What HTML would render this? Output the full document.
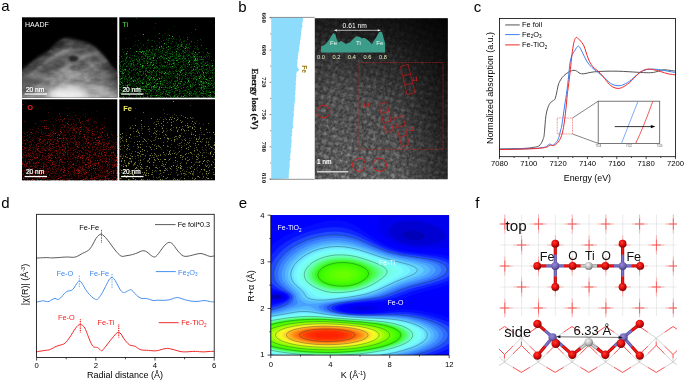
<!DOCTYPE html>
<html><head><meta charset="utf-8"><title>Figure</title>
<style>html,body{margin:0;padding:0;background:#fff}svg{display:block}text{white-space:pre}</style>
</head><body>
<svg width="685" height="381" viewBox="0 0 685 381">
<rect width="685" height="381" fill="#fff"/>
<g id="panel_a">
<defs>
<clipPath id="a1"><rect x="22.0" y="17.3" width="95.3" height="80.3"/></clipPath>
<clipPath id="a2"><rect x="119.3" y="17.3" width="95.7" height="80.3"/></clipPath>
<clipPath id="a3"><rect x="22.0" y="99.3" width="95.3" height="81"/></clipPath>
<clipPath id="a4"><rect x="119.3" y="99.3" width="95.7" height="81"/></clipPath>
<linearGradient id="ag" x1="0" y1="0" x2="0" y2="1">
<stop offset="0" stop-color="#555"/><stop offset="0.45" stop-color="#7d7d7d"/><stop offset="0.75" stop-color="#a8a8a8"/><stop offset="1" stop-color="#e0e0e0"/></linearGradient>
<filter id="ab2" filterUnits="userSpaceOnUse" x="0" y="0" width="240" height="200"><feGaussianBlur stdDeviation="2.2"/></filter>
<filter id="ab15" filterUnits="userSpaceOnUse" x="0" y="0" width="240" height="200"><feGaussianBlur stdDeviation="1.7"/></filter>
<filter id="ab1" filterUnits="userSpaceOnUse" x="0" y="0" width="240" height="200"><feGaussianBlur stdDeviation="1.2"/></filter>
<filter id="ab3" filterUnits="userSpaceOnUse" x="0" y="0" width="240" height="200"><feGaussianBlur stdDeviation="3.5"/></filter>
<filter id="anz" x="0" y="0" width="100%" height="100%"><feTurbulence type="fractalNoise" baseFrequency="0.09 0.16" numOctaves="3" seed="4"/><feColorMatrix type="matrix" values="0 0 0 0 1  0 0 0 0 1  0 0 0 0 1  1.6 0 0 0 -0.62"/></filter>
<filter id="anzd" x="0" y="0" width="100%" height="100%"><feTurbulence type="fractalNoise" baseFrequency="0.08 0.14" numOctaves="3" seed="11"/><feColorMatrix type="matrix" values="0 0 0 0 0  0 0 0 0 0  0 0 0 0 0  1.6 0 0 0 -0.62"/></filter>
<clipPath id="adome"><path d="M20 71.3L22.2 69.5L29 64L37.9 57.2L49 50.5L58 41.6L64.6 38.2L73.6 39.3L87 42.7L93.7 46L101.5 52.7L107 59.8L112.5 66.8L120 75.3L122.3 102.6L17.0 102.6Z"/></clipPath>
</defs>
<rect x="22.0" y="17.3" width="95.3" height="80.3" fill="#000"/>
<rect x="119.3" y="17.3" width="95.7" height="80.3" fill="#000"/>
<rect x="22.0" y="99.3" width="95.3" height="81" fill="#000"/>
<rect x="119.3" y="99.3" width="95.7" height="81" fill="#000"/>
<g clip-path="url(#a1)">
<path d="M20 71.3C20.37 71 20.7 70.72 22.2 69.5C23.7 68.28 26.38 66.05 29 64C31.62 61.95 34.57 59.45 37.9 57.2C41.23 54.95 45.65 53.1 49 50.5C52.35 47.9 55.4 43.65 58 41.6C60.6 39.55 62 38.58 64.6 38.2C67.2 37.82 69.87 38.55 73.6 39.3C77.33 40.05 83.65 41.58 87 42.7C90.35 43.82 91.28 44.33 93.7 46C96.12 47.67 99.28 50.4 101.5 52.7C103.72 55 105.17 57.45 107 59.8C108.83 62.15 110.33 64.22 112.5 66.8C114.67 69.38 118.75 73.88 120 75.3L131.3 137.6L8.0 137.6Z" fill="#3e3e3e" filter="url(#ab15)"/>
<path d="M20 82.3C20.37 82 20.7 81.72 22.2 80.5C23.7 79.28 26.38 77.05 29 75C31.62 72.95 34.57 70.45 37.9 68.2C41.23 65.95 45.65 64.1 49 61.5C52.35 58.9 55.4 54.65 58 52.6C60.6 50.55 62 49.58 64.6 49.2C67.2 48.82 69.87 49.55 73.6 50.3C77.33 51.05 83.65 52.58 87 53.7C90.35 54.82 91.28 55.33 93.7 57C96.12 58.67 99.28 61.4 101.5 63.7C103.72 66 105.17 68.45 107 70.8C108.83 73.15 110.33 75.22 112.5 77.8C114.67 80.38 118.75 84.88 120 86.3L131.3 137.6L8.0 137.6Z" fill="#707070" opacity="0.8" filter="url(#ab3)"/>
<path d="M20 100.3C20.37 100 20.7 99.72 22.2 98.5C23.7 97.28 26.38 95.05 29 93C31.62 90.95 34.57 88.45 37.9 86.2C41.23 83.95 45.65 82.1 49 79.5C52.35 76.9 55.4 72.65 58 70.6C60.6 68.55 62 67.58 64.6 67.2C67.2 66.82 69.87 67.55 73.6 68.3C77.33 69.05 83.65 70.58 87 71.7C90.35 72.82 91.28 73.33 93.7 75C96.12 76.67 99.28 79.4 101.5 81.7C103.72 84 105.17 86.45 107 88.8C108.83 91.15 110.33 93.22 112.5 95.8C114.67 98.38 118.75 102.88 120 104.3L131.3 137.6L8.0 137.6Z" fill="#a0a0a0" opacity="0.8" filter="url(#ab3)"/>
<g clip-path="url(#adome)" opacity="0.22"><rect x="22.0" y="17.3" width="95.3" height="80.3" filter="url(#anz)"/></g>
<g clip-path="url(#adome)" opacity="0.4"><rect x="22.0" y="17.3" width="95.3" height="80.3" filter="url(#anzd)"/></g>
<path d="M30 75.3Q52 57.3 72 47.3" stroke="#ddd" stroke-width="2.2" fill="none" opacity="0.2" filter="url(#ab1)"/>
<path d="M42 83.3Q67 65.3 92 53.3" stroke="#ddd" stroke-width="2.2" fill="none" opacity="0.2" filter="url(#ab1)"/>
<path d="M57 87.3Q80 71.3 102 61.3" stroke="#ddd" stroke-width="2.2" fill="none" opacity="0.2" filter="url(#ab1)"/>
<path d="M77 87.3Q94 75.3 112 69.3" stroke="#ddd" stroke-width="2.2" fill="none" opacity="0.2" filter="url(#ab1)"/>
<path d="M70 53.3Q84 57.3 96 69.3" stroke="#ddd" stroke-width="2.2" fill="none" opacity="0.2" filter="url(#ab1)"/>
<ellipse cx="73.6" cy="58.8" rx="4.6" ry="3" fill="#1c1c1c" opacity="0.85" filter="url(#ab1)"/>
<path d="M56.0 45.3L64.0 41.3" stroke="#222" stroke-width="3" opacity="0.6" filter="url(#ab1)"/>
<path d="M102.0 65.3L118.0 72.3" stroke="#333" stroke-width="4" opacity="0.5" filter="url(#ab1)"/>
<path d="M40.0 72.3L64.0 64.3" stroke="#333" stroke-width="4" opacity="0.45" filter="url(#ab1)"/>
<path d="M44.0 62.3Q64.0 46.3 88.0 50.3" stroke="#ccc" stroke-width="3" fill="none" opacity="0.25" filter="url(#ab1)"/>
<path d="M82.0 57.3Q94.0 48.3 106.0 62.3" stroke="#ccc" stroke-width="5" fill="none" opacity="0.25" filter="url(#ab1)"/>
<ellipse cx="67.0" cy="94.3" rx="19" ry="8" fill="#fff" opacity="0.85" filter="url(#ab3)"/><ellipse cx="82.0" cy="101.3" rx="22" ry="4" fill="#fff" opacity="0.4" filter="url(#ab3)"/><ellipse cx="100.0" cy="95.3" rx="20" ry="8" fill="#fff" opacity="0.3" filter="url(#ab3)"/>
<ellipse cx="36.0" cy="79.3" rx="14" ry="6" fill="#fff" opacity="0.2" filter="url(#ab3)"/>
<ellipse cx="44.0" cy="103.3" rx="22" ry="4" fill="#fff" opacity="0.25" filter="url(#ab3)"/><path d="M24.0 79.3L50.0 83.3" stroke="#222" stroke-width="5" opacity="0.35" filter="url(#ab15)"/>
</g>
<g clip-path="url(#a2)"><g transform="translate(119 17.5)" stroke-width="1" fill="none"><path d="M94 8h1M55 9h1M35 11h1M49 12h1M72 15h1M46 16h1M39 17h1M45 17h1M49 17h1M16 18h1M43 18h1M48 18h1M36 19h1M43 20h1M47 20h1M54 20h1M64 20h1M49 21h1M61 21h1M74 21h1M49 22h1M53 22h1M55 22h1M57 22h1M32 23h1M48 23h1M60 23h1M61 23h1M16 24h1M38 24h1M60 24h1M65 24h1M67 24h1M29 25h1M40 25h1M47 25h1M57 25h1M72 25h1M75 25h1M21 26h1M27 26h1M36 26h1M40 26h1M47 26h1M51 26h1M57 26h1M62 26h1M63 26h1M68 26h1M78 26h1M16 27h1M24 27h1M45 27h1M57 27h1M61 27h1M65 27h1M15 28h1M38 28h1M42 28h1M56 28h1M59 28h1M61 28h1M67 28h1M69 28h1M75 28h1M78 28h1M14 29h1M28 29h1M38 29h1M40 29h1M51 29h1M60 29h1M67 29h1M19 30h1M22 30h1M27 30h1M36 30h1M43 30h1M49 30h1M51 30h1M53 30h1M66 30h1M68 30h1M6 31h1M8 31h1M21 31h1M26 31h1M28 31h1M34 31h1M37 31h1M38 31h1M42 31h1M43 31h1M45 31h1M50 31h1M57 31h1M77 31h1M79 31h1M21 32h1M31 32h1M41 32h1M44 32h1M48 32h1M51 32h1M53 32h1M55 32h1M56 32h1M65 32h1M68 32h1M16 33h1M23 33h1M36 33h1M38 33h1M47 33h1M49 33h1M56 33h1M60 33h1M64 33h1M70 33h1M74 33h1M5 34h1M19 34h1M22 34h1M28 34h1M31 34h1M33 34h1M34 34h1M37 34h1M39 34h1M42 34h1M43 34h1M45 34h1M50 34h1M52 34h1M63 34h1M67 34h1M70 34h1M73 34h1M83 34h1M18 35h1M25 35h1M26 35h1M27 35h1M33 35h1M36 35h1M39 35h1M40 35h1M48 35h1M57 35h1M58 35h1M59 35h1M63 35h1M68 35h1M70 35h1M71 35h1M73 35h1M79 35h1M84 35h1M16 36h1M32 36h1M34 36h1M41 36h1M42 36h1M43 36h1M44 36h1M47 36h1M48 36h1M49 36h1M53 36h1M54 36h1M56 36h1M64 36h1M66 36h1M69 36h1M77 36h1M78 36h1M79 36h1M88 36h1M6 37h1M20 37h1M23 37h1M29 37h1M30 37h1M31 37h1M32 37h1M37 37h1M39 37h1M44 37h1M47 37h1M48 37h1M56 37h1M64 37h1M67 37h1M68 37h1M69 37h1M76 37h1M87 37h1M11 38h1M18 38h1M25 38h1M27 38h1M31 38h1M32 38h1M33 38h1M41 38h1M44 38h1M47 38h1M48 38h1M50 38h1M53 38h1M54 38h1M55 38h1M60 38h1M62 38h1M65 38h1M67 38h1M87 38h1M0 39h1M5 39h1M16 39h1M17 39h1M18 39h1M20 39h1M24 39h1M27 39h1M31 39h1M34 39h1M39 39h1M40 39h1M43 39h1M44 39h1M48 39h1M55 39h1M56 39h1M57 39h1M58 39h1M61 39h1M63 39h1M65 39h1M66 39h1M73 39h1M76 39h1M77 39h1M81 39h1M86 39h1M90 39h1M92 39h1M8 40h1M11 40h1M18 40h1M24 40h1M29 40h1M31 40h1M32 40h1M38 40h1M39 40h1M45 40h1M46 40h1M48 40h1M55 40h1M56 40h1M58 40h1M62 40h1M65 40h1M71 40h1M73 40h1M74 40h1M77 40h1M78 40h1M79 40h1M80 40h1M10 41h1M11 41h1M12 41h1M13 41h1M17 41h1M19 41h1M21 41h1M26 41h1M32 41h1M33 41h1M40 41h1M41 41h1M42 41h1M48 41h1M51 41h1M59 41h1M64 41h1M71 41h1M74 41h1M0 42h1M12 42h1M27 42h1M29 42h1M36 42h1M41 42h1M44 42h1M45 42h1M46 42h1M47 42h1M48 42h1M49 42h1M52 42h1M58 42h1M61 42h1M62 42h1M63 42h1M66 42h1M67 42h1M69 42h1M72 42h1M74 42h1M77 42h1M89 42h1M3 43h1M4 43h1M7 43h1M9 43h1M11 43h1M15 43h1M19 43h1M24 43h1M25 43h1M40 43h1M41 43h1M45 43h1M48 43h1M68 43h1M71 43h1M73 43h1M79 43h1M84 43h1M0 44h1M3 44h1M4 44h1M5 44h1M6 44h1M10 44h1M13 44h1M21 44h1M24 44h1M27 44h1M29 44h1M33 44h1M37 44h1M45 44h1M50 44h1M54 44h1M58 44h1M61 44h1M62 44h1M65 44h1M67 44h1M71 44h1M78 44h1M83 44h1M88 44h1M10 45h1M19 45h1M25 45h1M37 45h1M38 45h1M40 45h1M50 45h1M60 45h1M61 45h1M70 45h1M72 45h1M74 45h1M75 45h1M77 45h1M79 45h1M81 45h1M82 45h1M83 45h1M84 45h1M86 45h1M87 45h1M6 46h1M10 46h1M13 46h1M14 46h1M19 46h1M21 46h1M24 46h1M25 46h1M26 46h1M27 46h1M34 46h1M35 46h1M40 46h1M42 46h1M48 46h1M51 46h1M57 46h1M58 46h1M64 46h1M69 46h1M73 46h1M74 46h1M81 46h1M1 47h1M6 47h1M11 47h1M16 47h1M17 47h1M18 47h1M30 47h1M33 47h1M48 47h1M49 47h1M56 47h1M57 47h1M58 47h1M65 47h1M66 47h1M69 47h1M74 47h1M77 47h1M83 47h1M85 47h1M89 47h1M0 48h1M7 48h1M8 48h1M10 48h1M17 48h1M31 48h1M34 48h1M41 48h1M42 48h1M54 48h1M58 48h1M61 48h1M62 48h1M63 48h1M64 48h1M65 48h1M69 48h1M70 48h1M79 48h1M83 48h1M84 48h1M90 48h1M91 48h1M92 48h1M94 48h1M0 49h1M5 49h1M9 49h1M14 49h1M15 49h1M18 49h1M22 49h1M25 49h1M29 49h1M30 49h1M32 49h1M35 49h1M38 49h1M41 49h1M42 49h1M47 49h1M48 49h1M50 49h1M52 49h1M54 49h1M65 49h1M66 49h1M73 49h1M78 49h1M79 49h1M90 49h1M3 50h1M11 50h1M12 50h1M13 50h1M16 50h1M25 50h1M28 50h1M29 50h1M33 50h1M37 50h1M41 50h1M45 50h1M47 50h1M52 50h1M53 50h1M54 50h1M69 50h1M76 50h1M77 50h1M82 50h1M84 50h1M87 50h1M95 50h1M0 51h1M3 51h1M5 51h1M10 51h1M14 51h1M15 51h1M16 51h1M17 51h1M22 51h1M30 51h1M39 51h1M41 51h1M44 51h1M45 51h1M48 51h1M52 51h1M53 51h1M54 51h1M60 51h1M61 51h1M62 51h1M63 51h1M67 51h1M76 51h1M77 51h1M83 51h1M94 51h1M2 52h1M4 52h1M7 52h1M15 52h1M16 52h1M18 52h1M26 52h1M40 52h1M48 52h1M60 52h1M65 52h1M68 52h1M70 52h1M72 52h1M78 52h1M85 52h1M90 52h1M93 52h1M3 53h1M5 53h1M8 53h1M9 53h1M13 53h1M14 53h1M19 53h1M23 53h1M40 53h1M41 53h1M43 53h1M45 53h1M50 53h1M57 53h1M66 53h1M69 53h1M74 53h1M75 53h1M77 53h1M82 53h1M84 53h1M85 53h1M87 53h1M88 53h1M89 53h1M92 53h1M94 53h1M0 54h1M7 54h1M12 54h1M29 54h1M39 54h1M48 54h1M51 54h1M53 54h1M56 54h1M66 54h1M71 54h1M76 54h1M77 54h1M78 54h1M88 54h1M92 54h1M0 55h1M4 55h1M9 55h1M11 55h1M15 55h1M20 55h1M21 55h1M37 55h1M44 55h1M50 55h1M51 55h1M53 55h1M55 55h1M64 55h1M87 55h1M95 55h1M8 56h1M9 56h1M10 56h1M31 56h1M35 56h1M55 56h1M57 56h1M60 56h1M65 56h1M67 56h1M80 56h1M82 56h1M3 57h1M6 57h1M7 57h1M14 57h1M15 57h1M21 57h1M23 57h1M24 57h1M30 57h1M34 57h1M45 57h1M47 57h1M56 57h1M67 57h1M83 57h1M85 57h1M94 57h1M2 58h1M3 58h1M6 58h1M8 58h1M10 58h1M15 58h1M18 58h1M19 58h1M20 58h1M23 58h1M29 58h1M30 58h1M31 58h1M33 58h1M34 58h1M35 58h1M40 58h1M47 58h1M51 58h1M52 58h1M53 58h1M55 58h1M56 58h1M58 58h1M61 58h1M63 58h1M65 58h1M72 58h1M78 58h1M90 58h1M93 58h1M95 58h1M1 59h1M3 59h1M7 59h1M11 59h1M14 59h1M15 59h1M27 59h1M37 59h1M46 59h1M47 59h1M49 59h1M52 59h1M55 59h1M58 59h1M59 59h1M63 59h1M65 59h1M72 59h1M73 59h1M90 59h1M92 59h1M93 59h1M94 59h1M95 59h1M4 60h1M13 60h1M20 60h1M24 60h1M30 60h1M31 60h1M35 60h1M40 60h1M42 60h1M45 60h1M47 60h1M50 60h1M53 60h1M55 60h1M56 60h1M60 60h1M63 60h1M68 60h1M70 60h1M76 60h1M82 60h1M83 60h1M84 60h1M89 60h1M91 60h1M1 61h1M9 61h1M21 61h1M33 61h1M35 61h1M37 61h1M38 61h1M41 61h1M44 61h1M48 61h1M53 61h1M61 61h1M67 61h1M70 61h1M73 61h1M79 61h1M82 61h1M85 61h1M86 61h1M87 61h1M92 61h1M94 61h1M6 62h1M7 62h1M10 62h1M13 62h1M19 62h1M20 62h1M23 62h1M25 62h1M27 62h1M31 62h1M43 62h1M46 62h1M47 62h1M52 62h1M53 62h1M58 62h1M63 62h1M69 62h1M70 62h1M75 62h1M78 62h1M81 62h1M82 62h1M85 62h1M94 62h1M5 63h1M9 63h1M20 63h1M22 63h1M26 63h1M28 63h1M29 63h1M31 63h1M33 63h1M34 63h1M42 63h1M46 63h1M55 63h1M56 63h1M57 63h1M62 63h1M73 63h1M80 63h1M93 63h1M94 63h1M95 63h1M3 64h1M7 64h1M8 64h1M13 64h1M17 64h1M23 64h1M24 64h1M25 64h1M26 64h1M33 64h1M40 64h1M43 64h1M44 64h1M45 64h1M50 64h1M51 64h1M52 64h1M58 64h1M60 64h1M66 64h1M68 64h1M71 64h1M72 64h1M76 64h1M79 64h1M83 64h1M89 64h1M90 64h1M91 64h1M93 64h1M94 64h1M3 65h1M17 65h1M18 65h1M24 65h1M25 65h1M29 65h1M33 65h1M41 65h1M43 65h1M44 65h1M49 65h1M56 65h1M60 65h1M63 65h1M69 65h1M72 65h1M74 65h1M79 65h1M80 65h1M83 65h1M89 65h1M1 66h1M10 66h1M11 66h1M12 66h1M13 66h1M14 66h1M16 66h1M18 66h1M21 66h1M29 66h1M34 66h1M42 66h1M50 66h1M51 66h1M52 66h1M55 66h1M64 66h1M65 66h1M67 66h1M68 66h1M69 66h1M82 66h1M86 66h1M87 66h1M88 66h1M93 66h1M94 66h1M14 67h1M15 67h1M16 67h1M19 67h1M20 67h1M46 67h1M49 67h1M55 67h1M58 67h1M69 67h1M77 67h1M83 67h1M84 67h1M95 67h1M9 68h1M11 68h1M14 68h1M15 68h1M21 68h1M30 68h1M41 68h1M43 68h1M44 68h1M45 68h1M46 68h1M50 68h1M51 68h1M53 68h1M56 68h1M62 68h1M63 68h1M70 68h1M72 68h1M73 68h1M79 68h1M80 68h1M85 68h1M86 68h1M91 68h1M0 69h1M2 69h1M13 69h1M15 69h1M16 69h1M20 69h1M21 69h1M22 69h1M25 69h1M29 69h1M30 69h1M36 69h1M37 69h1M41 69h1M53 69h1M55 69h1M59 69h1M60 69h1M61 69h1M69 69h1M82 69h1M83 69h1M87 69h1M88 69h1M89 69h1M90 69h1M92 69h1M95 69h1M2 70h1M3 70h1M7 70h1M14 70h1M19 70h1M20 70h1M26 70h1M28 70h1M33 70h1M43 70h1M45 70h1M49 70h1M53 70h1M55 70h1M62 70h1M69 70h1M71 70h1M73 70h1M78 70h1M79 70h1M81 70h1M85 70h1M87 70h1M88 70h1M93 70h1M95 70h1M0 71h1M5 71h1M6 71h1M13 71h1M22 71h1M25 71h1M27 71h1M35 71h1M37 71h1M49 71h1M54 71h1M66 71h1M68 71h1M88 71h1M89 71h1M90 71h1M91 71h1M92 71h1M93 71h1M5 72h1M6 72h1M13 72h1M15 72h1M21 72h1M26 72h1M27 72h1M31 72h1M32 72h1M34 72h1M38 72h1M41 72h1M57 72h1M58 72h1M59 72h1M66 72h1M67 72h1M70 72h1M76 72h1M84 72h1M95 72h1M4 73h1M5 73h1M6 73h1M17 73h1M19 73h1M25 73h1M27 73h1M38 73h1M40 73h1M41 73h1M48 73h1M49 73h1M60 73h1M62 73h1M64 73h1M67 73h1M70 73h1M73 73h1M75 73h1M81 73h1M88 73h1M89 73h1M90 73h1M0 74h1M16 74h1M21 74h1M29 74h1M34 74h1M38 74h1M40 74h1M43 74h1M49 74h1M50 74h1M52 74h1M61 74h1M64 74h1M69 74h1M72 74h1M78 74h1M85 74h1M86 74h1M89 74h1M91 74h1M1 75h1M2 75h1M7 75h1M11 75h1M12 75h1M13 75h1M21 75h1M29 75h1M34 75h1M36 75h1M38 75h1M44 75h1M47 75h1M48 75h1M56 75h1M61 75h1M62 75h1M65 75h1M69 75h1M70 75h1M71 75h1M75 75h1M78 75h1M79 75h1M81 75h1M83 75h1M84 75h1M88 75h1M93 75h1M95 75h1M0 76h1M2 76h1M3 76h1M4 76h1M20 76h1M24 76h1M29 76h1M30 76h1M36 76h1M37 76h1M39 76h1M40 76h1M41 76h1M42 76h1M48 76h1M54 76h1M55 76h1M59 76h1M61 76h1M62 76h1M65 76h1M66 76h1M75 76h1M87 76h1M92 76h1M2 77h1M3 77h1M4 77h1M6 77h1M7 77h1M14 77h1M18 77h1M20 77h1M26 77h1M27 77h1M29 77h1M32 77h1M43 77h1M46 77h1M47 77h1M52 77h1M55 77h1M56 77h1M58 77h1M60 77h1M65 77h1M66 77h1M68 77h1M70 77h1M73 77h1M74 77h1M75 77h1M77 77h1M78 77h1M81 77h1M84 77h1M88 77h1M90 77h1M9 78h1M11 78h1M20 78h1M24 78h1M28 78h1M34 78h1M38 78h1M41 78h1M46 78h1M51 78h1M58 78h1M60 78h1M67 78h1M73 78h1M76 78h1M77 78h1M79 78h1M80 78h1M87 78h1M92 78h1M94 78h1M0 79h1M1 79h1M2 79h1M3 79h1M7 79h1M10 79h1M14 79h1M16 79h1M17 79h1M18 79h1M36 79h1M37 79h1M39 79h1M47 79h1M53 79h1M56 79h1M61 79h1M66 79h1M67 79h1M71 79h1M76 79h1M77 79h1M85 79h1M93 79h1M6 80h1M13 80h1M14 80h1M16 80h1M18 80h1M22 80h1M30 80h1M32 80h1M34 80h1M35 80h1M37 80h1M41 80h1M43 80h1M46 80h1M53 80h1M55 80h1M63 80h1M64 80h1M68 80h1M71 80h1M73 80h1M81 80h1" stroke="#002800"/><path d="M17 1h1M36 6h1M60 19h1M6 21h1M52 21h1M54 21h1M29 22h1M47 22h1M61 22h1M81 22h1M19 23h1M28 23h1M29 23h1M33 23h1M44 23h1M49 23h1M65 23h1M78 23h1M35 24h1M42 24h1M64 24h1M49 25h1M52 26h1M70 26h1M47 27h1M63 27h1M70 27h1M18 28h1M24 28h1M37 28h1M58 28h1M32 29h1M44 29h1M55 29h1M61 29h1M63 29h1M71 29h1M76 29h1M42 30h1M59 30h1M60 30h1M64 30h1M78 30h1M51 31h1M65 31h1M68 31h1M70 31h1M75 31h1M3 32h1M30 32h1M33 32h1M36 32h1M39 32h1M58 32h1M59 32h1M61 32h1M78 32h1M79 32h1M28 33h1M33 33h1M39 33h1M63 33h1M66 33h1M68 33h1M18 34h1M27 34h1M29 34h1M41 34h1M53 34h1M74 34h1M4 35h1M15 35h1M21 35h1M24 35h1M29 35h1M43 35h1M47 35h1M53 35h1M55 35h1M66 35h1M8 36h1M19 36h1M27 36h1M33 36h1M35 36h1M36 36h1M50 36h1M51 36h1M52 36h1M57 36h1M60 36h1M62 36h1M72 36h1M73 36h1M74 36h1M89 36h1M90 36h1M5 37h1M7 37h1M24 37h1M25 37h1M28 37h1M33 37h1M45 37h1M51 37h1M59 37h1M60 37h1M70 37h1M73 37h1M75 37h1M77 37h1M78 37h1M13 38h1M35 38h1M36 38h1M42 38h1M57 38h1M59 38h1M64 38h1M70 38h1M74 38h1M76 38h1M89 38h1M8 39h1M15 39h1M22 39h1M23 39h1M26 39h1M29 39h1M35 39h1M36 39h1M52 39h1M68 39h1M71 39h1M74 39h1M78 39h1M80 39h1M85 39h1M88 39h1M19 40h1M22 40h1M28 40h1M33 40h1M50 40h1M51 40h1M57 40h1M64 40h1M72 40h1M84 40h1M86 40h1M90 40h1M3 41h1M24 41h1M30 41h1M44 41h1M45 41h1M55 41h1M56 41h1M61 41h1M65 41h1M69 41h1M6 42h1M15 42h1M22 42h1M23 42h1M30 42h1M53 42h1M54 42h1M59 42h1M65 42h1M75 42h1M80 42h1M81 42h1M84 42h1M6 43h1M14 43h1M18 43h1M20 43h1M27 43h1M32 43h1M33 43h1M35 43h1M52 43h1M53 43h1M55 43h1M67 43h1M69 43h1M92 43h1M94 43h1M8 44h1M18 44h1M19 44h1M20 44h1M25 44h1M46 44h1M51 44h1M63 44h1M66 44h1M74 44h1M76 44h1M84 44h1M1 45h1M7 45h1M20 45h1M28 45h1M29 45h1M34 45h1M36 45h1M41 45h1M45 45h1M54 45h1M55 45h1M64 45h1M88 45h1M9 46h1M11 46h1M23 46h1M31 46h1M37 46h1M50 46h1M53 46h1M55 46h1M67 46h1M90 46h1M93 46h1M4 47h1M9 47h1M42 47h1M55 47h1M59 47h1M64 47h1M68 47h1M72 47h1M75 47h1M78 47h1M79 47h1M84 47h1M1 48h1M4 48h1M11 48h1M12 48h1M14 48h1M15 48h1M26 48h1M28 48h1M29 48h1M30 48h1M36 48h1M40 48h1M43 48h1M44 48h1M45 48h1M47 48h1M55 48h1M66 48h1M77 48h1M80 48h1M85 48h1M86 48h1M89 48h1M1 49h1M3 49h1M8 49h1M11 49h1M21 49h1M24 49h1M46 49h1M51 49h1M56 49h1M72 49h1M80 49h1M92 49h1M93 49h1M0 50h1M20 50h1M27 50h1M31 50h1M36 50h1M49 50h1M51 50h1M55 50h1M57 50h1M63 50h1M66 50h1M71 50h1M72 50h1M90 50h1M93 50h1M1 51h1M18 51h1M23 51h1M26 51h1M27 51h1M31 51h1M34 51h1M37 51h1M40 51h1M43 51h1M74 51h1M78 51h1M82 51h1M84 51h1M88 51h1M90 51h1M95 51h1M3 52h1M17 52h1M20 52h1M21 52h1M27 52h1M39 52h1M57 52h1M62 52h1M63 52h1M77 52h1M81 52h1M82 52h1M86 52h1M94 52h1M12 53h1M16 53h1M26 53h1M27 53h1M47 53h1M56 53h1M59 53h1M63 53h1M72 53h1M79 53h1M83 53h1M91 53h1M3 54h1M9 54h1M22 54h1M24 54h1M31 54h1M32 54h1M33 54h1M35 54h1M40 54h1M42 54h1M43 54h1M45 54h1M54 54h1M58 54h1M61 54h1M62 54h1M72 54h1M79 54h1M89 54h1M5 55h1M10 55h1M24 55h1M28 55h1M32 55h1M33 55h1M36 55h1M41 55h1M42 55h1M43 55h1M49 55h1M66 55h1M67 55h1M70 55h1M71 55h1M73 55h1M74 55h1M80 55h1M88 55h1M91 55h1M2 56h1M17 56h1M19 56h1M26 56h1M32 56h1M37 56h1M44 56h1M46 56h1M47 56h1M49 56h1M51 56h1M52 56h1M63 56h1M69 56h1M70 56h1M71 56h1M75 56h1M76 56h1M78 56h1M89 56h1M93 56h1M95 56h1M0 57h1M19 57h1M32 57h1M37 57h1M40 57h1M49 57h1M50 57h1M59 57h1M60 57h1M72 57h1M81 57h1M84 57h1M4 58h1M46 58h1M57 58h1M64 58h1M68 58h1M71 58h1M74 58h1M75 58h1M87 58h1M10 59h1M26 59h1M29 59h1M30 59h1M31 59h1M36 59h1M42 59h1M43 59h1M51 59h1M56 59h1M66 59h1M76 59h1M77 59h1M79 59h1M81 59h1M82 59h1M0 60h1M3 60h1M5 60h1M9 60h1M10 60h1M12 60h1M14 60h1M16 60h1M25 60h1M28 60h1M29 60h1M39 60h1M43 60h1M49 60h1M75 60h1M77 60h1M80 60h1M85 60h1M3 61h1M5 61h1M7 61h1M11 61h1M17 61h1M19 61h1M20 61h1M24 61h1M28 61h1M34 61h1M45 61h1M50 61h1M60 61h1M63 61h1M66 61h1M68 61h1M69 61h1M72 61h1M75 61h1M76 61h1M78 61h1M5 62h1M8 62h1M11 62h1M15 62h1M33 62h1M37 62h1M40 62h1M60 62h1M62 62h1M68 62h1M74 62h1M83 62h1M86 62h1M88 62h1M3 63h1M8 63h1M10 63h1M13 63h1M15 63h1M18 63h1M21 63h1M23 63h1M36 63h1M37 63h1M44 63h1M47 63h1M52 63h1M77 63h1M79 63h1M81 63h1M88 63h1M89 63h1M90 63h1M5 64h1M11 64h1M12 64h1M16 64h1M19 64h1M27 64h1M36 64h1M39 64h1M42 64h1M48 64h1M55 64h1M57 64h1M65 64h1M84 64h1M10 65h1M19 65h1M22 65h1M27 65h1M45 65h1M51 65h1M59 65h1M68 65h1M70 65h1M81 65h1M85 65h1M91 65h1M95 65h1M17 66h1M20 66h1M32 66h1M36 66h1M37 66h1M39 66h1M43 66h1M47 66h1M48 66h1M73 66h1M79 66h1M83 66h1M85 66h1M90 66h1M95 66h1M6 67h1M8 67h1M10 67h1M11 67h1M27 67h1M30 67h1M31 67h1M41 67h1M44 67h1M54 67h1M56 67h1M61 67h1M64 67h1M73 67h1M74 67h1M81 67h1M88 67h1M90 67h1M94 67h1M0 68h1M3 68h1M6 68h1M7 68h1M26 68h1M27 68h1M31 68h1M37 68h1M42 68h1M48 68h1M64 68h1M82 68h1M83 68h1M84 68h1M23 69h1M33 69h1M40 69h1M46 69h1M50 69h1M51 69h1M73 69h1M85 69h1M94 69h1M4 70h1M12 70h1M23 70h1M25 70h1M30 70h1M44 70h1M47 70h1M48 70h1M50 70h1M51 70h1M56 70h1M58 70h1M67 70h1M72 70h1M80 70h1M83 70h1M84 70h1M9 71h1M10 71h1M12 71h1M19 71h1M21 71h1M24 71h1M32 71h1M34 71h1M39 71h1M48 71h1M50 71h1M55 71h1M71 71h1M77 71h1M81 71h1M84 71h1M87 71h1M11 72h1M14 72h1M19 72h1M20 72h1M28 72h1M33 72h1M35 72h1M36 72h1M44 72h1M52 72h1M53 72h1M60 72h1M77 72h1M82 72h1M85 72h1M3 73h1M8 73h1M26 73h1M50 73h1M51 73h1M56 73h1M57 73h1M61 73h1M65 73h1M87 73h1M7 74h1M11 74h1M12 74h1M17 74h1M18 74h1M22 74h1M24 74h1M31 74h1M32 74h1M37 74h1M39 74h1M46 74h1M53 74h1M55 74h1M63 74h1M67 74h1M68 74h1M70 74h1M71 74h1M76 74h1M87 74h1M93 74h1M94 74h1M95 74h1M14 75h1M19 75h1M26 75h1M30 75h1M41 75h1M42 75h1M51 75h1M55 75h1M72 75h1M77 75h1M82 75h1M87 75h1M89 75h1M94 75h1M9 76h1M12 76h1M14 76h1M18 76h1M19 76h1M21 76h1M27 76h1M32 76h1M50 76h1M64 76h1M67 76h1M71 76h1M72 76h1M76 76h1M77 76h1M81 76h1M85 76h1M86 76h1M0 77h1M5 77h1M9 77h1M10 77h1M16 77h1M19 77h1M21 77h1M28 77h1M38 77h1M41 77h1M42 77h1M49 77h1M57 77h1M69 77h1M71 77h1M76 77h1M80 77h1M87 77h1M17 78h1M32 78h1M33 78h1M35 78h1M36 78h1M39 78h1M40 78h1M49 78h1M50 78h1M56 78h1M59 78h1M62 78h1M66 78h1M78 78h1M82 78h1M83 78h1M91 78h1M24 79h1M31 79h1M32 79h1M43 79h1M54 79h1M63 79h1M68 79h1M78 79h1M79 79h1M84 79h1M88 79h1M90 79h1M2 80h1M8 80h1M15 80h1M23 80h1M48 80h1M49 80h1M50 80h1M60 80h1M62 80h1M67 80h1M69 80h1M83 80h1M87 80h1M88 80h1M93 80h1M94 80h1M95 80h1" stroke="#0a440a"/><path d="M37 0h1M76 12h1M40 16h1M50 18h1M68 20h1M40 21h1M50 21h1M68 22h1M53 24h1M72 24h1M62 25h1M59 27h1M62 27h1M67 27h1M62 28h1M82 28h1M33 29h1M58 29h1M62 29h1M66 29h1M47 30h1M67 30h1M69 30h1M11 31h1M44 31h1M58 31h1M87 31h1M20 32h1M37 32h1M49 32h1M27 33h1M30 33h1M43 33h1M8 34h1M20 34h1M21 34h1M24 34h1M25 34h1M48 34h1M64 34h1M32 35h1M46 35h1M65 35h1M80 35h1M88 35h1M24 36h1M26 36h1M27 37h1M35 37h1M53 37h1M57 37h1M15 38h1M26 38h1M46 38h1M61 38h1M69 38h1M2 39h1M28 39h1M30 39h1M41 39h1M42 39h1M51 39h1M53 39h1M59 39h1M60 39h1M64 39h1M82 39h1M7 40h1M10 40h1M40 40h1M43 40h1M49 40h1M75 40h1M82 40h1M7 41h1M25 41h1M28 41h1M31 41h1M38 41h1M50 41h1M57 41h1M60 41h1M63 41h1M66 41h1M78 41h1M17 42h1M20 42h1M31 42h1M78 42h1M82 42h1M83 42h1M13 43h1M34 43h1M37 43h1M50 43h1M54 43h1M58 43h1M64 43h1M70 43h1M76 43h1M77 43h1M78 43h1M2 44h1M11 44h1M28 44h1M14 45h1M31 45h1M46 45h1M48 45h1M59 45h1M5 46h1M12 46h1M18 46h1M76 46h1M77 46h1M78 46h1M82 46h1M86 46h1M0 47h1M12 47h1M14 47h1M31 47h1M50 47h1M52 47h1M88 47h1M24 48h1M7 49h1M37 49h1M43 49h1M45 49h1M62 49h1M68 49h1M82 49h1M83 49h1M23 50h1M35 50h1M38 50h1M61 50h1M35 51h1M5 52h1M10 52h1M14 52h1M64 52h1M76 52h1M80 52h1M87 52h1M0 53h1M4 53h1M6 53h1M30 53h1M38 53h1M61 53h1M73 53h1M93 53h1M1 54h1M2 54h1M20 54h1M21 54h1M26 54h1M28 54h1M37 54h1M50 54h1M57 54h1M60 54h1M83 54h1M3 55h1M18 55h1M29 55h1M30 55h1M40 55h1M78 55h1M86 55h1M93 55h1M3 56h1M24 56h1M42 56h1M48 56h1M54 56h1M58 56h1M72 56h1M84 56h1M87 56h1M9 57h1M26 57h1M58 57h1M62 57h1M22 58h1M37 58h1M60 58h1M81 58h1M84 58h1M6 59h1M80 59h1M57 60h1M58 60h1M81 60h1M93 60h1M29 61h1M31 61h1M42 61h1M58 61h1M74 61h1M84 61h1M90 61h1M1 62h1M18 62h1M24 62h1M14 63h1M16 63h1M30 63h1M45 63h1M58 63h1M92 63h1M0 64h1M1 64h1M21 64h1M56 64h1M61 64h1M81 64h1M86 64h1M8 65h1M23 65h1M31 65h1M35 65h1M66 65h1M76 65h1M82 65h1M84 65h1M3 66h1M24 66h1M27 66h1M30 66h1M54 66h1M56 66h1M59 66h1M60 66h1M61 66h1M84 66h1M92 66h1M1 67h1M9 67h1M28 67h1M37 67h1M43 67h1M65 67h1M71 67h1M76 67h1M82 67h1M91 67h1M4 68h1M10 68h1M28 68h1M55 68h1M71 68h1M75 68h1M89 68h1M93 68h1M17 69h1M24 69h1M26 69h1M27 69h1M32 69h1M35 69h1M38 69h1M54 69h1M57 69h1M68 69h1M84 69h1M1 70h1M6 70h1M21 70h1M27 70h1M32 70h1M34 70h1M35 70h1M36 70h1M37 70h1M46 70h1M59 70h1M64 70h1M94 70h1M15 71h1M18 71h1M20 71h1M40 71h1M57 71h1M62 71h1M82 71h1M85 71h1M1 72h1M8 72h1M18 72h1M23 72h1M24 72h1M29 72h1M30 72h1M39 72h1M40 72h1M45 72h1M69 72h1M2 73h1M18 73h1M31 73h1M32 73h1M37 73h1M47 73h1M58 73h1M66 73h1M83 73h1M27 74h1M44 74h1M47 74h1M60 74h1M75 74h1M80 74h1M84 74h1M0 75h1M3 75h1M20 75h1M49 75h1M50 75h1M68 75h1M90 75h1M1 76h1M6 76h1M26 76h1M28 76h1M43 76h1M46 76h1M60 76h1M74 76h1M82 76h1M83 76h1M84 76h1M95 76h1M91 77h1M0 78h1M10 78h1M31 78h1M55 78h1M65 78h1M70 78h1M72 78h1M89 78h1M90 78h1M4 79h1M21 79h1M28 79h1M41 79h1M51 79h1M55 79h1M62 79h1M91 79h1M95 79h1M33 80h1M36 80h1M42 80h1M52 80h1M65 80h1M75 80h1M76 80h1" stroke="#146a14"/><path d="M24 17h1M53 19h1M45 26h1M42 29h1M49 29h1M40 30h1M66 31h1M17 34h1M23 34h1M57 34h1M22 35h1M76 35h1M7 36h1M75 39h1M34 40h1M34 41h1M47 41h1M76 41h1M76 42h1M49 43h1M57 43h1M75 43h1M70 44h1M32 45h1M69 45h1M28 46h1M54 46h1M21 47h1M34 47h1M70 47h1M23 48h1M33 48h1M87 48h1M93 48h1M23 49h1M53 49h1M75 49h1M78 50h1M6 52h1M74 52h1M34 53h1M62 53h1M46 55h1M61 55h1M84 55h1M4 56h1M45 56h1M66 57h1M27 58h1M85 59h1M32 60h1M34 60h1M2 61h1M12 61h1M40 61h1M80 61h1M91 61h1M30 62h1M35 62h1M38 62h1M77 62h1M87 62h1M69 63h1M14 64h1M41 64h1M62 64h1M69 64h1M82 64h1M2 65h1M87 65h1M0 66h1M23 66h1M38 66h1M41 66h1M89 66h1M29 67h1M80 67h1M8 68h1M35 68h1M58 68h1M8 69h1M34 69h1M71 69h1M86 69h1M5 70h1M18 70h1M40 70h1M42 70h1M52 70h1M82 70h1M56 71h1M22 72h1M25 72h1M13 73h1M91 75h1M70 76h1M22 77h1M48 77h1M37 78h1M58 79h1M64 79h1M12 80h1M57 80h1" stroke="#2aa82a"/></g></g>
<g clip-path="url(#a3)"><g transform="translate(22 99.5)" stroke-width="1" fill="none"><path d="M23 3h1M43 8h1M11 9h1M27 9h1M21 10h1M61 10h1M74 12h1M51 13h1M43 14h1M47 14h1M63 14h1M65 15h1M35 16h1M31 17h1M34 18h1M50 18h1M53 18h1M58 18h1M72 18h1M74 19h1M27 20h1M33 20h1M46 20h1M47 20h1M48 20h1M68 20h1M18 21h1M23 21h1M52 21h1M3 22h1M28 22h1M31 22h1M50 22h1M52 22h1M65 22h1M69 22h1M21 23h1M57 23h1M71 23h1M73 23h1M29 24h1M34 24h1M49 24h1M60 24h1M72 24h1M24 25h1M52 25h1M59 25h1M62 25h1M66 25h1M67 25h1M83 25h1M37 26h1M42 26h1M47 26h1M52 26h1M54 26h1M58 26h1M68 26h1M70 26h1M78 26h1M16 27h1M23 27h1M31 27h1M39 27h1M46 27h1M60 27h1M70 27h1M11 28h1M23 28h1M26 28h1M32 28h1M36 28h1M43 28h1M45 28h1M50 28h1M52 28h1M54 28h1M61 28h1M63 28h1M67 28h1M80 28h1M23 29h1M33 29h1M39 29h1M45 29h1M46 29h1M50 29h1M56 29h1M57 29h1M65 29h1M72 29h1M74 29h1M76 29h1M78 29h1M81 29h1M83 29h1M16 30h1M19 30h1M35 30h1M44 30h1M47 30h1M49 30h1M53 30h1M63 30h1M64 30h1M71 30h1M81 30h1M17 31h1M23 31h1M32 31h1M37 31h1M38 31h1M42 31h1M43 31h1M44 31h1M46 31h1M48 31h1M49 31h1M50 31h1M56 31h1M63 31h1M68 31h1M73 31h1M79 31h1M82 31h1M6 32h1M15 32h1M30 32h1M41 32h1M42 32h1M45 32h1M51 32h1M53 32h1M57 32h1M59 32h1M61 32h1M62 32h1M67 32h1M71 32h1M77 32h1M80 32h1M83 32h1M13 33h1M15 33h1M21 33h1M28 33h1M41 33h1M45 33h1M46 33h1M51 33h1M67 33h1M74 33h1M75 33h1M77 33h1M13 34h1M19 34h1M21 34h1M29 34h1M36 34h1M40 34h1M43 34h1M47 34h1M51 34h1M59 34h1M66 34h1M71 34h1M89 34h1M3 35h1M14 35h1M16 35h1M19 35h1M30 35h1M31 35h1M35 35h1M37 35h1M40 35h1M41 35h1M42 35h1M43 35h1M44 35h1M47 35h1M50 35h1M58 35h1M63 35h1M66 35h1M69 35h1M70 35h1M71 35h1M82 35h1M11 36h1M23 36h1M33 36h1M47 36h1M53 36h1M55 36h1M62 36h1M69 36h1M71 36h1M72 36h1M77 36h1M82 36h1M0 37h1M7 37h1M8 37h1M12 37h1M20 37h1M22 37h1M26 37h1M40 37h1M41 37h1M48 37h1M56 37h1M57 37h1M58 37h1M67 37h1M77 37h1M80 37h1M91 37h1M95 37h1M0 38h1M10 38h1M13 38h1M24 38h1M27 38h1M33 38h1M39 38h1M42 38h1M45 38h1M51 38h1M57 38h1M62 38h1M65 38h1M66 38h1M67 38h1M68 38h1M69 38h1M70 38h1M73 38h1M78 38h1M90 38h1M1 39h1M5 39h1M10 39h1M12 39h1M14 39h1M18 39h1M34 39h1M36 39h1M39 39h1M42 39h1M46 39h1M48 39h1M55 39h1M57 39h1M77 39h1M81 39h1M1 40h1M9 40h1M15 40h1M24 40h1M29 40h1M30 40h1M39 40h1M41 40h1M42 40h1M45 40h1M48 40h1M55 40h1M61 40h1M70 40h1M73 40h1M76 40h1M79 40h1M91 40h1M92 40h1M93 40h1M1 41h1M9 41h1M16 41h1M20 41h1M22 41h1M26 41h1M31 41h1M34 41h1M36 41h1M37 41h1M40 41h1M43 41h1M44 41h1M47 41h1M49 41h1M66 41h1M68 41h1M69 41h1M70 41h1M71 41h1M80 41h1M7 42h1M19 42h1M26 42h1M27 42h1M30 42h1M32 42h1M39 42h1M43 42h1M46 42h1M54 42h1M55 42h1M56 42h1M57 42h1M58 42h1M61 42h1M63 42h1M69 42h1M90 42h1M4 43h1M8 43h1M9 43h1M21 43h1M23 43h1M30 43h1M35 43h1M36 43h1M41 43h1M42 43h1M45 43h1M46 43h1M47 43h1M48 43h1M53 43h1M55 43h1M62 43h1M63 43h1M64 43h1M65 43h1M67 43h1M74 43h1M79 43h1M90 43h1M91 43h1M2 44h1M9 44h1M17 44h1M18 44h1M19 44h1M21 44h1M35 44h1M36 44h1M39 44h1M58 44h1M68 44h1M74 44h1M81 44h1M82 44h1M83 44h1M92 44h1M7 45h1M11 45h1M13 45h1M22 45h1M34 45h1M36 45h1M43 45h1M46 45h1M48 45h1M56 45h1M59 45h1M61 45h1M65 45h1M71 45h1M78 45h1M79 45h1M83 45h1M11 46h1M17 46h1M22 46h1M26 46h1M37 46h1M45 46h1M49 46h1M55 46h1M63 46h1M64 46h1M68 46h1M74 46h1M77 46h1M79 46h1M82 46h1M84 46h1M85 46h1M90 46h1M91 46h1M93 46h1M1 47h1M8 47h1M12 47h1M18 47h1M26 47h1M29 47h1M31 47h1M41 47h1M42 47h1M46 47h1M57 47h1M60 47h1M64 47h1M69 47h1M70 47h1M77 47h1M78 47h1M79 47h1M80 47h1M82 47h1M83 47h1M88 47h1M4 48h1M5 48h1M8 48h1M9 48h1M13 48h1M16 48h1M19 48h1M28 48h1M33 48h1M42 48h1M45 48h1M48 48h1M49 48h1M50 48h1M51 48h1M52 48h1M57 48h1M59 48h1M61 48h1M67 48h1M71 48h1M73 48h1M74 48h1M76 48h1M77 48h1M78 48h1M84 48h1M1 49h1M4 49h1M7 49h1M11 49h1M21 49h1M24 49h1M26 49h1M31 49h1M42 49h1M47 49h1M48 49h1M49 49h1M50 49h1M51 49h1M59 49h1M70 49h1M78 49h1M81 49h1M88 49h1M89 49h1M90 49h1M92 49h1M1 50h1M2 50h1M3 50h1M11 50h1M14 50h1M16 50h1M18 50h1M20 50h1M22 50h1M23 50h1M25 50h1M29 50h1M31 50h1M36 50h1M38 50h1M42 50h1M43 50h1M46 50h1M48 50h1M54 50h1M63 50h1M64 50h1M73 50h1M74 50h1M75 50h1M76 50h1M78 50h1M84 50h1M87 50h1M88 50h1M3 51h1M9 51h1M19 51h1M24 51h1M30 51h1M32 51h1M39 51h1M40 51h1M41 51h1M43 51h1M50 51h1M52 51h1M57 51h1M62 51h1M64 51h1M67 51h1M70 51h1M76 51h1M81 51h1M87 51h1M89 51h1M93 51h1M94 51h1M1 52h1M2 52h1M12 52h1M15 52h1M16 52h1M21 52h1M23 52h1M25 52h1M27 52h1M28 52h1M33 52h1M35 52h1M36 52h1M38 52h1M41 52h1M44 52h1M55 52h1M63 52h1M67 52h1M70 52h1M76 52h1M78 52h1M84 52h1M86 52h1M0 53h1M2 53h1M5 53h1M6 53h1M8 53h1M12 53h1M17 53h1M27 53h1M32 53h1M41 53h1M46 53h1M47 53h1M48 53h1M49 53h1M50 53h1M52 53h1M54 53h1M56 53h1M59 53h1M65 53h1M74 53h1M85 53h1M1 54h1M5 54h1M15 54h1M16 54h1M17 54h1M22 54h1M27 54h1M30 54h1M35 54h1M38 54h1M39 54h1M45 54h1M46 54h1M49 54h1M50 54h1M63 54h1M70 54h1M72 54h1M75 54h1M76 54h1M80 54h1M91 54h1M92 54h1M93 54h1M3 55h1M9 55h1M18 55h1M20 55h1M30 55h1M36 55h1M40 55h1M42 55h1M43 55h1M46 55h1M48 55h1M56 55h1M58 55h1M63 55h1M68 55h1M75 55h1M77 55h1M78 55h1M84 55h1M89 55h1M3 56h1M5 56h1M7 56h1M9 56h1M12 56h1M14 56h1M16 56h1M32 56h1M37 56h1M38 56h1M40 56h1M45 56h1M48 56h1M49 56h1M51 56h1M53 56h1M54 56h1M57 56h1M66 56h1M74 56h1M79 56h1M82 56h1M84 56h1M85 56h1M87 56h1M89 56h1M90 56h1M91 56h1M1 57h1M3 57h1M6 57h1M10 57h1M11 57h1M12 57h1M14 57h1M15 57h1M17 57h1M20 57h1M23 57h1M25 57h1M26 57h1M32 57h1M36 57h1M39 57h1M45 57h1M49 57h1M58 57h1M61 57h1M62 57h1M65 57h1M74 57h1M75 57h1M79 57h1M80 57h1M82 57h1M86 57h1M87 57h1M90 57h1M4 58h1M8 58h1M10 58h1M13 58h1M17 58h1M19 58h1M20 58h1M21 58h1M24 58h1M35 58h1M38 58h1M42 58h1M52 58h1M61 58h1M64 58h1M71 58h1M73 58h1M74 58h1M87 58h1M93 58h1M5 59h1M11 59h1M16 59h1M20 59h1M21 59h1M23 59h1M24 59h1M28 59h1M30 59h1M36 59h1M37 59h1M38 59h1M39 59h1M46 59h1M47 59h1M48 59h1M53 59h1M56 59h1M57 59h1M61 59h1M66 59h1M71 59h1M74 59h1M76 59h1M77 59h1M81 59h1M82 59h1M83 59h1M86 59h1M87 59h1M9 60h1M16 60h1M20 60h1M22 60h1M28 60h1M44 60h1M48 60h1M49 60h1M51 60h1M53 60h1M58 60h1M61 60h1M64 60h1M65 60h1M68 60h1M71 60h1M77 60h1M82 60h1M89 60h1M90 60h1M91 60h1M93 60h1M7 61h1M10 61h1M15 61h1M19 61h1M20 61h1M23 61h1M24 61h1M27 61h1M29 61h1M30 61h1M34 61h1M35 61h1M38 61h1M52 61h1M56 61h1M67 61h1M71 61h1M80 61h1M81 61h1M84 61h1M0 62h1M5 62h1M11 62h1M15 62h1M17 62h1M23 62h1M25 62h1M32 62h1M33 62h1M37 62h1M38 62h1M40 62h1M41 62h1M47 62h1M51 62h1M52 62h1M57 62h1M60 62h1M63 62h1M67 62h1M70 62h1M72 62h1M75 62h1M86 62h1M3 63h1M4 63h1M12 63h1M13 63h1M21 63h1M25 63h1M32 63h1M34 63h1M41 63h1M43 63h1M46 63h1M47 63h1M53 63h1M54 63h1M55 63h1M69 63h1M71 63h1M73 63h1M74 63h1M77 63h1M81 63h1M85 63h1M89 63h1M90 63h1M91 63h1M1 64h1M8 64h1M15 64h1M16 64h1M17 64h1M19 64h1M20 64h1M21 64h1M27 64h1M28 64h1M31 64h1M32 64h1M33 64h1M34 64h1M35 64h1M42 64h1M43 64h1M48 64h1M53 64h1M60 64h1M61 64h1M62 64h1M70 64h1M71 64h1M77 64h1M83 64h1M86 64h1M88 64h1M90 64h1M92 64h1M93 64h1M95 64h1M1 65h1M7 65h1M14 65h1M19 65h1M21 65h1M25 65h1M28 65h1M36 65h1M37 65h1M41 65h1M47 65h1M48 65h1M53 65h1M56 65h1M59 65h1M62 65h1M66 65h1M68 65h1M80 65h1M82 65h1M88 65h1M90 65h1M7 66h1M8 66h1M14 66h1M16 66h1M18 66h1M23 66h1M28 66h1M32 66h1M39 66h1M43 66h1M48 66h1M49 66h1M50 66h1M53 66h1M62 66h1M71 66h1M78 66h1M80 66h1M0 67h1M1 67h1M3 67h1M5 67h1M6 67h1M7 67h1M10 67h1M11 67h1M18 67h1M29 67h1M36 67h1M38 67h1M47 67h1M55 67h1M58 67h1M80 67h1M85 67h1M87 67h1M1 68h1M6 68h1M7 68h1M12 68h1M14 68h1M22 68h1M24 68h1M30 68h1M31 68h1M32 68h1M33 68h1M36 68h1M40 68h1M42 68h1M43 68h1M45 68h1M46 68h1M53 68h1M57 68h1M70 68h1M76 68h1M78 68h1M3 69h1M11 69h1M21 69h1M23 69h1M28 69h1M35 69h1M38 69h1M45 69h1M49 69h1M51 69h1M56 69h1M57 69h1M58 69h1M72 69h1M74 69h1M77 69h1M78 69h1M79 69h1M83 69h1M84 69h1M86 69h1M87 69h1M94 69h1M3 70h1M5 70h1M8 70h1M12 70h1M15 70h1M18 70h1M23 70h1M24 70h1M26 70h1M28 70h1M36 70h1M38 70h1M42 70h1M44 70h1M46 70h1M73 70h1M75 70h1M76 70h1M78 70h1M80 70h1M82 70h1M84 70h1M87 70h1M88 70h1M89 70h1M93 70h1M0 71h1M3 71h1M8 71h1M9 71h1M13 71h1M16 71h1M17 71h1M22 71h1M29 71h1M50 71h1M58 71h1M59 71h1M62 71h1M63 71h1M64 71h1M65 71h1M73 71h1M74 71h1M90 71h1M92 71h1M94 71h1M0 72h1M2 72h1M8 72h1M9 72h1M13 72h1M15 72h1M20 72h1M24 72h1M32 72h1M33 72h1M35 72h1M37 72h1M42 72h1M43 72h1M48 72h1M50 72h1M57 72h1M61 72h1M64 72h1M66 72h1M72 72h1M78 72h1M80 72h1M90 72h1M92 72h1M94 72h1M0 73h1M2 73h1M8 73h1M9 73h1M10 73h1M14 73h1M16 73h1M17 73h1M25 73h1M28 73h1M31 73h1M32 73h1M33 73h1M37 73h1M42 73h1M43 73h1M45 73h1M46 73h1M48 73h1M53 73h1M58 73h1M60 73h1M62 73h1M63 73h1M65 73h1M66 73h1M70 73h1M77 73h1M82 73h1M83 73h1M92 73h1M94 73h1M4 74h1M15 74h1M16 74h1M19 74h1M20 74h1M31 74h1M37 74h1M44 74h1M47 74h1M48 74h1M50 74h1M55 74h1M58 74h1M64 74h1M66 74h1M73 74h1M74 74h1M77 74h1M79 74h1M80 74h1M81 74h1M82 74h1M88 74h1M0 75h1M3 75h1M5 75h1M13 75h1M22 75h1M36 75h1M40 75h1M42 75h1M45 75h1M49 75h1M55 75h1M56 75h1M58 75h1M63 75h1M67 75h1M73 75h1M75 75h1M78 75h1M80 75h1M84 75h1M86 75h1M0 76h1M2 76h1M8 76h1M11 76h1M17 76h1M23 76h1M28 76h1M36 76h1M40 76h1M49 76h1M58 76h1M64 76h1M66 76h1M67 76h1M71 76h1M77 76h1M79 76h1M80 76h1M82 76h1M84 76h1M86 76h1M88 76h1M89 76h1M91 76h1M94 76h1M0 77h1M2 77h1M8 77h1M12 77h1M14 77h1M15 77h1M16 77h1M25 77h1M28 77h1M29 77h1M32 77h1M36 77h1M37 77h1M38 77h1M41 77h1M42 77h1M45 77h1M47 77h1M49 77h1M58 77h1M60 77h1M61 77h1M70 77h1M75 77h1M85 77h1M90 77h1M4 78h1M5 78h1M7 78h1M9 78h1M15 78h1M18 78h1M22 78h1M30 78h1M32 78h1M33 78h1M37 78h1M48 78h1M50 78h1M57 78h1M61 78h1M63 78h1M64 78h1M74 78h1M75 78h1M77 78h1M85 78h1M89 78h1M91 78h1M95 78h1M2 79h1M8 79h1M12 79h1M18 79h1M21 79h1M23 79h1M25 79h1M30 79h1M33 79h1M42 79h1M44 79h1M47 79h1M48 79h1M50 79h1M51 79h1M52 79h1M55 79h1M56 79h1M58 79h1M62 79h1M72 79h1M73 79h1M76 79h1M81 79h1M82 79h1M89 79h1M94 79h1M2 80h1M3 80h1M5 80h1M6 80h1M19 80h1M24 80h1M26 80h1M31 80h1M35 80h1M41 80h1M42 80h1M44 80h1M45 80h1M53 80h1M54 80h1M60 80h1M67 80h1M68 80h1M69 80h1M70 80h1M82 80h1M85 80h1M91 80h1M3 81h1M6 81h1M8 81h1M17 81h1M21 81h1M24 81h1M26 81h1M27 81h1M28 81h1M41 81h1M44 81h1M45 81h1M52 81h1M55 81h1M57 81h1M65 81h1M69 81h1M75 81h1M78 81h1M79 81h1M80 81h1M81 81h1M90 81h1M94 81h1" stroke="#2a0402"/><path d="M3 3h1M46 9h1M26 13h1M37 14h1M37 15h1M61 15h1M53 16h1M54 16h1M38 17h1M30 19h1M55 19h1M56 19h1M68 19h1M82 19h1M36 20h1M38 20h1M39 20h1M41 20h1M42 20h1M51 20h1M57 20h1M24 21h1M34 21h1M40 21h1M57 21h1M64 21h1M66 21h1M2 22h1M19 22h1M37 22h1M46 22h1M57 22h1M63 22h1M66 22h1M72 22h1M73 22h1M43 23h1M74 23h1M58 24h1M67 24h1M30 25h1M53 25h1M54 25h1M61 25h1M80 25h1M33 26h1M38 26h1M41 26h1M48 26h1M20 27h1M42 27h1M43 27h1M50 27h1M53 27h1M59 27h1M62 27h1M75 27h1M82 27h1M22 28h1M39 28h1M40 28h1M42 28h1M46 28h1M49 28h1M51 28h1M55 28h1M57 28h1M82 28h1M16 29h1M22 29h1M51 29h1M52 29h1M64 29h1M66 29h1M8 30h1M10 30h1M32 30h1M38 30h1M41 30h1M65 30h1M66 30h1M70 30h1M78 30h1M19 31h1M29 31h1M47 31h1M51 31h1M39 32h1M46 32h1M54 32h1M65 32h1M72 32h1M0 33h1M5 33h1M16 33h1M34 33h1M42 33h1M57 33h1M66 33h1M78 33h1M2 34h1M10 34h1M23 34h1M26 34h1M28 34h1M32 34h1M38 34h1M53 34h1M57 34h1M58 34h1M78 34h1M9 35h1M20 35h1M27 35h1M28 35h1M39 35h1M61 35h1M65 35h1M74 35h1M79 35h1M85 35h1M89 35h1M24 36h1M29 36h1M30 36h1M41 36h1M42 36h1M43 36h1M50 36h1M52 36h1M70 36h1M79 36h1M90 36h1M2 37h1M31 37h1M52 37h1M65 37h1M66 37h1M76 37h1M83 37h1M7 38h1M15 38h1M41 38h1M43 38h1M53 38h1M60 38h1M75 38h1M77 38h1M87 38h1M16 39h1M30 39h1M50 39h1M52 39h1M56 39h1M62 39h1M70 39h1M85 39h1M11 40h1M17 40h1M22 40h1M27 40h1M32 40h1M44 40h1M52 40h1M66 40h1M80 40h1M81 40h1M82 40h1M3 41h1M21 41h1M23 41h1M28 41h1M29 41h1M39 41h1M45 41h1M53 41h1M60 41h1M76 41h1M77 41h1M87 41h1M89 41h1M11 42h1M17 42h1M20 42h1M21 42h1M22 42h1M25 42h1M31 42h1M35 42h1M36 42h1M48 42h1M52 42h1M53 42h1M64 42h1M80 42h1M87 42h1M1 43h1M6 43h1M12 43h1M18 43h1M19 43h1M31 43h1M43 43h1M49 43h1M50 43h1M51 43h1M57 43h1M71 43h1M72 43h1M80 43h1M81 43h1M82 43h1M86 43h1M93 43h1M94 43h1M0 44h1M15 44h1M20 44h1M24 44h1M33 44h1M44 44h1M47 44h1M51 44h1M53 44h1M54 44h1M56 44h1M61 44h1M69 44h1M71 44h1M76 44h1M79 44h1M3 45h1M14 45h1M18 45h1M27 45h1M28 45h1M29 45h1M40 45h1M53 45h1M55 45h1M57 45h1M74 45h1M76 45h1M81 45h1M86 45h1M91 45h1M94 45h1M8 46h1M14 46h1M36 46h1M41 46h1M53 46h1M56 46h1M65 46h1M67 46h1M76 46h1M89 46h1M14 47h1M20 47h1M21 47h1M25 47h1M40 47h1M43 47h1M45 47h1M54 47h1M66 47h1M84 47h1M85 47h1M89 47h1M90 47h1M3 48h1M7 48h1M10 48h1M11 48h1M21 48h1M24 48h1M31 48h1M32 48h1M37 48h1M38 48h1M41 48h1M43 48h1M46 48h1M55 48h1M75 48h1M81 48h1M83 48h1M92 48h1M2 49h1M3 49h1M8 49h1M13 49h1M14 49h1M15 49h1M19 49h1M20 49h1M22 49h1M25 49h1M29 49h1M30 49h1M34 49h1M37 49h1M60 49h1M61 49h1M67 49h1M74 49h1M75 49h1M84 49h1M87 49h1M93 49h1M0 50h1M6 50h1M21 50h1M26 50h1M37 50h1M52 50h1M53 50h1M70 50h1M71 50h1M80 50h1M91 50h1M92 50h1M95 50h1M4 51h1M11 51h1M13 51h1M15 51h1M20 51h1M22 51h1M26 51h1M33 51h1M36 51h1M38 51h1M42 51h1M45 51h1M48 51h1M51 51h1M56 51h1M58 51h1M63 51h1M65 51h1M66 51h1M73 51h1M78 51h1M10 52h1M18 52h1M32 52h1M45 52h1M57 52h1M66 52h1M68 52h1M75 52h1M80 52h1M91 52h1M10 53h1M19 53h1M30 53h1M35 53h1M37 53h1M38 53h1M45 53h1M60 53h1M63 53h1M67 53h1M68 53h1M77 53h1M84 53h1M90 53h1M8 54h1M10 54h1M14 54h1M23 54h1M29 54h1M40 54h1M41 54h1M51 54h1M57 54h1M61 54h1M65 54h1M84 54h1M89 54h1M4 55h1M6 55h1M7 55h1M11 55h1M13 55h1M14 55h1M17 55h1M27 55h1M28 55h1M35 55h1M50 55h1M72 55h1M82 55h1M83 55h1M92 55h1M2 56h1M4 56h1M6 56h1M11 56h1M15 56h1M17 56h1M21 56h1M25 56h1M33 56h1M35 56h1M41 56h1M42 56h1M56 56h1M59 56h1M67 56h1M68 56h1M72 56h1M73 56h1M80 56h1M86 56h1M92 56h1M0 57h1M4 57h1M5 57h1M9 57h1M22 57h1M24 57h1M37 57h1M48 57h1M52 57h1M55 57h1M59 57h1M60 57h1M70 57h1M78 57h1M81 57h1M93 57h1M14 58h1M23 58h1M28 58h1M31 58h1M36 58h1M37 58h1M40 58h1M46 58h1M51 58h1M54 58h1M55 58h1M59 58h1M60 58h1M69 58h1M70 58h1M78 58h1M84 58h1M89 58h1M92 58h1M1 59h1M14 59h1M22 59h1M26 59h1M34 59h1M42 59h1M43 59h1M50 59h1M55 59h1M58 59h1M68 59h1M80 59h1M84 59h1M90 59h1M3 60h1M6 60h1M7 60h1M18 60h1M25 60h1M39 60h1M42 60h1M46 60h1M63 60h1M79 60h1M84 60h1M92 60h1M3 61h1M17 61h1M39 61h1M60 61h1M61 61h1M63 61h1M66 61h1M77 61h1M78 61h1M83 61h1M89 61h1M91 61h1M92 61h1M95 61h1M1 62h1M3 62h1M6 62h1M27 62h1M29 62h1M35 62h1M48 62h1M55 62h1M69 62h1M79 62h1M82 62h1M85 62h1M0 63h1M7 63h1M8 63h1M11 63h1M24 63h1M37 63h1M39 63h1M42 63h1M49 63h1M57 63h1M60 63h1M62 63h1M66 63h1M67 63h1M80 63h1M83 63h1M92 63h1M95 63h1M7 64h1M12 64h1M14 64h1M22 64h1M30 64h1M37 64h1M66 64h1M68 64h1M94 64h1M4 65h1M22 65h1M23 65h1M24 65h1M31 65h1M32 65h1M33 65h1M40 65h1M57 65h1M70 65h1M71 65h1M72 65h1M73 65h1M94 65h1M2 66h1M4 66h1M9 66h1M11 66h1M13 66h1M15 66h1M24 66h1M29 66h1M33 66h1M34 66h1M36 66h1M51 66h1M60 66h1M63 66h1M66 66h1M69 66h1M72 66h1M76 66h1M86 66h1M91 66h1M94 66h1M2 67h1M9 67h1M12 67h1M13 67h1M14 67h1M22 67h1M24 67h1M25 67h1M31 67h1M32 67h1M33 67h1M60 67h1M63 67h1M68 67h1M75 67h1M78 67h1M79 67h1M82 67h1M91 67h1M3 68h1M37 68h1M41 68h1M50 68h1M51 68h1M56 68h1M60 68h1M63 68h1M64 68h1M66 68h1M69 68h1M80 68h1M84 68h1M87 68h1M6 69h1M15 69h1M17 69h1M20 69h1M26 69h1M27 69h1M30 69h1M34 69h1M36 69h1M39 69h1M43 69h1M47 69h1M52 69h1M55 69h1M65 69h1M66 69h1M75 69h1M80 69h1M9 70h1M21 70h1M25 70h1M30 70h1M31 70h1M35 70h1M40 70h1M52 70h1M54 70h1M59 70h1M62 70h1M63 70h1M86 70h1M95 70h1M4 71h1M24 71h1M28 71h1M34 71h1M39 71h1M43 71h1M45 71h1M55 71h1M60 71h1M61 71h1M72 71h1M76 71h1M77 71h1M84 71h1M91 71h1M93 71h1M11 72h1M17 72h1M18 72h1M21 72h1M23 72h1M25 72h1M34 72h1M40 72h1M41 72h1M52 72h1M55 72h1M58 72h1M59 72h1M82 72h1M11 73h1M21 73h1M23 73h1M24 73h1M26 73h1M51 73h1M52 73h1M55 73h1M61 73h1M78 73h1M80 73h1M85 73h1M1 74h1M10 74h1M22 74h1M25 74h1M28 74h1M29 74h1M30 74h1M33 74h1M34 74h1M35 74h1M39 74h1M46 74h1M52 74h1M54 74h1M59 74h1M69 74h1M71 74h1M85 74h1M89 74h1M8 75h1M10 75h1M17 75h1M18 75h1M24 75h1M27 75h1M48 75h1M51 75h1M60 75h1M66 75h1M74 75h1M76 75h1M87 75h1M7 76h1M16 76h1M22 76h1M32 76h1M37 76h1M44 76h1M52 76h1M76 76h1M78 76h1M81 76h1M90 76h1M93 76h1M5 77h1M9 77h1M10 77h1M20 77h1M31 77h1M34 77h1M39 77h1M53 77h1M56 77h1M69 77h1M74 77h1M76 77h1M77 77h1M78 77h1M80 77h1M84 77h1M91 77h1M1 78h1M6 78h1M10 78h1M13 78h1M14 78h1M20 78h1M23 78h1M24 78h1M29 78h1M39 78h1M56 78h1M65 78h1M69 78h1M73 78h1M92 78h1M3 79h1M17 79h1M31 79h1M35 79h1M37 79h1M41 79h1M71 79h1M74 79h1M75 79h1M83 79h1M84 79h1M85 79h1M91 79h1M11 80h1M15 80h1M21 80h1M25 80h1M27 80h1M28 80h1M32 80h1M34 80h1M38 80h1M46 80h1M62 80h1M63 80h1M65 80h1M77 80h1M80 80h1M83 80h1M86 80h1M1 81h1M4 81h1M10 81h1M13 81h1M14 81h1M20 81h1M22 81h1M43 81h1M49 81h1M54 81h1M61 81h1M62 81h1M64 81h1M67 81h1M76 81h1M85 81h1M92 81h1" stroke="#4a0906"/><path d="M0 5h1M63 17h1M42 19h1M66 20h1M22 21h1M65 21h1M40 22h1M60 22h1M58 23h1M13 24h1M51 24h1M40 25h1M46 25h1M49 25h1M31 26h1M43 26h1M22 27h1M24 27h1M64 28h1M74 28h1M26 29h1M48 29h1M54 29h1M80 29h1M51 30h1M52 30h1M56 30h1M59 30h1M61 30h1M52 31h1M66 31h1M67 31h1M14 32h1M31 32h1M70 32h1M75 32h1M8 33h1M19 33h1M30 33h1M50 33h1M54 33h1M64 33h1M31 34h1M85 34h1M7 35h1M36 35h1M57 35h1M62 35h1M72 35h1M5 36h1M25 36h1M26 36h1M27 36h1M35 36h1M18 37h1M28 37h1M78 37h1M79 38h1M86 38h1M17 39h1M44 39h1M49 39h1M63 39h1M65 39h1M4 40h1M26 40h1M28 40h1M33 40h1M35 40h1M64 40h1M2 41h1M5 41h1M10 41h1M17 41h1M35 41h1M41 41h1M64 41h1M74 41h1M75 41h1M8 42h1M25 43h1M27 43h1M40 43h1M54 43h1M73 43h1M3 44h1M16 44h1M25 44h1M28 44h1M34 44h1M45 44h1M63 44h1M65 44h1M66 44h1M75 44h1M77 44h1M78 44h1M84 44h1M86 44h1M87 44h1M9 45h1M23 45h1M30 45h1M31 45h1M42 45h1M45 45h1M54 45h1M68 45h1M82 45h1M85 45h1M7 46h1M27 46h1M40 46h1M59 46h1M81 46h1M0 47h1M16 47h1M30 47h1M34 47h1M36 47h1M72 47h1M91 47h1M93 47h1M2 48h1M27 48h1M39 48h1M56 48h1M60 48h1M63 48h1M70 48h1M86 48h1M88 48h1M90 48h1M16 49h1M28 49h1M7 50h1M61 50h1M81 50h1M82 50h1M83 50h1M86 50h1M6 51h1M8 51h1M16 51h1M28 51h1M34 51h1M46 51h1M77 51h1M13 52h1M17 52h1M34 52h1M42 52h1M53 52h1M59 52h1M3 53h1M18 53h1M20 53h1M55 53h1M72 53h1M79 53h1M89 53h1M6 54h1M11 54h1M26 54h1M34 54h1M37 54h1M64 54h1M73 54h1M77 54h1M79 54h1M1 55h1M29 55h1M41 55h1M45 55h1M51 55h1M65 55h1M67 55h1M71 55h1M73 55h1M79 55h1M95 55h1M8 56h1M20 56h1M26 56h1M28 56h1M30 56h1M60 56h1M62 56h1M76 56h1M88 56h1M93 56h1M7 57h1M27 57h1M67 57h1M76 57h1M0 58h1M12 58h1M26 58h1M27 58h1M53 58h1M65 58h1M66 58h1M12 59h1M13 59h1M29 59h1M64 59h1M8 60h1M10 60h1M19 60h1M24 60h1M78 60h1M94 60h1M95 60h1M9 61h1M26 61h1M37 61h1M55 61h1M68 61h1M73 61h1M93 61h1M7 62h1M31 62h1M39 62h1M45 62h1M68 62h1M80 62h1M87 62h1M93 62h1M5 63h1M14 63h1M26 63h1M30 63h1M40 63h1M61 63h1M65 63h1M68 63h1M86 63h1M0 64h1M4 64h1M5 64h1M11 64h1M13 64h1M51 64h1M67 64h1M72 64h1M73 64h1M74 64h1M76 64h1M0 65h1M2 65h1M3 65h1M46 65h1M50 65h1M76 65h1M85 65h1M87 65h1M92 65h1M93 65h1M21 66h1M37 66h1M54 66h1M85 66h1M90 66h1M92 66h1M95 66h1M4 67h1M8 67h1M19 67h1M21 67h1M41 67h1M49 67h1M57 67h1M61 67h1M66 67h1M71 67h1M92 67h1M94 67h1M13 68h1M21 68h1M27 68h1M48 68h1M58 68h1M67 68h1M77 68h1M90 68h1M10 69h1M18 69h1M25 69h1M42 69h1M46 69h1M60 69h1M7 70h1M33 70h1M39 70h1M41 70h1M55 70h1M56 70h1M60 70h1M61 70h1M69 70h1M2 71h1M38 71h1M52 71h1M54 71h1M67 71h1M79 71h1M5 72h1M12 72h1M22 72h1M26 72h1M30 72h1M46 72h1M56 72h1M63 72h1M84 72h1M85 72h1M88 72h1M91 72h1M3 73h1M12 73h1M73 73h1M87 73h1M91 73h1M5 74h1M7 74h1M18 74h1M62 74h1M63 74h1M86 74h1M94 74h1M1 75h1M7 75h1M19 75h1M62 75h1M12 76h1M21 76h1M27 76h1M41 76h1M42 76h1M43 76h1M47 76h1M56 76h1M59 76h1M69 76h1M85 76h1M11 77h1M13 77h1M64 77h1M82 77h1M83 77h1M95 77h1M16 78h1M17 78h1M26 78h1M79 78h1M93 78h1M5 79h1M15 79h1M20 79h1M22 79h1M45 79h1M49 79h1M63 79h1M64 79h1M68 79h1M69 79h1M70 79h1M86 79h1M87 79h1M40 80h1M47 80h1M72 80h1M78 80h1M90 80h1M95 80h1M33 81h1M37 81h1M42 81h1M63 81h1M74 81h1" stroke="#6e100a"/><path d="M45 16h1M45 24h1M58 28h1M24 29h1M38 32h1M58 32h1M9 33h1M39 33h1M80 33h1M33 34h1M70 34h1M37 36h1M85 36h1M62 37h1M35 38h1M76 38h1M37 39h1M38 39h1M41 39h1M73 39h1M18 40h1M77 42h1M66 43h1M76 43h1M73 45h1M55 47h1M66 48h1M43 49h1M15 50h1M27 50h1M40 50h1M23 51h1M43 53h1M82 53h1M91 53h1M83 56h1M56 57h1M15 58h1M33 58h1M58 58h1M94 58h1M60 59h1M38 60h1M66 60h1M87 60h1M28 61h1M75 61h1M94 61h1M84 62h1M16 63h1M76 63h1M30 65h1M51 65h1M63 65h1M64 65h1M68 66h1M73 66h1M7 69h1M71 69h1M73 69h1M5 71h1M42 71h1M56 71h1M57 71h1M85 71h1M89 72h1M7 73h1M20 73h1M41 73h1M57 73h1M64 73h1M56 74h1M91 74h1M95 75h1M19 77h1M38 78h1M72 78h1M83 78h1M1 79h1M36 79h1M10 80h1M61 80h1M94 80h1M25 81h1M53 81h1M91 81h1" stroke="#a81a10"/></g></g>
<g clip-path="url(#a4)"><g transform="translate(119 99.5)" stroke-width="1" fill="none"><path d="M71 6h1M16 9h1M44 10h1M45 14h1M48 15h1M55 15h1M53 16h1M57 16h1M64 17h1M41 18h1M58 18h1M73 18h1M16 19h1M46 19h1M59 19h1M72 19h1M74 19h1M40 20h1M37 22h1M38 22h1M39 22h1M77 22h1M35 23h1M75 23h1M34 24h1M72 24h1M80 24h1M36 25h1M52 25h1M84 25h1M13 26h1M40 26h1M37 27h1M42 27h1M69 27h1M70 27h1M43 28h1M54 28h1M68 28h1M76 28h1M81 28h1M10 29h1M22 29h1M23 29h1M30 29h1M47 29h1M52 29h1M57 29h1M63 29h1M18 30h1M30 30h1M59 30h1M22 31h1M36 31h1M38 31h1M48 31h1M62 31h1M67 31h1M81 31h1M14 32h1M19 32h1M40 32h1M47 32h1M65 32h1M72 33h1M82 33h1M62 34h1M66 34h1M72 34h1M0 35h1M30 35h1M40 35h1M80 35h1M82 35h1M84 35h1M0 36h1M7 36h1M11 36h1M44 36h1M3 37h1M15 37h1M17 37h1M18 37h1M32 37h1M37 37h1M59 37h1M64 37h1M80 37h1M3 38h1M22 38h1M48 38h1M75 38h1M80 38h1M91 38h1M12 39h1M24 39h1M51 39h1M57 39h1M58 39h1M66 39h1M70 39h1M72 39h1M84 39h1M88 39h1M90 39h1M1 40h1M29 40h1M56 40h1M58 40h1M62 40h1M91 40h1M7 41h1M31 41h1M34 41h1M35 41h1M63 41h1M70 41h1M71 41h1M1 42h1M4 42h1M11 42h1M23 42h1M77 42h1M79 42h1M83 42h1M87 42h1M89 42h1M0 43h1M1 43h1M82 43h1M28 44h1M61 44h1M65 44h1M74 44h1M23 45h1M36 45h1M52 45h1M58 45h1M90 45h1M2 46h1M48 46h1M59 46h1M60 46h1M62 46h1M65 46h1M70 46h1M89 46h1M94 46h1M14 47h1M18 47h1M19 47h1M30 47h1M39 47h1M49 47h1M63 47h1M5 48h1M51 48h1M56 48h1M83 48h1M87 48h1M93 48h1M18 49h1M59 49h1M75 49h1M90 49h1M3 50h1M35 50h1M42 50h1M62 50h1M77 50h1M78 50h1M83 50h1M86 50h1M8 51h1M48 51h1M54 51h1M84 51h1M87 51h1M5 52h1M13 52h1M23 52h1M75 52h1M80 52h1M92 52h1M56 53h1M59 53h1M72 53h1M84 53h1M85 53h1M87 53h1M10 54h1M47 54h1M58 54h1M79 54h1M83 54h1M89 54h1M2 55h1M22 55h1M73 55h1M75 55h1M78 55h1M1 56h1M4 56h1M21 56h1M30 56h1M35 56h1M37 56h1M46 56h1M77 56h1M80 56h1M2 57h1M4 57h1M12 57h1M16 57h1M26 57h1M38 57h1M63 57h1M73 57h1M79 57h1M87 57h1M7 58h1M19 58h1M32 58h1M35 58h1M83 58h1M13 59h1M16 59h1M25 59h1M51 59h1M73 59h1M11 60h1M21 60h1M24 60h1M12 61h1M19 61h1M28 61h1M35 61h1M49 61h1M5 62h1M10 62h1M11 62h1M29 62h1M77 62h1M81 62h1M87 62h1M90 62h1M93 62h1M0 63h1M5 63h1M12 63h1M35 63h1M54 63h1M56 63h1M62 63h1M67 63h1M76 63h1M77 63h1M78 63h1M79 63h1M6 64h1M20 64h1M4 65h1M9 65h1M14 65h1M16 65h1M20 65h1M34 65h1M58 65h1M86 65h1M89 65h1M95 65h1M9 66h1M34 66h1M37 66h1M58 66h1M74 66h1M78 66h1M90 66h1M92 66h1M19 67h1M90 67h1M40 68h1M50 68h1M68 68h1M70 68h1M71 68h1M73 68h1M78 68h1M17 69h1M18 69h1M22 69h1M26 69h1M27 69h1M48 69h1M77 69h1M1 70h1M15 70h1M52 70h1M58 70h1M64 70h1M68 70h1M84 70h1M93 70h1M5 71h1M12 71h1M13 71h1M16 71h1M57 71h1M58 71h1M78 71h1M0 72h1M9 72h1M11 72h1M35 72h1M37 72h1M41 72h1M65 72h1M81 72h1M88 72h1M3 73h1M19 73h1M27 73h1M45 73h1M52 73h1M57 73h1M69 73h1M74 73h1M80 73h1M90 73h1M4 74h1M12 74h1M25 74h1M66 74h1M74 74h1M83 74h1M10 75h1M40 75h1M51 75h1M58 75h1M59 75h1M62 75h1M66 75h1M67 75h1M74 75h1M83 75h1M87 75h1M6 76h1M42 76h1M65 76h1M74 76h1M88 76h1M6 77h1M11 77h1M15 77h1M21 77h1M34 77h1M40 77h1M69 77h1M13 78h1M21 78h1M34 78h1M37 78h1M39 78h1M40 78h1M62 78h1M73 78h1M84 78h1M2 79h1M13 79h1M38 79h1M46 79h1M61 79h1M83 79h1M10 80h1M23 80h1M24 80h1M34 80h1M56 80h1M60 80h1M86 80h1M8 81h1M30 81h1M34 81h1M37 81h1M61 81h1M64 81h1" stroke="#373716"/><path d="M24 13h1M62 16h1M53 18h1M71 18h1M68 19h1M38 20h1M44 20h1M47 20h1M57 21h1M61 21h1M54 22h1M63 22h1M48 23h1M39 24h1M68 24h1M89 24h1M22 25h1M74 25h1M66 26h1M22 27h1M25 27h1M29 27h1M63 27h1M71 27h1M75 27h1M11 28h1M60 28h1M11 29h1M14 29h1M29 30h1M64 30h1M75 30h1M18 31h1M44 31h1M52 31h1M58 31h1M69 31h1M30 32h1M44 32h1M35 33h1M88 33h1M90 33h1M20 34h1M23 34h1M34 34h1M36 34h1M37 35h1M74 35h1M85 35h1M95 35h1M20 36h1M47 36h1M61 36h1M56 37h1M57 37h1M61 37h1M1 38h1M36 38h1M45 38h1M55 38h1M77 39h1M80 39h1M87 39h1M36 40h1M49 40h1M65 40h1M79 40h1M83 40h1M3 41h1M26 41h1M52 41h1M55 41h1M18 42h1M24 42h1M27 42h1M32 42h1M48 42h1M55 42h1M15 43h1M44 43h1M62 43h1M68 43h1M70 43h1M87 43h1M89 43h1M95 43h1M60 44h1M69 44h1M9 45h1M33 45h1M67 45h1M79 45h1M89 45h1M0 46h1M8 46h1M35 46h1M39 46h1M76 46h1M1 47h1M9 47h1M27 47h1M37 47h1M40 47h1M48 47h1M91 47h1M41 48h1M69 48h1M77 48h1M94 49h1M1 50h1M7 50h1M10 50h1M32 50h1M69 50h1M95 50h1M51 51h1M78 51h1M16 52h1M28 52h1M60 52h1M18 53h1M19 53h1M50 53h1M81 53h1M95 53h1M12 54h1M32 54h1M50 54h1M53 54h1M67 54h1M69 54h1M72 54h1M7 55h1M24 55h1M36 55h1M41 55h1M45 55h1M57 55h1M79 55h1M91 55h1M11 56h1M18 56h1M19 56h1M26 56h1M33 56h1M39 56h1M41 56h1M62 56h1M1 57h1M21 57h1M37 57h1M64 57h1M8 58h1M34 58h1M61 58h1M63 58h1M68 58h1M78 58h1M85 58h1M38 59h1M66 59h1M79 59h1M30 60h1M41 60h1M63 60h1M66 60h1M70 60h1M77 60h1M78 60h1M95 60h1M2 61h1M29 61h1M36 61h1M68 61h1M69 61h1M88 61h1M89 61h1M28 62h1M40 62h1M43 62h1M58 62h1M80 62h1M9 63h1M21 63h1M47 63h1M72 63h1M80 63h1M88 63h1M94 63h1M43 64h1M61 64h1M67 64h1M83 64h1M15 65h1M44 65h1M75 65h1M2 66h1M6 66h1M14 66h1M18 66h1M42 66h1M43 66h1M86 66h1M88 66h1M27 67h1M44 67h1M45 67h1M22 68h1M30 68h1M36 68h1M89 68h1M21 69h1M23 69h1M30 69h1M38 69h1M57 69h1M62 69h1M71 69h1M19 70h1M47 70h1M33 71h1M36 71h1M40 71h1M46 71h1M48 71h1M63 71h1M85 71h1M61 72h1M67 72h1M74 72h1M2 73h1M15 73h1M20 73h1M23 73h1M33 73h1M44 73h1M70 73h1M94 73h1M27 74h1M41 74h1M62 74h1M64 74h1M65 74h1M73 74h1M24 75h1M26 75h1M32 75h1M33 75h1M49 75h1M73 75h1M94 75h1M95 75h1M8 76h1M14 76h1M27 76h1M29 76h1M58 76h1M78 77h1M84 77h1M48 78h1M80 78h1M87 78h1M47 79h1M55 79h1M73 79h1M88 79h1M92 79h1M16 80h1M28 80h1M30 80h1M43 80h1M54 80h1M75 80h1M5 81h1M19 81h1M26 81h1M27 81h1M38 81h1M63 81h1M72 81h1M77 81h1" stroke="#5f5f28"/><path d="M54 2h1M51 18h1M66 18h1M32 19h1M55 19h1M50 20h1M52 20h1M58 20h1M22 21h1M44 22h1M73 22h1M52 23h1M62 23h1M42 24h1M76 24h1M37 25h1M16 26h1M44 26h1M52 26h1M68 26h1M57 28h1M69 28h1M73 28h1M35 29h1M43 29h1M73 29h1M81 29h1M51 30h1M62 30h1M87 30h1M65 31h1M17 32h1M37 32h1M58 32h1M76 32h1M19 33h1M43 33h1M94 33h1M3 34h1M1 35h1M11 35h1M46 35h1M72 35h1M60 36h1M76 36h1M10 38h1M60 38h1M2 39h1M39 39h1M41 39h1M48 39h1M49 39h1M7 40h1M25 40h1M55 40h1M77 40h1M66 41h1M7 42h1M20 42h1M78 42h1M81 42h1M76 44h1M18 45h1M21 45h1M95 45h1M5 46h1M44 46h1M86 46h1M95 46h1M71 47h1M19 48h1M21 48h1M31 48h1M62 48h1M92 48h1M0 49h1M8 49h1M37 49h1M67 49h1M23 50h1M25 51h1M75 51h1M21 52h1M50 52h1M44 53h1M71 53h1M91 53h1M20 54h1M35 54h1M55 54h1M91 54h1M23 55h1M49 55h1M51 55h1M66 55h1M94 55h1M31 56h1M61 56h1M83 56h1M6 57h1M13 57h1M77 57h1M93 57h1M56 58h1M3 59h1M10 59h1M11 59h1M30 59h1M35 60h1M39 60h1M45 60h1M46 60h1M50 60h1M5 61h1M21 61h1M56 61h1M85 61h1M2 62h1M12 62h1M84 62h1M16 63h1M30 63h1M34 63h1M9 64h1M10 64h1M15 64h1M0 65h1M22 65h1M46 65h1M92 65h1M7 66h1M54 66h1M61 66h1M80 66h1M4 67h1M7 67h1M21 67h1M28 67h1M52 67h1M57 67h1M62 67h1M72 67h1M87 67h1M17 68h1M37 68h1M59 68h1M61 68h1M95 68h1M16 69h1M46 69h1M51 69h1M61 69h1M5 70h1M75 70h1M82 70h1M85 70h1M2 71h1M27 71h1M41 71h1M45 71h1M90 71h1M5 72h1M72 72h1M87 72h1M25 73h1M0 74h1M11 74h1M29 74h1M71 74h1M87 74h1M89 74h1M13 75h1M14 75h1M5 76h1M26 76h1M23 77h1M44 77h1M79 77h1M7 78h1M0 79h1M1 79h1M14 79h1M65 79h1M76 79h1M89 79h1M9 80h1M22 80h1M41 80h1M58 80h1M71 81h1" stroke="#8c8c3e"/></g></g>
<g font-family='"Liberation Sans", Arial, sans-serif' font-size="7" fill="#fff">
<text x="25" y="26.9">HAADF</text>
<text x="122.6" y="26.7" fill="#2fb02f" font-weight="bold" font-size="6.6">Ti</text>
<text x="27.2" y="110" fill="#f02020" font-weight="bold" font-size="7.4">O</text>
<text x="123.2" y="110.8" fill="#f0f060" font-weight="bold" font-size="7.4">Fe</text>
<text x="25.9" y="92" font-size="6.6" stroke="#fff" stroke-width="0.2">20 nm</text>
<rect x="24.6" y="93.4" width="22.4" height="1.25" fill="#fff"/>
<text x="122.4" y="92" font-size="6.6" stroke="#fff" stroke-width="0.2">20 nm</text>
<rect x="121.1" y="93.4" width="22.4" height="1.25" fill="#fff"/>
<text x="25.9" y="173.6" font-size="6.6" stroke="#fff" stroke-width="0.2">20 nm</text>
<rect x="24.6" y="175.9" width="22.4" height="1.25" fill="#fff"/>
<text x="122.4" y="173.6" font-size="6.6" stroke="#fff" stroke-width="0.2">20 nm</text>
<rect x="121.1" y="175.9" width="22.4" height="1.25" fill="#fff"/>
</g>
</g>
<g id="panel_b">
<rect x="271.2" y="17.4" width="43.4" height="161.9" fill="#fff"/>
<path d="M271.2 17.4L303.9 17.4L302.61 18.4L303.21 19.4L302.82 20.4L302.71 21.4L302.63 22.4L302.04 23.4L302.34 24.4L302.04 25.4L302.95 26.4L302.03 27.4L301.75 28.4L301.62 29.4L301.39 30.4L301.15 31.4L301.17 32.4L301.25 33.4L300.93 34.4L301.09 35.4L300.66 36.4L300.57 37.4L300.81 38.4L300.42 39.4L300.02 40.4L299.97 41.4L300.02 42.4L300.24 43.4L299.56 44.4L299.44 45.4L299.62 46.4L299.02 47.4L299.04 48.4L299.2 49.4L298.99 50.4L298.74 51.4L298.76 52.4L297.75 53.4L298.58 54.4L297.96 55.4L297.65 56.4L298.01 57.4L297.98 58.4L297.57 59.4L297.29 60.4L297.47 61.4L297.35 62.4L297.61 63.4L297.35 64.4L297.12 65.4L297.37 66.4L297.45 67.4L298.2 68.4L299.23 69.4L298.67 70.4L297.37 71.4L296.58 72.4L296.62 73.4L295.86 74.4L296.59 75.4L296.48 76.4L295.89 77.4L296.25 78.4L295.93 79.4L296.3 80.4L295.54 81.4L295.76 82.4L296.1 83.4L296.15 84.4L295.26 85.4L295.62 86.4L295.76 87.4L295.46 88.4L295.95 89.4L295.2 90.4L295.52 91.4L295.11 92.4L295.66 93.4L295.24 94.4L295.09 95.4L294.69 96.4L295.48 97.4L295.19 98.4L295.13 99.4L295.15 100.4L294.87 101.4L294.54 102.4L294.41 103.4L294.33 104.4L294.78 105.4L293.99 106.4L294.12 107.4L294.11 108.4L294.16 109.4L294.16 110.4L293.62 111.4L293.41 112.4L293.76 113.4L293.98 114.4L293.78 115.4L293.56 116.4L293.34 117.4L293.41 118.4L293.19 119.4L293.37 120.4L292.88 121.4L293.03 122.4L292.88 123.4L292.96 124.4L292.8 125.4L293.29 126.4L292.95 127.4L292.86 128.4L291.89 129.4L292.23 130.4L292.08 131.4L292.28 132.4L291.49 133.4L292.27 134.4L292.16 135.4L291.48 136.4L291.48 137.4L291.44 138.4L291.56 139.4L291.63 140.4L291.91 141.4L291.27 142.4L291.44 143.4L291.21 144.4L291.54 145.4L291.21 146.4L291.3 147.4L290.61 148.4L290.76 149.4L290.53 150.4L291.04 151.4L290.75 152.4L290.43 153.4L290.32 154.4L290.48 155.4L290.11 156.4L289.98 157.4L290.26 158.4L290.68 159.4L289.93 160.4L289.78 161.4L289.55 162.4L289.44 163.4L289.83 164.4L289.84 165.4L289.55 166.4L289.56 167.4L289.43 168.4L289.37 169.4L288.88 170.4L289.07 171.4L289.14 172.4L288.84 173.4L288.84 174.4L288.68 175.4L288.73 176.4L288.95 177.4L288.56 178.4L271.2 179.3Z" fill="#8edcfb"/>
<path d="M269.7 17.4H314.6M269.7 179.3H314.6" fill="none" stroke="#666" stroke-width="0.7"/><path d="M314.8 17.4V179.3" stroke="#bbb" stroke-width="0.9"/>
<path d="M271.2 17.8h-1.6M271.2 50.05h-1.6M271.2 82.3h-1.6M271.2 114.55h-1.6M271.2 146.8h-1.6M271.2 179.05h-1.6M271.2 33.92h-1M271.2 66.17h-1M271.2 98.42h-1M271.2 130.68h-1M271.2 162.93h-1" stroke="#333" stroke-width="0.6"/>
<g font-family='"Liberation Serif", "Times New Roman", serif' font-weight="bold" font-size="7" fill="#111" text-anchor="middle">
<text transform="translate(262.2 17.8) rotate(90)">660</text>
<text transform="translate(262.2 50.05) rotate(90)">690</text>
<text transform="translate(262.2 82.3) rotate(90)">720</text>
<text transform="translate(262.2 114.55) rotate(90)">750</text>
<text transform="translate(262.2 146.8) rotate(90)">780</text>
<text transform="translate(262.2 178.05) rotate(90)">810</text>
<text transform="translate(251.6 99) rotate(90)" font-size="8.7" stroke="#111" stroke-width="0.25">Energy loss (eV)</text>
</g>
<text transform="translate(301.6 69) rotate(90)" font-family='"Liberation Sans", Arial, sans-serif' font-weight="bold" font-size="6.6" fill="#9a7a18" text-anchor="middle">Fe</text>
<defs>
<clipPath id="b1"><rect x="315.0" y="18.2" width="132.8" height="161.2"/></clipPath>
<filter id="bnw" x="0" y="0" width="100%" height="100%" color-interpolation-filters="sRGB">
<feTurbulence type="fractalNoise" baseFrequency="0.42" numOctaves="2" seed="8" result="t"/>
<feColorMatrix in="t" type="matrix" values="0 0 0 0 1  0 0 0 0 1  0 0 0 0 1  2.6 0 0 0 -1.3"/>
</filter>
<filter id="bnk" x="0" y="0" width="100%" height="100%" color-interpolation-filters="sRGB">
<feTurbulence type="fractalNoise" baseFrequency="0.42" numOctaves="2" seed="8" result="t"/>
<feColorMatrix in="t" type="matrix" values="0 0 0 0 0  0 0 0 0 0  0 0 0 0 0  -2.6 0 0 0 1.3"/>
</filter>
<filter id="bnm" x="0" y="0" width="100%" height="100%" color-interpolation-filters="sRGB">
<feTurbulence type="fractalNoise" baseFrequency="0.22" numOctaves="2" seed="5" result="t"/>
<feColorMatrix in="t" type="matrix" values="0 0 0 0 1  0 0 0 0 1  0 0 0 0 1  2.4 0 0 0 -1.1"/>
</filter>
<linearGradient id="bg1" gradientUnits="userSpaceOnUse" x1="340.0" y1="154.4" x2="447.8" y2="28.2">
<stop offset="0" stop-color="#000" stop-opacity="0"/><stop offset="0.35" stop-color="#000" stop-opacity="0.14"/><stop offset="0.55" stop-color="#000" stop-opacity="0.36"/><stop offset="0.75" stop-color="#000" stop-opacity="0.55"/><stop offset="1" stop-color="#000" stop-opacity="0.78"/></linearGradient>
<linearGradient id="bg2" x1="0" y1="0" x2="0" y2="1">
<stop offset="0" stop-color="#000" stop-opacity="0.55"/><stop offset="0.2" stop-color="#000" stop-opacity="0.32"/><stop offset="0.45" stop-color="#000" stop-opacity="0.1"/><stop offset="1" stop-color="#000" stop-opacity="0"/></linearGradient>
<linearGradient id="bg3" x1="0" y1="0" x2="1" y2="0">
<stop offset="0" stop-color="#000" stop-opacity="0.12"/><stop offset="0.15" stop-color="#000" stop-opacity="0"/><stop offset="0.6" stop-color="#000" stop-opacity="0"/><stop offset="0.85" stop-color="#000" stop-opacity="0.3"/><stop offset="1" stop-color="#000" stop-opacity="0.5"/></linearGradient>
<filter id="bb" x="-50%" y="-50%" width="200%" height="200%"><feGaussianBlur stdDeviation="1.0"/></filter>
</defs>
<g clip-path="url(#b1)">
<rect x="315.0" y="18.2" width="132.8" height="161.2" fill="#525252"/>
<rect x="315.0" y="18.2" width="132.8" height="161.2" filter="url(#bnm)" opacity="0.14"/>
<g fill="#fff" opacity="0.4" filter="url(#bb)"><circle cx="315.77" cy="17.15" r="1.85"/><circle cx="312.73" cy="25.19" r="1.4"/><circle cx="322.21" cy="20.1" r="1.35"/><circle cx="319.41" cy="27.16" r="1.49"/><circle cx="317.78" cy="34.37" r="1.26"/><circle cx="315.36" cy="40.15" r="1.64"/><circle cx="314.33" cy="47.96" r="1.71"/><circle cx="330.03" cy="15.49" r="1.69"/><circle cx="327.58" cy="22.25" r="1.71"/><circle cx="326.32" cy="29.11" r="1.33"/><circle cx="324.31" cy="34.88" r="1.58"/><circle cx="323.41" cy="42.18" r="1.88"/><circle cx="321.61" cy="50.57" r="1.64"/><circle cx="318.36" cy="56.77" r="1.29"/><circle cx="317.21" cy="63.93" r="1.81"/><circle cx="315.45" cy="71.33" r="1.8"/><circle cx="314.09" cy="76.63" r="1.7"/><circle cx="335.97" cy="16.37" r="1.87"/><circle cx="335.36" cy="23.23" r="1.86"/><circle cx="332.13" cy="30.54" r="1.44"/><circle cx="331.68" cy="36.64" r="1.36"/><circle cx="328.98" cy="44.05" r="1.42"/><circle cx="326.98" cy="51.38" r="1.68"/><circle cx="325.44" cy="58.61" r="1.31"/><circle cx="322.72" cy="65.23" r="1.12"/><circle cx="322.38" cy="72.57" r="1.18"/><circle cx="319.58" cy="78.82" r="1.34"/><circle cx="317.01" cy="86.87" r="1.74"/><circle cx="315.57" cy="93.52" r="1.79"/><circle cx="314.05" cy="100.77" r="1.19"/><circle cx="342.51" cy="18.52" r="1.59"/><circle cx="341.75" cy="25.81" r="1.47"/><circle cx="339.02" cy="31.62" r="1.41"/><circle cx="338.43" cy="39.7" r="1.5"/><circle cx="334.92" cy="46.71" r="1.67"/><circle cx="332.47" cy="52.19" r="1.33"/><circle cx="331.28" cy="61.55" r="1.1"/><circle cx="329.28" cy="67.06" r="1.36"/><circle cx="327.44" cy="74.94" r="1.73"/><circle cx="327.23" cy="81.77" r="1.42"/><circle cx="324.67" cy="88.45" r="1.67"/><circle cx="322.36" cy="96.78" r="1.83"/><circle cx="320.81" cy="101.95" r="1.21"/><circle cx="318.63" cy="109.53" r="1.57"/><circle cx="316.33" cy="115.82" r="1.58"/><circle cx="314.61" cy="122.94" r="1.38"/><circle cx="313.45" cy="128.57" r="1.22"/><circle cx="350.27" cy="20.8" r="1.67"/><circle cx="348.88" cy="28.27" r="1.88"/><circle cx="347.03" cy="33.89" r="1.12"/><circle cx="343.67" cy="40.58" r="1.64"/><circle cx="343.01" cy="49.24" r="1.86"/><circle cx="340.98" cy="54.33" r="1.33"/><circle cx="337.82" cy="61.08" r="1.81"/><circle cx="336.67" cy="68.93" r="1.46"/><circle cx="334.02" cy="76.12" r="1.55"/><circle cx="332.98" cy="82.37" r="1.63"/><circle cx="331.27" cy="91.08" r="1.87"/><circle cx="329.14" cy="96.73" r="1.77"/><circle cx="327.1" cy="105.19" r="1.67"/><circle cx="323.43" cy="110.68" r="1.85"/><circle cx="322.58" cy="118.34" r="1.2"/><circle cx="321.04" cy="125.18" r="1.18"/><circle cx="318.83" cy="131.58" r="1.26"/><circle cx="316.47" cy="139.06" r="1.47"/><circle cx="315.67" cy="146.77" r="1.25"/><circle cx="314.11" cy="153.84" r="1.37"/><circle cx="312.41" cy="161.2" r="1.11"/><circle cx="357.6" cy="23.06" r="1.42"/><circle cx="354.59" cy="29.44" r="1.14"/><circle cx="353.95" cy="35.29" r="1.3"/><circle cx="350.5" cy="41.08" r="1.88"/><circle cx="348.95" cy="51.15" r="1.54"/><circle cx="347.25" cy="57.06" r="1.71"/><circle cx="346.56" cy="65.6" r="1.27"/><circle cx="342.93" cy="71.63" r="1.39"/><circle cx="341.7" cy="78.41" r="1.63"/><circle cx="338.78" cy="85.18" r="1.58"/><circle cx="336.81" cy="92.07" r="1.13"/><circle cx="334.65" cy="98.91" r="1.89"/><circle cx="333.28" cy="105.02" r="1.76"/><circle cx="331.46" cy="112.81" r="1.31"/><circle cx="328.22" cy="121.12" r="1.42"/><circle cx="327.23" cy="126.56" r="1.73"/><circle cx="325.4" cy="133.71" r="1.55"/><circle cx="324.58" cy="140.48" r="1.86"/><circle cx="322.54" cy="147.9" r="1.6"/><circle cx="320.41" cy="154.18" r="1.82"/><circle cx="318.59" cy="161.97" r="1.87"/><circle cx="318.24" cy="169.16" r="1.13"/><circle cx="314.53" cy="176.92" r="1.41"/><circle cx="312.24" cy="182.14" r="1.53"/><circle cx="365.89" cy="18" r="1.3"/><circle cx="362.05" cy="23.8" r="1.85"/><circle cx="361.26" cy="29.66" r="1.42"/><circle cx="358.11" cy="36.93" r="1.18"/><circle cx="357.87" cy="43.77" r="1.19"/><circle cx="355.81" cy="51.37" r="1.24"/><circle cx="353.14" cy="58.65" r="1.84"/><circle cx="350.97" cy="64.45" r="1.24"/><circle cx="349.3" cy="72.65" r="1.51"/><circle cx="347.84" cy="80.15" r="1.38"/><circle cx="346.97" cy="88.19" r="1.26"/><circle cx="344.22" cy="94.66" r="1.59"/><circle cx="342.32" cy="100.67" r="1.83"/><circle cx="339.47" cy="108.25" r="1.46"/><circle cx="337.65" cy="114.74" r="1.32"/><circle cx="336.19" cy="121.26" r="1.46"/><circle cx="333.21" cy="128.75" r="1.82"/><circle cx="334.17" cy="136.44" r="1.74"/><circle cx="330.78" cy="143.99" r="1.28"/><circle cx="329.02" cy="149.7" r="1.48"/><circle cx="326.76" cy="156.67" r="1.83"/><circle cx="326.3" cy="162.47" r="1.61"/><circle cx="323.47" cy="171.09" r="1.68"/><circle cx="320.31" cy="177.26" r="1.51"/><circle cx="372.45" cy="18.24" r="1.47"/><circle cx="370.44" cy="25.73" r="1.12"/><circle cx="367.6" cy="33.23" r="1.23"/><circle cx="366.19" cy="40.98" r="1.72"/><circle cx="363.41" cy="45.72" r="1.71"/><circle cx="361.2" cy="52.44" r="1.19"/><circle cx="359.39" cy="61.17" r="1.88"/><circle cx="359.36" cy="67.03" r="1.31"/><circle cx="356.83" cy="74.71" r="1.55"/><circle cx="353.76" cy="79.96" r="1.42"/><circle cx="351.37" cy="88.14" r="1.66"/><circle cx="350.51" cy="95.13" r="1.59"/><circle cx="348.54" cy="102.42" r="1.16"/><circle cx="347.05" cy="108.79" r="1.71"/><circle cx="344.63" cy="117.24" r="1.16"/><circle cx="343.05" cy="123.47" r="1.34"/><circle cx="342.11" cy="131.29" r="1.51"/><circle cx="339.47" cy="138.66" r="1.48"/><circle cx="337.74" cy="143.93" r="1.56"/><circle cx="335.12" cy="151.49" r="1.26"/><circle cx="333.58" cy="159.13" r="1.44"/><circle cx="330.79" cy="165.27" r="1.29"/><circle cx="328.99" cy="171.52" r="1.84"/><circle cx="327.88" cy="179.95" r="1.89"/><circle cx="378.14" cy="20.84" r="1.31"/><circle cx="376.26" cy="27.75" r="1.27"/><circle cx="372.93" cy="34.4" r="1.89"/><circle cx="372.57" cy="41.86" r="1.82"/><circle cx="371.45" cy="48.38" r="1.41"/><circle cx="369.3" cy="55.83" r="1.3"/><circle cx="366.91" cy="61.89" r="1.15"/><circle cx="364.99" cy="69.99" r="1.12"/><circle cx="363.61" cy="77.79" r="1.3"/><circle cx="361.14" cy="84.17" r="1.73"/><circle cx="359.78" cy="91.02" r="1.67"/><circle cx="357.91" cy="97.57" r="1.31"/><circle cx="355.61" cy="104.78" r="1.79"/><circle cx="353.8" cy="111.96" r="1.54"/><circle cx="350.98" cy="118.25" r="1.83"/><circle cx="349.76" cy="124.73" r="1.36"/><circle cx="347.79" cy="131.74" r="1.35"/><circle cx="345.04" cy="139.43" r="1.36"/><circle cx="344.11" cy="146.83" r="1.14"/><circle cx="342.06" cy="153.34" r="1.17"/><circle cx="341.05" cy="160.55" r="1.63"/><circle cx="337.87" cy="167.2" r="1.42"/><circle cx="336.11" cy="175.31" r="1.79"/><circle cx="333.03" cy="181.25" r="1.46"/><circle cx="386.84" cy="17.22" r="1.13"/><circle cx="384.46" cy="22.83" r="1.16"/><circle cx="383.21" cy="29.79" r="1.85"/><circle cx="380.83" cy="35.6" r="1.22"/><circle cx="378.69" cy="44.48" r="1.49"/><circle cx="377.11" cy="49.27" r="1.39"/><circle cx="376.28" cy="57.6" r="1.44"/><circle cx="373.59" cy="63.94" r="1.59"/><circle cx="371.72" cy="70.26" r="1.53"/><circle cx="367.86" cy="78.73" r="1.56"/><circle cx="369.01" cy="86.74" r="1.67"/><circle cx="366.19" cy="92.97" r="1.4"/><circle cx="363.61" cy="99.83" r="1.74"/><circle cx="363.02" cy="106.25" r="1.61"/><circle cx="359.81" cy="113" r="1.75"/><circle cx="358.03" cy="120.62" r="1.14"/><circle cx="357.29" cy="128.03" r="1.55"/><circle cx="353.65" cy="134.66" r="1.27"/><circle cx="351.64" cy="140.47" r="1.64"/><circle cx="349.92" cy="148.05" r="1.67"/><circle cx="349.02" cy="154.4" r="1.81"/><circle cx="346.49" cy="161.56" r="1.6"/><circle cx="344.96" cy="169.62" r="1.63"/><circle cx="343.53" cy="176.67" r="1.71"/><circle cx="394.57" cy="17.66" r="1.26"/><circle cx="391.09" cy="25.07" r="1.34"/><circle cx="390.5" cy="30.75" r="1.21"/><circle cx="388.6" cy="38.47" r="1.61"/><circle cx="385.26" cy="44.97" r="1.85"/><circle cx="384.34" cy="51.65" r="1.62"/><circle cx="382.23" cy="58.26" r="1.64"/><circle cx="380.02" cy="65.93" r="1.28"/><circle cx="377" cy="72.28" r="1.68"/><circle cx="375.44" cy="80.26" r="1.86"/><circle cx="374.57" cy="86.81" r="1.79"/><circle cx="373.38" cy="93.8" r="1.12"/><circle cx="370.03" cy="101" r="1.86"/><circle cx="368.76" cy="108.67" r="1.71"/><circle cx="368.09" cy="113.67" r="1.63"/><circle cx="365.48" cy="121.82" r="1.64"/><circle cx="361.65" cy="129.83" r="1.17"/><circle cx="361.35" cy="136.13" r="1.16"/><circle cx="360.11" cy="142.5" r="1.24"/><circle cx="356.97" cy="148.79" r="1.53"/><circle cx="355.01" cy="157.1" r="1.75"/><circle cx="353.39" cy="163.55" r="1.11"/><circle cx="350.71" cy="171.7" r="1.33"/><circle cx="347.79" cy="178.43" r="1.72"/><circle cx="398.91" cy="18.2" r="1.57"/><circle cx="397" cy="25.38" r="1.74"/><circle cx="397.14" cy="32.07" r="1.26"/><circle cx="393.93" cy="40.95" r="1.32"/><circle cx="392.09" cy="47.3" r="1.24"/><circle cx="389.85" cy="55.29" r="1.44"/><circle cx="389.3" cy="60.45" r="1.17"/><circle cx="385.8" cy="67.72" r="1.68"/><circle cx="385.92" cy="74.85" r="1.59"/><circle cx="383.05" cy="80.93" r="1.32"/><circle cx="381.1" cy="87.24" r="1.36"/><circle cx="379.79" cy="97.38" r="1.67"/><circle cx="377.12" cy="102.8" r="1.58"/><circle cx="374.59" cy="109.1" r="1.65"/><circle cx="373.59" cy="117.73" r="1.63"/><circle cx="370.41" cy="124.09" r="1.42"/><circle cx="369.95" cy="131.66" r="1.66"/><circle cx="368.14" cy="137.08" r="1.13"/><circle cx="366.17" cy="144.7" r="1.42"/><circle cx="362.81" cy="151.33" r="1.71"/><circle cx="361.04" cy="158.19" r="1.57"/><circle cx="360.16" cy="165.2" r="1.27"/><circle cx="359.04" cy="170.81" r="1.61"/><circle cx="356.58" cy="179.34" r="1.64"/><circle cx="406.89" cy="19.6" r="1.3"/><circle cx="406" cy="26.72" r="1.21"/><circle cx="402.05" cy="33.88" r="1.78"/><circle cx="401.13" cy="41.65" r="1.15"/><circle cx="399.34" cy="48.83" r="1.88"/><circle cx="395.76" cy="56.07" r="1.32"/><circle cx="394.87" cy="62.49" r="1.66"/><circle cx="393.92" cy="68.97" r="1.78"/><circle cx="391.2" cy="76.09" r="1.11"/><circle cx="390.36" cy="83.4" r="1.4"/><circle cx="388.99" cy="89.52" r="1.22"/><circle cx="386.32" cy="98.57" r="1.78"/><circle cx="383.14" cy="104.93" r="1.42"/><circle cx="381.39" cy="111" r="1.38"/><circle cx="380.04" cy="119.04" r="1.26"/><circle cx="378.44" cy="125.12" r="1.67"/><circle cx="374.16" cy="133.28" r="1.66"/><circle cx="373.89" cy="139.24" r="1.86"/><circle cx="372.57" cy="146.47" r="1.42"/><circle cx="370.44" cy="152.52" r="1.64"/><circle cx="368.71" cy="159.33" r="1.71"/><circle cx="367.16" cy="166.62" r="1.64"/><circle cx="364.66" cy="174.91" r="1.86"/><circle cx="362.72" cy="181.84" r="1.3"/><circle cx="412.63" cy="22.04" r="1.41"/><circle cx="410.91" cy="28.48" r="1.73"/><circle cx="409.44" cy="35.28" r="1.57"/><circle cx="408.47" cy="41.98" r="1.14"/><circle cx="406.08" cy="51.22" r="1.39"/><circle cx="402.15" cy="56.48" r="1.64"/><circle cx="401.96" cy="63.5" r="1.31"/><circle cx="399.99" cy="71.78" r="1.78"/><circle cx="397.92" cy="78.33" r="1.14"/><circle cx="396.81" cy="85.08" r="1.35"/><circle cx="393.57" cy="93.51" r="1.49"/><circle cx="391.52" cy="99.55" r="1.31"/><circle cx="389.52" cy="106.87" r="1.34"/><circle cx="387.7" cy="113.39" r="1.67"/><circle cx="386.31" cy="119.82" r="1.58"/><circle cx="383.84" cy="127.58" r="1.78"/><circle cx="383.2" cy="133.04" r="1.46"/><circle cx="380.66" cy="141.2" r="1.58"/><circle cx="379.24" cy="148.46" r="1.21"/><circle cx="377.69" cy="156.26" r="1.28"/><circle cx="376.63" cy="161.98" r="1.77"/><circle cx="372.02" cy="169.02" r="1.56"/><circle cx="372.06" cy="177.02" r="1.4"/><circle cx="421.48" cy="16.17" r="1.74"/><circle cx="420.2" cy="24.44" r="1.34"/><circle cx="418.94" cy="30.95" r="1.34"/><circle cx="416.31" cy="37.51" r="1.48"/><circle cx="412.72" cy="44.86" r="1.38"/><circle cx="410.78" cy="51.63" r="1.39"/><circle cx="408.87" cy="59.47" r="1.41"/><circle cx="408.8" cy="65.09" r="1.12"/><circle cx="405.35" cy="74.08" r="1.37"/><circle cx="404.7" cy="79.56" r="1.11"/><circle cx="401.44" cy="87.33" r="1.77"/><circle cx="400.62" cy="95.28" r="1.82"/><circle cx="399.29" cy="101.49" r="1.78"/><circle cx="396.36" cy="107.94" r="1.41"/><circle cx="395.37" cy="115.32" r="1.76"/><circle cx="393.25" cy="121.77" r="1.53"/><circle cx="391.45" cy="127.51" r="1.27"/><circle cx="388.84" cy="135.89" r="1.15"/><circle cx="387.17" cy="142.11" r="1.42"/><circle cx="386.44" cy="150.9" r="1.27"/><circle cx="383.16" cy="157" r="1.48"/><circle cx="382.72" cy="164.19" r="1.66"/><circle cx="378.39" cy="172.18" r="1.78"/><circle cx="378.18" cy="178.81" r="1.69"/><circle cx="429.66" cy="19.38" r="1.63"/><circle cx="427.79" cy="26.18" r="1.58"/><circle cx="424.03" cy="32.13" r="1.66"/><circle cx="421.47" cy="40.22" r="1.15"/><circle cx="420.28" cy="47.01" r="1.81"/><circle cx="418.2" cy="53.1" r="1.75"/><circle cx="416.04" cy="60.34" r="1.51"/><circle cx="414.78" cy="68.34" r="1.82"/><circle cx="414.39" cy="74.46" r="1.15"/><circle cx="411.84" cy="81.48" r="1.11"/><circle cx="409.9" cy="88.92" r="1.72"/><circle cx="408" cy="96.23" r="1.25"/><circle cx="404.52" cy="102.71" r="1.27"/><circle cx="402.85" cy="109.19" r="1.82"/><circle cx="402.14" cy="116.51" r="1.76"/><circle cx="398.89" cy="122.98" r="1.53"/><circle cx="398.2" cy="131.33" r="1.13"/><circle cx="395.69" cy="136" r="1.56"/><circle cx="394.95" cy="145.65" r="1.59"/><circle cx="392.89" cy="153.94" r="1.24"/><circle cx="391.32" cy="159.58" r="1.44"/><circle cx="388.2" cy="165.75" r="1.27"/><circle cx="386.82" cy="172.77" r="1.4"/><circle cx="383.94" cy="179.13" r="1.47"/><circle cx="436.14" cy="21.24" r="1.5"/><circle cx="432.58" cy="28.42" r="1.46"/><circle cx="430.69" cy="35.23" r="1.81"/><circle cx="427.92" cy="41.07" r="1.46"/><circle cx="428.25" cy="49.29" r="1.41"/><circle cx="424.78" cy="56.19" r="1.15"/><circle cx="422.22" cy="63.27" r="1.87"/><circle cx="421.99" cy="70.19" r="1.27"/><circle cx="420.38" cy="77.31" r="1.28"/><circle cx="416.96" cy="84.56" r="1.2"/><circle cx="415.66" cy="91.15" r="1.19"/><circle cx="412.44" cy="98.45" r="1.89"/><circle cx="412.6" cy="104.63" r="1.81"/><circle cx="408.12" cy="111.08" r="1.46"/><circle cx="408.83" cy="117.25" r="1.45"/><circle cx="406.69" cy="126.48" r="1.36"/><circle cx="404.41" cy="132.02" r="1.63"/><circle cx="403.15" cy="139.12" r="1.78"/><circle cx="400.22" cy="147.56" r="1.58"/><circle cx="396.98" cy="154.13" r="1.75"/><circle cx="396.39" cy="160.65" r="1.31"/><circle cx="394.07" cy="167.72" r="1.59"/><circle cx="393.35" cy="175.91" r="1.85"/><circle cx="391.98" cy="181.89" r="1.77"/><circle cx="442.33" cy="15.57" r="1.38"/><circle cx="439.57" cy="23.65" r="1.32"/><circle cx="439.11" cy="29.18" r="1.64"/><circle cx="438.55" cy="36.1" r="1.81"/><circle cx="435.2" cy="43.79" r="1.15"/><circle cx="432.42" cy="50.61" r="1.52"/><circle cx="432.37" cy="57.06" r="1.89"/><circle cx="430.02" cy="65.67" r="1.52"/><circle cx="429.14" cy="71.5" r="1.9"/><circle cx="426.15" cy="78.65" r="1.86"/><circle cx="422.97" cy="84.78" r="1.58"/><circle cx="421.26" cy="92.19" r="1.73"/><circle cx="421.51" cy="99.18" r="1.1"/><circle cx="417.73" cy="106.27" r="1.73"/><circle cx="416.89" cy="113.53" r="1.57"/><circle cx="414.85" cy="120.68" r="1.51"/><circle cx="412.15" cy="128.05" r="1.4"/><circle cx="411.7" cy="136.1" r="1.18"/><circle cx="410.74" cy="140.81" r="1.42"/><circle cx="406.56" cy="148.03" r="1.49"/><circle cx="404.39" cy="156.19" r="1.34"/><circle cx="404.24" cy="163.39" r="1.54"/><circle cx="400.89" cy="169.49" r="1.85"/><circle cx="400.48" cy="176.31" r="1.24"/><circle cx="450.62" cy="17.37" r="1.77"/><circle cx="447.94" cy="23.73" r="1.11"/><circle cx="446.22" cy="31.51" r="1.33"/><circle cx="442.97" cy="38.63" r="1.13"/><circle cx="442.12" cy="45.74" r="1.81"/><circle cx="439.94" cy="52.97" r="1.7"/><circle cx="439.2" cy="60.32" r="1.63"/><circle cx="435.84" cy="66.49" r="1.75"/><circle cx="434.96" cy="72.6" r="1.28"/><circle cx="432.16" cy="79.76" r="1.46"/><circle cx="430.98" cy="88.07" r="1.6"/><circle cx="430.24" cy="94.45" r="1.49"/><circle cx="426.85" cy="101.76" r="1.15"/><circle cx="425.8" cy="109.36" r="1.17"/><circle cx="423.67" cy="116.67" r="1.73"/><circle cx="421.33" cy="122.29" r="1.62"/><circle cx="419.65" cy="130.44" r="1.72"/><circle cx="417.63" cy="135.88" r="1.29"/><circle cx="417.45" cy="143.11" r="1.42"/><circle cx="413.5" cy="150.57" r="1.22"/><circle cx="412.02" cy="158.48" r="1.27"/><circle cx="410.42" cy="164.39" r="1.53"/><circle cx="407.65" cy="171.72" r="1.49"/><circle cx="404.94" cy="177.49" r="1.78"/><circle cx="449.26" cy="39.63" r="1.24"/><circle cx="449.29" cy="48.42" r="1.57"/><circle cx="447.9" cy="54.44" r="1.57"/><circle cx="444.29" cy="61.65" r="1.17"/><circle cx="442.33" cy="68.39" r="1.58"/><circle cx="442.67" cy="76.22" r="1.43"/><circle cx="439.36" cy="81.86" r="1.46"/><circle cx="436.93" cy="88.49" r="1.69"/><circle cx="435.77" cy="96.53" r="1.16"/><circle cx="433.2" cy="103.1" r="1.35"/><circle cx="430.89" cy="110.2" r="1.71"/><circle cx="430.19" cy="118.11" r="1.45"/><circle cx="428.23" cy="125.26" r="1.75"/><circle cx="426.34" cy="131.4" r="1.16"/><circle cx="424.33" cy="137.69" r="1.18"/><circle cx="422.14" cy="144.02" r="1.76"/><circle cx="420.07" cy="152.46" r="1.42"/><circle cx="418.8" cy="160.33" r="1.24"/><circle cx="415.81" cy="164.97" r="1.36"/><circle cx="414.09" cy="171.82" r="1.18"/><circle cx="411.6" cy="179.78" r="1.69"/><circle cx="447.4" cy="76.62" r="1.23"/><circle cx="446.87" cy="84.13" r="1.73"/><circle cx="445.49" cy="91.78" r="1.31"/><circle cx="442.18" cy="96.99" r="1.31"/><circle cx="441.56" cy="104.24" r="1.6"/><circle cx="438.54" cy="110.38" r="1.15"/><circle cx="435.49" cy="118.54" r="1.21"/><circle cx="435.48" cy="126.31" r="1.79"/><circle cx="431.54" cy="133.16" r="1.18"/><circle cx="430.61" cy="139.43" r="1.38"/><circle cx="429.75" cy="145.24" r="1.62"/><circle cx="427.44" cy="153.46" r="1.47"/><circle cx="424.25" cy="160.74" r="1.83"/><circle cx="424.12" cy="168.99" r="1.31"/><circle cx="420.7" cy="175.68" r="1.5"/><circle cx="450.6" cy="94" r="1.48"/><circle cx="448.02" cy="100.45" r="1.68"/><circle cx="446.01" cy="106.17" r="1.66"/><circle cx="445.4" cy="113.36" r="1.59"/><circle cx="443.66" cy="121" r="1.11"/><circle cx="441.6" cy="128.41" r="1.1"/><circle cx="439.5" cy="135.37" r="1.21"/><circle cx="438.12" cy="141.72" r="1.78"/><circle cx="435.65" cy="149.97" r="1.67"/><circle cx="432.49" cy="156.03" r="1.23"/><circle cx="431.48" cy="162.57" r="1.42"/><circle cx="429.44" cy="169.61" r="1.61"/><circle cx="427.06" cy="175.94" r="1.27"/><circle cx="449.62" cy="123.36" r="1.5"/><circle cx="448.22" cy="129.97" r="1.29"/><circle cx="445.91" cy="137.22" r="1.51"/><circle cx="443.25" cy="142.98" r="1.45"/><circle cx="442.64" cy="150.05" r="1.1"/><circle cx="440.83" cy="158.47" r="1.65"/><circle cx="439.34" cy="163.81" r="1.25"/><circle cx="436.62" cy="172.38" r="1.73"/><circle cx="433.96" cy="178.47" r="1.25"/><circle cx="450.28" cy="144.98" r="1.3"/><circle cx="448.1" cy="152.9" r="1.54"/><circle cx="446.22" cy="160.51" r="1.78"/><circle cx="445.57" cy="166.59" r="1.29"/><circle cx="442.66" cy="173.06" r="1.67"/><circle cx="441.68" cy="180.14" r="1.64"/><circle cx="449.5" cy="175.64" r="1.73"/><circle cx="448.03" cy="182.2" r="1.85"/></g>
<rect x="315.0" y="18.2" width="132.8" height="161.2" filter="url(#bnw)" opacity="0.2"/>
<rect x="315.0" y="18.2" width="132.8" height="161.2" filter="url(#bnk)" opacity="0.32"/>
<rect x="315.0" y="18.2" width="132.8" height="161.2" fill="url(#bg1)"/>
<rect x="315.0" y="18.2" width="132.8" height="161.2" fill="url(#bg2)"/>
<rect x="315.0" y="18.2" width="132.8" height="161.2" fill="url(#bg3)"/>
</g>
<path d="M321.1 52.5L321.1 46L323.8 45.4L326.7 43.1L330.2 37.9L332.3 34.5L333.7 32.9L335.4 34.4L336.6 39L338.4 42.5L340 41.6L341.3 41.1L343.6 42.5L345.9 43.9L348 43L350 42.5L353 39L355.2 37.2L357 36.1L358.6 36.9L360 36.7L361.7 38.4L363.2 37.9L364.6 38.1L367 39.6L369.9 41.9L371.9 44.3L373.4 41.4L376.3 37.3L378.7 32.6L380.4 31.4L382.2 32.6L383.9 39L385.1 43.1L385.1 52.5Z" fill="#3c9c8a"/>
<path d="M334.3 30.3H380.4" stroke="#f2f2f2" stroke-width="0.7"/><path d="M334.3 30.3l2.6 -1.1v2.2zM380.4 30.3l-2.6 -1.1v2.2z" fill="#f2f2f2"/>
<g font-family='"Liberation Sans", Arial, sans-serif' fill="#fff">
<text x="354.7" y="27.6" font-size="6.7" text-anchor="middle">0.61 nm</text>
<g font-size="6.2" fill="#eaf4f0" text-anchor="middle"><text x="333.6" y="44.7">Fe</text><text x="358.4" y="44.7">Ti</text><text x="379.9" y="44.7">Fe</text></g>
<g font-size="5.6" fill="#e6efc0" text-anchor="middle">
<text x="321" y="58.6">0.0</text>
<text x="336.5" y="58.6">0.2</text>
<text x="352" y="58.6">0.4</text>
<text x="367.5" y="58.6">0.6</text>
<text x="383" y="58.6">0.8</text>
</g></g>
<rect x="359" y="62.5" width="84" height="86.8" fill="none" stroke="#cc2222" stroke-width="0.55" stroke-dasharray="1 0.4"/>
<circle cx="323.5" cy="111.5" r="6.3" fill="none" stroke="#e01010" stroke-width="0.8"/>
<circle cx="359" cy="164.8" r="6.6" fill="none" stroke="#e01010" stroke-width="0.8"/>
<circle cx="379.8" cy="164.8" r="6.6" fill="none" stroke="#e01010" stroke-width="0.8"/>
<path d="M400.5 66.7L408 64.4L415.2 92.7L407 94.6ZM402.67 76L410.4 73.83M404.83 85.3L412.8 83.27M379 104L386.8 102L393.2 130.5L385.6 132.4ZM381.2 113.47L388.93 111.5M383.4 122.93L391.07 121M394.6 118L403 115.8L409.3 144.6L401.7 146.6ZM396.97 127.53L405.1 125.4M399.33 137.07L407.2 135" fill="none" stroke="#e01818" stroke-width="0.6"/>
<g font-family='"Liberation Sans", Arial, sans-serif' font-weight="bold" font-size="4.6" fill="#f01818"><text x="412.5" y="81">L1</text><text x="364" y="106.8">L2</text><text x="408.8" y="130.6">L3</text></g>
<text x="317" y="164.3" font-family='"Liberation Sans", Arial, sans-serif' font-weight="bold" font-size="6.3" fill="#fff">1 nm</text>
<rect x="317" y="171" width="31.3" height="1.5" fill="#d0d0d0"/>
</g>
<g id="panel_c">
<defs><clipPath id="c1"><rect x="499.45" y="18.4" width="176" height="138.3"/></clipPath></defs>
<g clip-path="url(#c1)" fill="none" stroke-width="1" stroke-linejoin="round">
<path d="M499.1 149C501.75 148.95 510.35 148.83 515 148.7C519.65 148.57 523.58 148.48 527 148.2C530.42 147.92 533.5 147.4 535.5 147C537.5 146.6 538.05 146.4 539 145.8C539.95 145.2 540.57 144.37 541.2 143.4C541.83 142.43 542.33 141.2 542.8 140C543.27 138.8 543.67 138.2 544 136.2C544.33 134.2 544.55 130.83 544.8 128C545.05 125.17 545.2 121.87 545.5 119.2C545.8 116.53 546.12 114.15 546.6 112C547.08 109.85 547.83 107.75 548.4 106.3C548.97 104.85 549.53 104.02 550 103.3C550.47 102.58 550.67 102.45 551.2 102C551.73 101.55 552.58 101.07 553.2 100.6C553.82 100.13 554.37 100.3 554.9 99.2C555.43 98.1 555.83 96.37 556.4 94C556.97 91.63 557.62 87.33 558.3 85C558.98 82.67 559.55 81.58 560.5 80C561.45 78.42 562.67 76.8 564 75.5C565.33 74.2 567.25 72.98 568.5 72.2C569.75 71.42 570.58 71.12 571.5 70.8C572.42 70.48 573.17 70.27 574 70.3C574.83 70.33 575.67 70.58 576.5 71C577.33 71.42 578.17 72.33 579 72.8C579.83 73.27 580.5 73.67 581.5 73.8C582.5 73.93 583.42 73.85 585 73.6C586.58 73.35 588.8 72.65 591 72.3C593.2 71.95 595.37 71.68 598.2 71.5C601.03 71.32 604.7 71.25 608 71.2C611.3 71.15 614.33 71.1 618 71.2C621.67 71.3 625.72 71.57 630 71.8C634.28 72.03 640.03 72.47 643.7 72.6C647.37 72.73 649.78 72.77 652 72.6C654.22 72.43 655.53 71.98 657 71.6C658.47 71.22 659.47 70.6 660.8 70.3C662.13 70 663.47 69.78 665 69.8C666.53 69.82 668.23 70.17 670 70.4C671.77 70.63 674.67 71.07 675.6 71.2" stroke="#555"/>
<path d="M499.1 149.3C502.58 149.23 514.02 149.05 520 148.9C525.98 148.75 531.5 148.58 535 148.4C538.5 148.22 539.25 148.03 541 147.8C542.75 147.57 544.37 147.43 545.5 147C546.63 146.57 547.08 145.7 547.8 145.2C548.52 144.7 549.23 144.07 549.8 144C550.37 143.93 550.73 144.6 551.2 144.8C551.67 145 552 145.37 552.6 145.2C553.2 145.03 554.08 144.42 554.8 143.8C555.52 143.18 556.23 142.55 556.9 141.5C557.57 140.45 558.22 139.25 558.8 137.5C559.38 135.75 559.92 132.92 560.4 131C560.88 129.08 561.23 128.5 561.7 126C562.17 123.5 562.72 119.33 563.2 116C563.68 112.67 564.17 108.93 564.6 106C565.03 103.07 565.4 101.07 565.8 98.4C566.2 95.73 566.6 93.07 567 90C567.4 86.93 567.83 83.33 568.2 80C568.57 76.67 568.85 73.17 569.2 70C569.55 66.83 569.78 63.58 570.3 61C570.82 58.42 571.55 56.27 572.3 54.5C573.05 52.73 574.05 51.58 574.8 50.4C575.55 49.22 576.23 48.1 576.8 47.4C577.37 46.7 577.73 46.23 578.2 46.2C578.67 46.17 578.97 46.32 579.6 47.2C580.23 48.08 580.8 49.17 582 51.5C583.2 53.83 585.13 58.53 586.8 61.2C588.47 63.87 590.1 65.6 592 67.5C593.9 69.4 596.37 71.12 598.2 72.6C600.03 74.08 601.1 74.73 603 76.4C604.9 78.07 607.77 81.17 609.6 82.6C611.43 84.03 612.6 84.48 614 85C615.4 85.52 616.58 85.7 618 85.7C619.42 85.7 620.58 85.75 622.5 85C624.42 84.25 626.92 83.03 629.5 81.2C632.08 79.37 635.67 75.77 638 74C640.33 72.23 641.6 71.4 643.5 70.6C645.4 69.8 647.32 69.42 649.4 69.2C651.48 68.98 654.1 69.2 656 69.3C657.9 69.4 658.8 69.48 660.8 69.8C662.8 70.12 665.53 70.73 668 71.2C670.47 71.67 674.33 72.37 675.6 72.6" stroke="#3d80f0"/>
<path d="M499.1 149.6C502.58 149.53 514.02 149.37 520 149.2C525.98 149.03 531.17 148.83 535 148.6C538.83 148.37 541 148.07 543 147.8C545 147.53 545.87 147.4 547 147C548.13 146.6 549.05 145.7 549.8 145.4C550.55 145.1 550.93 145.17 551.5 145.2C552.07 145.23 552.53 145.7 553.2 145.6C553.87 145.5 554.65 145.2 555.5 144.6C556.35 144 557.45 143.07 558.3 142C559.15 140.93 559.88 139.87 560.6 138.2C561.32 136.53 562 134.53 562.6 132C563.2 129.47 563.73 126.08 564.2 123C564.67 119.92 565.02 116.83 565.4 113.5C565.78 110.17 566.17 106.33 566.5 103C566.83 99.67 567.05 96.5 567.4 93.5C567.75 90.5 568.17 88.42 568.6 85C569.03 81.58 569.5 77.5 570 73C570.5 68.5 571.07 62.5 571.6 58C572.13 53.5 572.67 49.08 573.2 46C573.73 42.92 574.28 40.93 574.8 39.5C575.32 38.07 575.8 37.58 576.3 37.4C576.8 37.22 577.25 38 577.8 38.4C578.35 38.8 578.93 39.1 579.6 39.8C580.27 40.5 581.07 41.57 581.8 42.6C582.53 43.63 583.3 44.43 584 46C584.7 47.57 585.27 49.83 586 52C586.73 54.17 587.57 56.97 588.4 59C589.23 61.03 589.98 62.63 591 64.2C592.02 65.77 593.3 67.23 594.5 68.4C595.7 69.57 596.78 69.85 598.2 71.2C599.62 72.55 601.1 74.27 603 76.5C604.9 78.73 607.77 82.77 609.6 84.6C611.43 86.43 612.6 86.87 614 87.5C615.4 88.13 616.58 88.43 618 88.4C619.42 88.37 620.58 88.27 622.5 87.3C624.42 86.33 626.92 84.82 629.5 82.6C632.08 80.38 635.83 75.97 638 74C640.17 72.03 641.07 71.58 642.5 70.8C643.93 70.02 645.02 69.53 646.6 69.3C648.18 69.07 649.63 69.02 652 69.4C654.37 69.78 658.13 70.87 660.8 71.6C663.47 72.33 665.53 73.25 668 73.8C670.47 74.35 674.33 74.72 675.6 74.9" stroke="#f02a2a"/>
</g>
<rect x="499.45" y="18.4" width="176" height="138.3" fill="none" stroke="#000" stroke-width="0.8"/>
<path d="M499.45 156.7v2.4M514.12 156.7v1.3M528.78 156.7v2.4M543.45 156.7v1.3M558.12 156.7v2.4M572.79 156.7v1.3M587.45 156.7v2.4M602.12 156.7v1.3M616.78 156.7v2.4M631.45 156.7v1.3M646.12 156.7v2.4M660.78 156.7v1.3M675.45 156.7v2.4" stroke="#000" stroke-width="0.7"/>
<g font-family='"Liberation Sans", Arial, sans-serif' fill="#000">
<g font-size="7.7" text-anchor="middle">
<text x="499.45" y="166.4">7080</text>
<text x="528.78" y="166.4">7100</text>
<text x="558.12" y="166.4">7120</text>
<text x="587.45" y="166.4">7140</text>
<text x="616.78" y="166.4">7160</text>
<text x="646.12" y="166.4">7180</text>
<text x="675.45" y="166.4">7200</text>
</g>
<text x="587.4" y="180.6" font-size="8.9" text-anchor="middle">Energy (eV)</text>
<text transform="translate(493.1 88) rotate(-90)" font-size="8.9" text-anchor="middle">Normalized absorption (a.u.)</text>
<g font-size="7.4">
<text x="522" y="26.8">Fe foil</text>
<text x="522" y="36.8">Fe<tspan font-size="4.6" dy="1.6">2</tspan><tspan dy="-1.6">O</tspan><tspan font-size="4.6" dy="1.6">3</tspan></text>
<text x="522" y="47">Fe-TiO<tspan font-size="4.6" dy="1.6">2</tspan></text>
</g></g>
<path d="M505.2 24.95h14.5" stroke="#555" stroke-width="1"/><path d="M505.2 34.6h14.5" stroke="#3d80f0" stroke-width="1"/><path d="M505.2 44.9h14.5" stroke="#f02a2a" stroke-width="1"/>
<rect x="557.2" y="118" width="15.3" height="16" fill="none" stroke="#e03030" stroke-width="0.6" stroke-dasharray="0.9 0.7"/>
<path d="M572.5 118L598.2 101.2M572.5 134L598.2 143.4" stroke="#666" stroke-width="0.8"/>
<rect x="598.2" y="101.2" width="61.5" height="42.2" fill="#fff" stroke="#555" stroke-width="0.8"/>
<path d="M621.5 143.4Q629 124 638 101.2" fill="none" stroke="#5a98f5" stroke-width="0.8"/>
<path d="M635.7 143.4Q644 126 652.8 101.2" fill="none" stroke="#f03030" stroke-width="0.8"/>
<path d="M614.7 126.6H652" stroke="#000" stroke-width="0.8"/><path d="M655.4 126.6l-4.6 -1.7v3.4z" fill="#000"/>
<g font-family='"Liberation Sans", Arial, sans-serif' font-size="2.6" fill="#555" text-anchor="middle"><text x="598.4" y="146.6">7118</text><text x="629" y="146.6">7122</text><text x="659.6" y="146.6">7126</text></g>
</g>
<g id="panel_d">
<g fill="none" stroke-width="1" stroke-linejoin="round">
<path d="M36 258.1C37.72 258.02 43.63 257.63 46.3 257.6C48.97 257.57 50.05 257.9 52 257.9C53.95 257.9 56.17 257.72 58 257.6C59.83 257.48 61.3 257.3 63 257.2C64.7 257.1 66.7 256.98 68.2 257C69.7 257.02 70.78 257.3 72 257.3C73.22 257.3 74.33 257.32 75.5 257C76.67 256.68 77.78 256.03 79 255.4C80.22 254.77 81.55 253.85 82.8 253.2C84.05 252.55 85.3 252.23 86.5 251.5C87.7 250.77 88.92 250.05 90 248.8C91.08 247.55 92.02 245.7 93 244C93.98 242.3 94.93 240.07 95.9 238.6C96.87 237.13 97.92 235.93 98.8 235.2C99.68 234.47 100.33 234.07 101.2 234.2C102.07 234.33 102.93 235.03 104 236C105.07 236.97 106.27 238.33 107.6 240C108.93 241.67 110.53 244.05 112 246C113.47 247.95 115.15 250.22 116.4 251.7C117.65 253.18 118.53 254.12 119.5 254.9C120.47 255.68 121.12 256.25 122.2 256.4C123.28 256.55 124.3 256.1 126 255.8C127.7 255.5 130.4 255.13 132.4 254.6C134.4 254.07 136.48 253.2 138 252.6C139.52 252 140.5 251.3 141.5 251C142.5 250.7 143.08 250.63 144 250.8C144.92 250.97 145.83 251.23 147 252C148.17 252.77 149.78 254.57 151 255.4C152.22 256.23 153.3 257 154.3 257C155.3 257 156.05 256.32 157 255.4C157.95 254.48 159 252.85 160 251.5C161 250.15 161.92 248.62 163 247.3C164.08 245.98 165.37 244.42 166.5 243.6C167.63 242.78 168.72 242.27 169.8 242.4C170.88 242.53 171.93 243.33 173 244.4C174.07 245.47 175.03 247.3 176.2 248.8C177.37 250.3 178.78 252.2 180 253.4C181.22 254.6 182.33 255.52 183.5 256C184.67 256.48 185.53 256.43 187 256.3C188.47 256.17 190.63 255.58 192.3 255.2C193.97 254.82 195.55 254.28 197 254C198.45 253.72 199.67 253.4 201 253.5C202.33 253.6 203.53 254.12 205 254.6C206.47 255.08 208.27 256.17 209.8 256.4C211.33 256.63 213.47 256.07 214.2 256" stroke="#4a4a4a" stroke-width="0.9"/>
<path d="M36 302.2C36.67 302.05 38.77 301.53 40 301.3C41.23 301.07 42.32 300.77 43.4 300.8C44.48 300.83 45.53 301.4 46.5 301.5C47.47 301.6 48.28 301.72 49.2 301.4C50.12 301.08 51.03 300.1 52 299.6C52.97 299.1 54.2 298.47 55 298.4C55.8 298.33 56.3 299 56.8 299.2C57.3 299.4 57.38 299.8 58 299.6C58.62 299.4 59.28 299.17 60.5 298C61.72 296.83 64.05 293.77 65.3 292.6C66.55 291.43 67.03 291.35 68 291C68.97 290.65 70.1 291 71.1 290.5C72.1 290 73.02 289.22 74 288C74.98 286.78 76.12 284.38 77 283.2C77.88 282.02 78.5 280.93 79.3 280.9C80.1 280.87 80.73 281.53 81.8 283C82.87 284.47 84.42 287.77 85.7 289.7C86.98 291.63 88.28 293.25 89.5 294.6C90.72 295.95 92.02 297.02 93 297.8C93.98 298.58 94.67 299.05 95.4 299.3C96.13 299.55 96.63 299.78 97.4 299.3C98.17 298.82 99.03 297.77 100 296.4C100.97 295.03 101.93 293.43 103.2 291.1C104.47 288.77 106.47 284.5 107.6 282.4C108.73 280.3 109.27 279.33 110 278.5C110.73 277.67 111.28 277.28 112 277.4C112.72 277.52 113.33 277.88 114.3 279.2C115.27 280.52 116.77 283.47 117.8 285.3C118.83 287.13 119.53 288.98 120.5 290.2C121.47 291.42 122.6 292.37 123.6 292.6C124.6 292.83 125.37 292.08 126.5 291.6C127.63 291.12 129.32 289.75 130.4 289.7C131.48 289.65 131.93 290.33 133 291.3C134.07 292.27 135.43 294.32 136.8 295.5C138.17 296.68 139.83 297.92 141.2 298.4C142.57 298.88 143.78 298.3 145 298.4C146.22 298.5 147.17 298.65 148.5 299C149.83 299.35 151.55 300.3 153 300.5C154.45 300.7 155.53 300.23 157.2 300.2C158.87 300.17 161.05 300.35 163 300.3C164.95 300.25 167.15 300.22 168.9 299.9C170.65 299.58 172.03 298.8 173.5 298.4C174.97 298 176.28 297.43 177.7 297.5C179.12 297.57 180.55 298.35 182 298.8C183.45 299.25 184.73 299.8 186.4 300.2C188.07 300.6 190.05 301 192 301.2C193.95 301.4 196.27 301.5 198.1 301.4C199.93 301.3 201.53 300.7 203 300.6C204.47 300.5 205.65 300.62 206.9 300.8C208.15 300.98 209.28 301.52 210.5 301.7C211.72 301.88 213.58 301.87 214.2 301.9" stroke="#4a90f0"/>
<path d="M36 351.9C36.67 351.78 38.77 351.4 40 351.2C41.23 351 42.32 350.87 43.4 350.7C44.48 350.53 45.53 350.33 46.5 350.2C47.47 350.07 48.28 350.17 49.2 349.9C50.12 349.63 51.03 349.1 52 348.6C52.97 348.1 53.83 347.43 55 346.9C56.17 346.37 57.53 345.88 59 345.4C60.47 344.92 62.38 344.82 63.8 344C65.22 343.18 66.28 341.95 67.5 340.5C68.72 339.05 69.98 337.02 71.1 335.3C72.22 333.58 73.23 331.67 74.2 330.2C75.17 328.73 76.13 327.38 76.9 326.5C77.67 325.62 78.22 325.23 78.8 324.9C79.38 324.57 79.78 324.42 80.4 324.5C81.02 324.58 81.77 324.82 82.5 325.4C83.23 325.98 83.97 326.48 84.8 328C85.63 329.52 86.62 332.32 87.5 334.5C88.38 336.68 89.35 339.37 90.1 341.1C90.85 342.83 91.42 343.93 92 344.9C92.58 345.87 93.02 346.52 93.6 346.9C94.18 347.28 94.87 347.1 95.5 347.2C96.13 347.3 96.72 347.17 97.4 347.5C98.08 347.83 98.87 348.67 99.6 349.2C100.33 349.73 100.98 350.9 101.8 350.7C102.62 350.5 103.53 349.12 104.5 348C105.47 346.88 106.6 345.3 107.6 344C108.6 342.7 109.53 341.42 110.5 340.2C111.47 338.98 112.43 337.83 113.4 336.7C114.37 335.57 115.42 334.13 116.3 333.4C117.18 332.67 117.92 332.2 118.7 332.3C119.48 332.4 120.18 333.02 121 334C121.82 334.98 122.68 336.87 123.6 338.2C124.52 339.53 125.52 340.88 126.5 342C127.48 343.12 128.5 344.28 129.5 344.9C130.5 345.52 131.53 345.45 132.5 345.7C133.47 345.95 134.35 345.93 135.3 346.4C136.25 346.87 137.22 347.92 138.2 348.5C139.18 349.08 140.07 349.62 141.2 349.9C142.33 350.18 143.78 350.12 145 350.2C146.22 350.28 147.17 350.3 148.5 350.4C149.83 350.5 151.55 350.75 153 350.8C154.45 350.85 155.62 350.97 157.2 350.7C158.78 350.43 160.8 349.58 162.5 349.2C164.2 348.82 165.98 348.43 167.4 348.4C168.82 348.37 169.78 348.75 171 349C172.22 349.25 173.37 349.53 174.7 349.9C176.03 350.27 177.53 350.87 179 351.2C180.47 351.53 181.83 351.82 183.5 351.9C185.17 351.98 187.05 351.8 189 351.7C190.95 351.6 193.45 351.3 195.2 351.3C196.95 351.3 198.05 351.6 199.5 351.7C200.95 351.8 202.32 351.93 203.9 351.9C205.48 351.87 207.28 351.6 209 351.5C210.72 351.4 213.33 351.33 214.2 351.3" stroke="#f02a2a"/>
</g>
<rect x="36.6" y="214.3" width="177.6" height="143.2" fill="none" stroke="#000" stroke-width="0.8"/>
<path d="M36.6 357.5v3.1M66.2 357.5v1.8M95.8 357.5v3.1M125.4 357.5v1.8M155 357.5v3.1M184.6 357.5v1.8M214.2 357.5v3.1" stroke="#000" stroke-width="0.7"/>
<path d="M101.5 229.8V243" stroke="#333" stroke-width="0.7" stroke-dasharray="1.6 0.9"/>
<path d="M79.3 275.5V288M112 274V288" stroke="#4a90f0" stroke-width="0.7" stroke-dasharray="1.6 0.9"/>
<path d="M80.4 319.2V332.5M118.7 324.5V337.5" stroke="#f02a2a" stroke-width="1.3" stroke-dasharray="1 0.8"/>
<path d="M155 224.6H175.6" stroke="#4a4a4a" stroke-width="0.9"/><path d="M155.8 271.6H175.8" stroke="#4a90f0" stroke-width="1"/><path d="M158.7 322.7H178.6" stroke="#f02a2a" stroke-width="1"/>
<g font-family='"Liberation Sans", Arial, sans-serif' font-size="7.4" fill="#000">
<text x="79.3" y="229.5">Fe-Fe</text><text x="177.7" y="227.3" font-size="7.2">Fe foil*0.3</text>
<g fill="#3b86f0"><text x="56.5" y="276.2">Fe-O</text><text x="89.5" y="276.2">Fe-Fe</text><text x="178" y="274.6">Fe<tspan font-size="4.6" dy="1.6">2</tspan><tspan dy="-1.6">O</tspan><tspan font-size="4.6" dy="1.6">3</tspan></text></g>
<g fill="#f02020"><text x="58" y="319.8">Fe-O</text><text x="97.4" y="324.7">Fe-Ti</text><text x="181.2" y="325.3">Fe-TiO<tspan font-size="4.6" dy="1.6">2</tspan></text></g>
<g font-size="7.7" text-anchor="middle">
<text x="36.6" y="367.9">0</text>
<text x="95.8" y="367.9">2</text>
<text x="155" y="367.9">4</text>
<text x="214.2" y="367.9">6</text>
</g>
<text x="125.1" y="377.8" font-size="9" text-anchor="middle">Radial distance (Å)</text>
<text transform="translate(28.4 284.5) rotate(-90)" font-size="9" text-anchor="middle">|χ(R)| (Å<tspan font-size="5.5" dy="-3">-3</tspan><tspan dy="3">)</tspan></text>
</g>
</g>
<g id="panel_e">
<defs><clipPath id="e1"><rect x="270.8" y="215.2" width="178.4" height="139.9"/></clipPath></defs>
<g clip-path="url(#e1)"><g transform="scale(0.1)">
<rect x="2708.0" y="2152.0" width="1784" height="1399" fill="#0000ad"/>
<path d="M2708 2152l1784 0 0 1399 -1784 0zM2753 2964l15 2 4-2z" fill="#0000b9" fill-rule="evenodd"/>
<path d="M2708 2152l1784 0 0 1399 -1784 0zM2723 2957l-13 7 9 15 19 5 15 2 30-2 15-3 3-2 8-15 -26-11 -15-3 -15 0 -15 2zM4117 2302l-30 3 -30 8 -15 8 -12 12 -3 15 7 15 17 15 34 15 17 4 30 4 30 1 30-3 30-6 23-15 7-15 -5-15 -16-15 -28-16 -26-7 -30-6z" fill="#0000d3" fill-rule="evenodd"/>
<path d="M2708 2152l1784 0 0 1399 -1784 0 0-562 30 6 30 1 15-2 15-3 26-12 5-15 -21-15 -25-6 -15-1 -30 0 -30 5zM3563 3083l-5 2 20 6 29 3 30-2 36-7 -21-8 -30-3 -29 2zM4057 2210l-30 5 -30 6 -30 10 -22 11 -22 15 -14 15 -8 15 -4 15 -1 15 4 16 6 15 11 15 14 15 19 15 25 15 34 15 50 15 73 11 75 4 75-5 67-10 48-15 28-15 16-15 9-15 3-15 -3-15 -6-15 -11-16 -14-15 -19-15 -23-15 -35-17 -60-22 -75-17 -75-8 -45 0z" fill="#0000ed" fill-rule="evenodd"/>
<path d="M2708 2152l1105 0 -17 45 -7 30 -1 30 2 15 9 30 17 31 25 30 35 30 48 30 43 18 60 19 45 9 75 10 60 4 90 1 90-2 105-7 0 1076 -1784 0 0-549 45 3 45-5 18-6 25-15 4-15 -16-15 -31-11 -45-5 -45 3zM3593 3054l-45 5 -51 11 -20 15 19 15 37 7 60 6 29 1 45-3 79-11 35-15 -1-15 -23-8 -30-6 -60-4z" fill="#0000fc" fill-rule="evenodd"/>
<path d="M3085 2167l41-15 442 0 25 15 29 26 92 109 29 31 33 30 38 30 22 15 54 30 35 15 42 15 58 15 91 15 91 8 195 10 90 8 0 376 -131 34 -100 30 -37 15 -29 15 -21 15 -9 15 12 16 40 15 275 67 0 429 -1784 0 0-536 30 1 30-2 45-9 25-11 19-15 3-15 -17-17 -15-8 -30-9 -45-7 -45 0 0-580 60-36 75-38 75-33zM3622 3039l-59 5 -60 8 -30 7 -32 11 -13 15 15 15 53 15 37 4 45 4 59 1 60-3 62-6 75-15 45-15 22-15 -11-15 -28-7 -45-6 -90-5z" fill="#0000ff" fill-rule="evenodd"/>
<path d="M3251 2212l42-7 30-3 60 0 45 7 30 7 30 10 45 20 60 34 164 113 50 30 59 30 36 15 50 17 60 15 75 13 75 9 210 19 60 9 60 11 0 285 -75 23 -198 50 -50 15 -142 53 -60 17 -45 8 -45 5 -225 10 -74 5 -67 8 -83 16 -33 14 -9 15 15 15 42 15 90 13 74 4 75-1 60-3 113-13 82-13 75-7 45-1 60 3 90 11 90 17 105 26 90 29 0 352 -53 19 -1731 0 0-519 45-4 30-5 30-8 15-6 15-6 15-9 14-15 2-15 -11-15 -20-12 -15-7 -60-16 -60-7 0-446 44-38 46-34 60-36 60-29 75-31 90-33 90-28z" fill="#050dff" fill-rule="evenodd"/>
<path d="M3305 2272l48-1 60 5 60 12 60 20 74 33 148 82 59 30 73 30 50 16 60 15 75 14 225 27 75 11 60 12 60 19 0 207 -15 6 -45 17 -60 19 -224 58 -47 15 -134 50 -60 17 -45 9 -45 7 -254 22 -115 16 -65 15 -28 15 -6 15 14 15 38 15 76 15 86 7 74 2 75-1 270-19 60 0 60 4 90 12 75 15 75 20 60 19 45 16 45 20 0 259 -75 33 -101 34 -1608 0 0-496 90-22 45-17 33-22 11-15 1-15 -9-15 -21-15 -15-8 -30-12 -76-25 -29-13 0-317 25-31 28-30 50-45 62-43 75-41 75-31 45-16 60-18 45-11 60-12z" fill="#1026ff" fill-rule="evenodd"/>
<path d="M3302 2317l51-1 60 5 45 7 45 10 45 14 45 18 206 98 48 20 60 20 75 19 60 12 225 31 90 16 45 11 30 10 27 11 33 20 0 121 -40 25 -50 21 -90 29 -156 40 -52 15 -47 16 -135 51 -60 18 -45 10 -60 10 -254 28 -108 18 -57 16 -22 14 -3 15 15 15 35 15 65 15 75 9 76 6 88 1 75-1 180-9 105 1 60 4 75 11 75 16 60 16 64 21 56 23 43 22 32 22 0 162 -39 27 -66 34 -75 28 -92 28 -1512 0 0-474 90-25 45-19 15-9 15-9 22-21 8-15 0-15 -8-15 -22-18 -80-42 -46-30 -17-15 -12-15 -10-15 0-152 6-14 15-30 20-30 23-30 27-30 29-27 30-26 31-22 44-28 45-23 45-20 45-17 45-14 45-12 60-12 45-6z" fill="#204aff" fill-rule="evenodd"/>
<path d="M3210 2363l68-10 75-3 75 5 60 11 60 17 45 15 195 85 44 17 60 20 60 16 60 13 225 34 75 15 71 20 34 15 24 15 16 15 10 16 4 15 -2 15 -6 15 -12 15 -19 16 -30 18 -45 20 -75 24 -150 40 -57 17 -63 22 -120 48 -63 20 -42 10 -60 11 -269 35 -113 20 -48 15 -21 15 0 15 17 15 34 15 60 15 108 15 83 5 74 2 255-4 90 1 60 5 60 8 45 9 60 14 75 22 60 24 39 19 25 15 20 15 16 15 12 15 8 15 5 15 0 15 -3 15 -6 16 -10 15 -16 17 -34 28 -26 16 -45 22 -45 19 -45 16 -114 32 -1430 0 0-454 95-27 39-15 29-15 17-12 15-15 12-19 6-15 -1-15 -7-15 -10-11 -15-12 -56-37 -38-30 -15-15 -23-30 -13-30 -3-15 -2-30 3-30 14-46 15-30 20-30 36-45 47-45 60-44 60-35 75-33 60-19z" fill="#2e6aff" fill-rule="evenodd"/>
<path d="M3205 2393l73-11 75-4 75 5 75 13 60 17 44 15 173 70 97 34 60 16 60 13 210 35 75 16 30 8 36 13 29 15 20 15 11 16 5 15 -1 15 -7 15 -14 15 -20 15 -27 15 -47 19 -60 19 -183 52 -72 26 -120 50 -75 24 -45 11 -60 11 -269 37 -90 15 -29 7 -45 15 -15 15 3 15 19 15 35 15 57 15 94 15 91 8 89 4 270 0 105 5 60 6 45 7 45 9 60 15 65 21 55 24 40 21 21 15 17 15 12 15 9 15 4 15 1 15 -3 15 -7 16 -10 15 -24 24 -29 21 -31 18 -45 21 -90 33 -60 17 -67 16 -1357 0 0-436 59-15 46-15 78-30 25-15 14-16 9-30 1-15 -1-15 -7-15 -14-17 -68-58 -31-30 -12-15 -18-30 -9-30 -2-30 4-30 9-30 6-16 27-45 36-45 48-45 55-40 60-34 60-26 60-20z" fill="#3b85ff" fill-rule="evenodd"/>
<path d="M3272 2408l51-4 60-1 60 6 60 10 45 11 45 14 194 74 105 33 105 25 155 27 85 19 40 11 20 8 16 7 24 15 14 16 6 15 -1 15 -9 15 -15 15 -23 15 -31 15 -56 20 -135 39 -60 20 -69 26 -111 48 -60 22 -60 16 -75 15 -299 43 -119 22 -42 15 -9 15 11 15 23 15 36 15 57 15 103 17 90 9 90 5 269 4 90 4 105 11 60 12 45 11 60 18 60 25 37 19 22 15 17 15 14 15 8 15 5 15 0 15 -3 15 -7 16 -10 15 -23 22 -32 23 -28 15 -45 21 -45 17 -60 19 -60 16 -75 17 -1289 0 0-421 66-15 39-11 99-34 38-15 23-15 4-16 -10-30 -7-30 -6-15 -9-15 -14-15 -76-75 -22-30 -8-15 -9-30 -2-30 5-30 4-15 12-31 29-45 39-45 45-38 60-41 60-31 60-23 75-21z" fill="#48a0ff" fill-rule="evenodd"/>
<path d="M3229 2438l79-11 75-2 75 7 75 15 89 27 150 54 105 34 90 22 180 36 75 20 23 8 29 15 17 16 8 15 -1 15 -9 15 -18 15 -26 15 -23 10 -56 20 -154 49 -60 24 -142 62 -41 15 -50 15 -65 15 -88 15 -378 53 -75 7 -30-1 -15-3 -15-6 -30-17 -21-18 -10-15 -19-45 -11-15 -60-60 -26-30 -17-30 -9-30 -2-30 4-30 11-30 7-16 31-45 32-34 48-41 57-36 60-29 60-22zM2997 3070l56-10 30 1 30 12 56 27 43 15 59 15 85 15 57 7 75 8 90 6 269 6 75 4 90 9 75 13 60 16 45 14 45 18 38 19 37 26 18 19 10 15 4 15 1 15 -4 15 -7 16 -10 15 -15 15 -27 20 -45 25 -60 26 -75 25 -75 19 -94 20 -1225 0 0-408 65-13 62-15 113-34z" fill="#54b7ff" fill-rule="evenodd"/>
<path d="M3270 2453l68-7 75 1 75 9 75 17 59 18 150 53 90 28 90 24 168 37 51 15 35 15 22 16 9 15 0 15 -10 15 -5 3 -15 12 -29 15 -37 15 -159 56 -210 93 -47 16 -43 12 -75 17 -89 14 -255 33 -60 5 -45 1 -45-3 -30-6 -30-11 -24-17 -10-15 -14-30 -10-15 -13-15 -62-60 -22-30 -14-30 -5-30 1-30 9-30 6-15 17-31 36-43 45-39 45-31 45-25 60-25 60-19zM2967 3100l56-7 45 1 45 8 114 28 87 15 121 15 158 11 299 11 75 7 75 12 60 14 45 13 45 17 43 20 32 21 11 9 15 15 9 15 5 15 1 15 -4 15 -7 16 -11 15 -16 15 -33 23 -45 24 -60 24 -75 24 -90 22 -96 18 -1163 0 0-397 127-24z" fill="#60ceff" fill-rule="evenodd"/>
<path d="M3311 2468l72-3 60 3 60 9 75 18 74 23 195 64 246 66 41 15 25 16 12 15 1 15 -11 15 -20 15 -30 15 -159 64 -184 86 -41 16 -60 18 -46 11 -80 15 -103 15 -130 16 -60 5 -60 2 -45-3 -30-6 -37-14 -17-15 -28-45 -14-15 -66-60 -23-30 -14-30 -6-30 2-30 9-30 7-15 18-31 26-30 38-34 30-22 30-19 60-30 60-21 60-15zM3010 3115l43-1 45 4 172 27 173 20 135 10 284 12 75 7 75 11 60 14 55 16 39 15 41 21 36 24 15 15 9 15 6 15 0 15 -3 15 -8 16 -12 15 -16 15 -20 15 -25 15 -42 19 -68 26 -82 23 -90 20 -98 17 -1072 0 -29-4 0-383 240-43z" fill="#6ae2ff" fill-rule="evenodd"/>
<path d="M3242 2498l36-7 45-5 75-3 75 6 45 8 45 10 89 26 195 65 171 50 40 15 29 16 14 15 2 15 -9 15 -20 15 -27 15 -110 51 -170 84 -55 22 -60 19 -59 14 -60 12 -60 9 -120 15 -75 6 -45 2 -45-2 -45-6 -35-16 -15-15 -24-30 -16-15 -55-45 -30-30 -11-15 -15-30 -6-30 2-30 4-15 13-30 20-31 28-30 35-30 45-29 45-23 60-23zM3017 3130l51 0 60 3 215 27 160 15 359 19 60 6 60 9 51 11 54 15 42 15 48 23 33 22 15 15 10 15 5 15 1 15 -4 15 -8 16 -12 15 -16 15 -21 15 -27 15 -51 23 -75 25 -75 20 -90 19 -116 18 -946 0 -92-14 0-364 225-36z" fill="#73f3ff" fill-rule="evenodd"/>
<path d="M3260 2513l33-6 45-5 75-1 75 7 75 15 104 30 284 95 37 15 28 16 16 15 3 15 -7 15 -16 15 -49 30 -198 105 -53 23 -60 21 -59 15 -60 12 -75 11 -75 9 -75 6 -45 2 -45-2 -41-7 -19-7 -15-9 -53-44 -61-45 -32-30 -12-15 -15-30 -7-30 3-30 10-30 18-31 29-33 45-37 45-27 45-22 45-16zM2968 3145l70-5 75 2 345 33 374 23 60 6 60 9 60 12 45 13 45 16 45 21 31 20 16 15 10 15 6 15 1 15 -4 15 -8 16 -13 15 -17 15 -22 15 -27 15 -48 20 -75 26 -90 22 -90 18 -120 17 -17 2 -815 0 -142-20 -15-3 0-346 180-28z" fill="#78fdfa" fill-rule="evenodd"/>
<path d="M3275 2528l33-5 45-5 75 0 75 8 75 16 59 17 75 24 102 35 79 30 34 15 25 16 16 15 6 15 -5 15 -12 15 -18 15 -45 30 -76 45 -56 30 -50 23 -60 23 -49 14 -55 12 -60 10 -60 8 -75 6 -60 2 -45-3 -30-5 -15-5 -30-13 -90-56 -42-31 -18-18 -20-27 -11-30 -2-30 7-30 15-30 26-33 15-15 30-24 45-27 45-22 45-16zM2913 3160l50-6 60-4 60-1 60 3 330 29 329 21 105 11 60 11 60 16 45 15 45 21 31 19 16 15 11 15 6 15 1 15 -4 15 -9 16 -13 15 -17 15 -37 22 -49 23 -71 24 -90 23 -90 18 -105 15 -88 10 -672 0 -154-19 -75-13 0-328 120-20z" fill="#76fef0" fill-rule="evenodd"/>
<path d="M3287 2543l36-6 45-3 75 0 45 5 45 7 89 23 63 19 84 30 74 30 30 15 24 16 16 15 6 15 -2 15 -9 15 -14 15 -18 15 -42 30 -49 30 -55 30 -32 15 -38 15 -38 13 -44 12 -60 12 -60 8 -45 4 -60 3 -45-1 -45-4 -30-7 -45-17 -30-15 -60-34 -30-22 -27-27 -11-15 -7-15 -5-15 -2-30 8-30 16-30 26-31 36-30 41-25 45-21 45-16zM3003 3160l95-3 105 5 285 24 284 19 75 7 55 8 65 13 45 13 54 19 30 15 23 15 17 15 12 15 5 15 1 15 -4 15 -9 16 -13 15 -18 15 -38 22 -51 23 -69 22 -90 23 -105 19 -90 13 -142 13 -504 0 -118-11 -135-18 -60-11 0-312 90-16 90-12z" fill="#73ffdf" fill-rule="evenodd"/>
<path d="M3296 2558l42-6 45-3 75 2 75 10 89 22 104 35 71 30 29 15 23 16 15 15 8 15 0 15 -7 15 -11 15 -15 15 -19 15 -42 30 -51 30 -29 15 -46 19 -45 15 -44 12 -45 9 -45 7 -60 5 -45 1 -45-2 -30-3 -45-10 -45-15 -45-20 -45-25 -30-23 -15-16 -11-14 -8-15 -5-15 -2-15 0-15 8-30 18-30 15-18 31-28 44-27 37-18 53-18zM2915 3175l63-6 60-4 60-1 75 2 554 40 135 15 60 11 60 15 54 18 31 15 25 15 17 15 12 15 6 15 1 15 -4 15 -9 16 -14 15 -14 10 -30 20 -60 27 -60 20 -75 19 -90 18 -90 14 -119 13 -135 8 -287 1 -163-10 -150-17 -120-21 0-296 120-21z" fill="#6cffc6" fill-rule="evenodd"/>
<path d="M3304 2573l34-5 45-4 75 1 45 6 45 8 89 24 46 15 59 25 41 20 22 16 15 15 9 15 1 15 -4 15 -9 15 -30 30 -40 30 -24 15 -27 15 -44 20 -30 12 -44 13 -45 11 -45 7 -45 4 -45 2 -45-1 -45-4 -45-9 -30-9 -44-16 -31-15 -30-18 -32-27 -13-18 -7-12 -5-15 -3-15 0-15 4-15 11-26 13-19 31-31 21-15 25-15 45-20 45-15zM2990 3175l63-4 60 0 135 5 464 34 90 9 60 9 45 8 55 14 44 15 34 15 25 15 18 15 12 15 6 15 1 15 -4 15 -9 16 -15 15 -17 13 -30 18 -60 26 -60 19 -75 19 -90 17 -90 13 -104 10 -105 7 -105 4 -105 0 -105-3 -105-6 -105-10 -105-14 -105-20 0-280 75-14 75-11 60-8z" fill="#63ffa4" fill-rule="evenodd"/>
<path d="M3311 2588l72-9 75 1 75 10 45 10 44 13 57 20 34 15 28 15 23 16 16 15 9 15 3 15 -2 15 -8 15 -12 15 -33 30 -25 17 -45 26 -30 14 -44 16 -30 9 -75 14 -45 4 -45 1 -75-5 -45-8 -30-8 -45-16 -30-15 -30-19 -18-15 -13-15 -9-15 -6-15 -3-15 1-15 3-15 6-15 10-15 12-15 15-16 19-15 28-17 45-21 45-14zM2901 3190l62-7 75-5 75-1 75 1 105 6 359 26 150 15 63 10 66 15 47 15 34 15 27 15 19 15 12 15 7 15 0 15 -4 15 -9 16 -15 15 -37 24 -45 22 -60 21 -75 20 -75 15 -90 14 -89 10 -105 9 -105 4 -105 2 -105-2 -105-6 -90-7 -105-13 -75-12 -75-16 0-264 105-20z" fill="#56ff79" fill-rule="evenodd"/>
<path d="M3318 2603l65-8 45-1 30 1 66 8 69 17 41 13 37 15 30 15 23 16 17 15 11 15 4 15 -1 15 -7 15 -10 15 -32 30 -21 15 -25 15 -38 18 -31 12 -43 13 -30 6 -45 7 -30 2 -45 1 -75-7 -36-7 -39-11 -30-11 -30-15 -30-21 -17-17 -11-15 -6-15 -3-15 1-15 4-15 7-15 10-15 13-15 18-16 22-15 28-15 24-10 30-10zM2960 3190l63-5 75-3 135 3 404 28 90 9 75 9 97 19 50 15 37 15 27 15 20 15 13 15 7 15 0 15 -4 15 -10 16 -15 15 -21 15 -21 11 -40 19 -65 21 -75 19 -75 15 -90 13 -104 11 -90 6 -90 4 -105 1 -105-3 -90-5 -105-9 -90-12 -75-12 -75-17 0-248 120-24z" fill="#49fd4b" fill-rule="evenodd"/>
<path d="M3326 2618l42-6 30-2 60 0 60 7 67 16 52 20 23 10 25 16 18 15 12 15 6 15 0 15 -6 15 -9 15 -14 15 -25 20 -45 27 -30 13 -44 14 -30 7 -45 7 -60 3 -45-2 -30-4 -60-12 -38-13 -31-15 -22-15 -14-13 -14-17 -7-15 -3-15 1-15 8-23 15-22 16-15 20-16 26-15 28-11 30-10zM3038 3190l120-3 150 6 344 26 90 10 60 8 45 9 45 11 30 9 45 18 21 11 21 15 13 15 7 15 1 15 -5 15 -10 16 -15 15 -33 20 -53 25 -52 17 -75 19 -90 17 -90 13 -89 9 -105 6 -90 3 -105 0 -105-4 -90-6 -90-9 -90-13 -75-14 -60-14 0-233 75-16 75-13 90-11z" fill="#3af819" fill-rule="evenodd"/>
<path d="M3336 2633l62-8 60 0 60 8 60 15 44 18 23 13 20 15 13 15 7 15 1 15 -4 15 -9 15 -13 15 -18 15 -23 15 -41 19 -30 11 -30 7 -60 10 -60 0 -60-6 -30-6 -30-9 -29-11 -16-9 -30-21 -13-15 -8-15 -3-15 1-15 4-15 9-15 13-15 18-15 25-16 29-13 30-10zM2929 3205l79-8 75-4 75-1 75 2 120 6 210 16 104 9 84 10 96 18 46 12 41 15 30 15 21 15 14 15 7 15 1 15 -5 15 -10 16 -16 15 -39 23 -45 20 -51 17 -69 17 -75 15 -75 11 -74 8 -90 7 -105 5 -90 1 -90-2 -105-5 -90-8 -75-9 -105-18 -90-21 0-217 105-23z" fill="#37f700" fill-rule="evenodd"/>
<path d="M3351 2648l47-6 60 0 52 6 56 15 41 19 18 12 15 15 9 15 2 15 -3 15 -8 15 -14 15 -19 15 -27 15 -17 8 -30 10 -30 8 -45 6 -60 1 -45-5 -56-13 -36-15 -23-15 -15-15 -9-15 -3-15 1-15 5-15 10-15 16-15 20-14 35-17zM2983 3205l130-7 75-1 75 3 135 7 166 13 103 10 75 9 62 11 43 10 45 14 30 13 18 8 22 15 14 15 8 15 1 15 -5 15 -11 16 -17 15 -23 15 -52 23 -60 20 -60 15 -75 14 -75 12 -89 9 -90 6 -90 4 -90 0 -90-2 -90-5 -90-8 -90-12 -91-16 -89-23 0-200 60-15 60-12 75-12z" fill="#41fb00" fill-rule="evenodd"/>
<path d="M3375 2663l38-4 45 1 45 6 45 13 31 15 20 15 11 15 4 15 -3 15 -8 15 -10 11 -27 19 -33 15 -45 12 -45 6 -45-1 -45-6 -41-11 -32-15 -18-15 -11-15 -3-10 -2-5 2-16 6-14 9-11 24-19 36-17zM3055 3205l133-3 150 6 255 19 79 8 70 10 45 8 50 12 46 15 33 15 23 15 15 15 8 15 1 15 -6 15 -11 16 -17 15 -37 21 -45 19 -60 18 -60 14 -75 14 -74 10 -90 9 -90 5 -90 3 -90 0 -90-3 -90-7 -90-9 -75-11 -90-19 -75-21 0-182 75-20 90-18 90-12z" fill="#4bff00" fill-rule="evenodd"/>
<path d="M3348 2694l35-9 45-6 30 1 45 8 16 6 29 14 15 13 8 18 -1 15 -9 15 -18 15 -30 15 -25 7 -30 6 -30 2 -45-4 -30-6 -16-5 -28-15 -15-15 -6-15 2-15 9-15 17-15zM2946 3220l77-8 75-4 75-1 75 1 105 5 120 8 120 10 89 11 57 8 63 14 45 13 30 12 15 6 24 15 16 15 8 15 1 15 -6 15 -11 16 -18 15 -25 15 -33 15 -42 15 -64 17 -61 13 -74 12 -74 8 -90 8 -90 4 -75 1 -90-1 -75-4 -90-7 -75-8 -75-12 -60-12 -60-15 -45-15 0-165 45-14 60-14 60-12z" fill="#59ff00" fill-rule="evenodd"/>
<path d="M3411 2709l17-2 30 1 30 9 14 7 13 15 -1 15 -12 15 -29 13 -15 4 -30 2 -15-1 -22-3 -23-9 -11-6 -11-15 3-15 19-17 15-6zM2995 3220l73-6 60-2 75-1 75 2 105 5 120 9 90 9 89 11 99 18 51 15 36 15 26 15 16 15 8 15 1 15 -5 15 -12 16 -19 15 -26 15 -34 15 -44 15 -58 15 -69 13 -74 12 -75 8 -90 6 -75 3 -90 1 -90-3 -75-4 -75-7 -75-9 -60-10 -60-13 -46-12 -59-22 0-144 45-16 75-19 75-13z" fill="#67ff00" fill-rule="evenodd"/>
<path d="M3056 3220l132-4 135 3 195 14 153 17 56 10 45 10 35 10 38 15 26 15 17 15 9 15 1 15 -6 15 -12 16 -19 15 -27 15 -36 15 -47 15 -61 15 -68 12 -59 9 -75 8 -75 5 -75 3 -90 1 -90-3 -75-4 -75-7 -75-10 -77-14 -61-15 -47-15 -40-18 0-123 23-10 45-15 82-19 90-15z" fill="#76ff00" fill-rule="evenodd"/>
<path d="M2958 3235l65-7 75-6 75-2 75 1 105 4 105 7 90 8 88 10 61 10 45 10 39 10 40 15 28 15 17 15 9 15 1 15 -5 15 -13 16 -20 15 -28 15 -23 9 -45 15 -60 15 -60 12 -58 9 -136 13 -150 5 -150-5 -75-5 -71-8 -93-15 -66-15 -55-17 -32-13 -28-15 0-99 12-7 35-15 48-15 70-16z" fill="#86ff00" fill-rule="evenodd"/>
<path d="M3002 3235l126-9 135-1 180 10 164 16 105 19 43 10 42 15 29 15 19 15 9 15 1 15 -6 15 -13 16 -21 15 -43 20 -30 11 -60 16 -60 13 -74 11 -135 13 -150 4 -150-6 -75-6 -60-8 -75-12 -75-18 -60-20 -37-18 -23-17 0-66 9-8 26-15 37-15 48-14 75-17z" fill="#96ff00" fill-rule="evenodd"/>
<path d="M3056 3235l132-6 135 3 165 11 134 16 40 6 50 11 61 19 31 15 19 15 10 15 1 15 -6 15 -14 16 -21 15 -36 16 -37 14 -56 15 -71 14 -60 8 -135 12 -75 3 -75 0 -75-2 -75-4 -75-8 -60-8 -75-14 -45-11 -45-15 -30-13 -15-7 -21-15 -14-16 -7-15 1-15 10-15 17-15 28-15 46-17 46-13 74-15 60-8z" fill="#acff08" fill-rule="evenodd"/>
<path d="M3134 3235l114-1 120 4 151 12 111 15 82 18 37 12 32 15 20 15 11 15 1 15 -7 15 -14 16 -22 15 -43 18 -34 12 -60 15 -70 12 -60 8 -135 11 -75 1 -75 0 -135-8 -75-8 -60-10 -45-9 -50-12 -44-15 -33-15 -22-15 -16-19 -5-12 1-15 9-15 19-15 28-15 41-15 57-15 60-11 60-9z" fill="#c2ff10" fill-rule="evenodd"/>
<path d="M3011 3250l117-10 135-2 150 7 75 6 75 9 44 7 60 12 58 16 33 15 21 15 11 15 2 15 -7 15 -15 16 -24 15 -34 15 -46 15 -44 10 -104 18 -120 11 -135 3 -120-4 -120-11 -60-9 -45-9 -38-9 -46-15 -34-15 -24-15 -15-16 -7-15 1-15 10-15 19-15 30-15 43-15 46-11 45-9z" fill="#d6fe18" fill-rule="evenodd"/>
<path d="M3059 3250l114-7 120 0 135 8 134 14 83 15 54 15 28 12 30 18 11 15 2 15 -7 15 -15 16 -25 15 -36 15 -50 14 -30 7 -44 9 -60 9 -120 10 -135 3 -120-5 -120-13 -99-19 -50-15 -36-15 -25-15 -15-16 -8-15 1-15 11-15 20-15 32-15 34-11 78-19z" fill="#e9fb20" fill-rule="evenodd"/>
<path d="M3124 3250l109-3 120 3 120 9 105 14 38 7 51 14 44 16 24 15 12 15 1 15 -7 15 -16 16 -26 15 -39 15 -67 18 -60 11 -45 6 -120 10 -120 2 -120-5 -120-14 -90-19 -33-9 -38-15 -26-15 -16-16 -8-15 1-15 11-15 21-15 34-15 49-15 95-18z" fill="#fcf828" fill-rule="evenodd"/>
<path d="M3025 3265l103-10 120-3 120 4 135 12 60 8 44 9 40 10 35 13 30 17 12 15 2 15 -7 15 -18 16 -27 15 -22 8 -30 10 -48 12 -86 14 -105 10 -105 3 -105-3 -109-9 -92-15 -54-14 -30-10 -16-6 -28-15 -17-16 -8-15 1-15 12-15 26-16 32-14 43-12z" fill="#fde528" fill-rule="evenodd"/>
<path d="M3071 3265l102-7 120-1 120 6 105 12 33 5 56 12 55 18 27 15 13 15 2 15 -8 15 -14 12 -34 19 -44 15 -41 10 -90 15 -105 9 -105 2 -105-3 -105-11 -46-7 -44-10 -21-5 -44-15 -30-15 -18-16 -8-15 1-15 12-15 18-11 44-19 61-15z" fill="#fed228" fill-rule="evenodd"/>
<path d="M3131 3265l87-4 105 2 90 5 102 12 75 15 47 15 28 15 14 15 2 15 -9 15 -19 16 -32 15 -47 15 -26 6 -48 9 -42 5 -105 9 -105 2 -105-5 -97-11 -83-18 -39-12 -31-15 -20-16 -8-15 1-15 13-15 24-14 42-16 78-17z" fill="#ffbe25" fill-rule="evenodd"/>
<path d="M3048 3280l95-10 105-4 105 3 120 11 86 15 51 15 30 15 15 15 2 15 -9 15 -21 16 -34 15 -52 15 -87 15 -86 7 -90 3 -90-2 -96-8 -87-15 -53-15 -34-16 -20-15 -10-15 2-15 13-15 27-15 45-15z" fill="#ffaa1f" fill-rule="evenodd"/>
<path d="M3094 3280l94-7 90-1 90 3 90 9 68 11 56 15 32 15 16 15 2 15 -9 15 -22 16 -37 15 -60 15 -61 9 -90 8 -90 2 -90-3 -75-7 -56-9 -64-17 -33-13 -12-8 -10-8 -10-15 1-15 15-15 29-15 49-15z" fill="#ff9619" fill-rule="evenodd"/>
<path d="M3158 3280l90-3 90 2 75 6 76 10 63 15 35 15 17 15 3 15 -11 15 -24 16 -24 9 -17 6 -43 10 -60 9 -90 8 -90 1 -90-5 -74-8 -69-15 -42-15 -25-17 -10-14 2-15 15-15 33-15 20-6 60-13z" fill="#ff8013" fill-rule="evenodd"/>
<path d="M3085 3295l73-8 90-4 90 2 90 8 45 7 46 10 39 15 19 15 3 15 -11 15 -27 16 -47 15 -82 14 -60 5 -75 3 -75-2 -66-5 -84-15 -45-14 -31-17 -12-15 2-15 17-15 36-15z" fill="#ff6a0d" fill-rule="evenodd"/>
<path d="M3139 3295l64-5 75-1 75 3 60 6 70 12 44 15 21 15 3 15 -12 15 -30 16 -55 15 -56 8 -75 6 -60 1 -60-2 -75-8 -36-5 -55-15 -30-16 -13-15 2-15 19-15 41-15z" fill="#ff5608" fill-rule="evenodd"/>
<path d="M3098 3310l60-9 75-5 60 0 75 5 72 9 53 15 24 15 3 15 -14 15 -35 16 -73 15 -60 6 -60 2 -60-2 -60-5 -45-8 -38-8 -35-16 -15-15 2-15 22-15z" fill="#ff4504" fill-rule="evenodd"/>
<path d="M3153 3310l50-4 60-3 60 2 61 5 69 15 28 15 4 15 -17 15 -25 10 -18 6 -57 9 -45 4 -60 2 -45-2 -45-5 -52-8 -23-8 -21-8 -17-15 2-15 26-15z" fill="#ff3400" fill-rule="evenodd"/>
<path d="M3138 3325l50-8 45-4 45-1 60 3 45 6 30 8 27 11 4 15 -21 15 -63 16 -82 5 -75-4 -30-4 -50-13 -23-15 4-15z" fill="#ff2b00" fill-rule="evenodd"/>
<path d="M3220 3325l73-1 45 4 48 12 6 15 -34 15 -50 7 -60 0 -60-6 -35-16 4-15 31-8z" fill="#ff2200" fill-rule="evenodd"/>
<path d="M2708 3098l49-13 47-15 39-15 29-15 16-11 15-15 13-20 5-15 -1-15 -7-15 -10-11 -15-13 -55-36 -38-30 -15-15 -13-15 -10-15 -8-15 -5-15 -3-15 -2-15 1-30 2-15 9-30 5-16 16-30 26-39 30-36 15-16 30-27 45-35 45-29 45-23 60-26 60-20 45-11 30-6 45-8 45-4 45-2 45 1 45 4 30 5 60 13 60 20 59 23 150 66 75 28 57 17 62 15 61 12 225 34 45 9 45 12 24 8 21 9 13 6 24 15 16 15 10 16 4 15 -1 15 -6 13 -12 17 -18 15 -15 9 -40 21 -38 15 -47 15 -160 42 -59 18 -61 22 -120 47 -45 16 -30 8 -45 10 -60 10 -239 31 -90 14 -39 8 -48 15 -21 15 0 15 17 15 34 15 60 15 102 14 75 6 89 2 75 0 165-4 75 0 75 5 75 10 75 15 75 20 63 22 35 15 29 15 25 15 21 15 16 15 12 15 8 15 4 15 1 15 -3 15 -7 16 -9 15 -15 16 -15 14 -20 15 -25 15 -45 23 -45 18 -45 16 -45 14 -71 19M3317 2468l36-2 30-1 60 4 60 9 75 17 74 23 120 41 75 24 60 17 131 33 53 15 41 15 25 16 13 15 0 15 -10 15 -21 15 -29 15 -158 64 -135 64 -50 22 -55 20 -45 14 -48 11 -80 15 -103 15 -128 16 -60 5 -60 1 -45-3 -30-5 -15-5 -20-9 -18-15 -18-30 -10-15 -14-15 -51-45 -15-15 -13-15 -10-15 -8-15 -6-15 -4-15 -2-15 0-15 2-15 3-15 6-15 13-27 12-19 26-30 15-15 22-18 30-23 30-18 30-16 30-14 30-12 30-10 60-14 30-6 39-4M2708 3164l255-44 30-4 30-1 45 0 60 7 141 23 118 15 56 5 135 10 254 10 105 9 60 9 45 9 45 11 39 12 39 15 32 15 25 15 15 11 20 19 10 15 5 15 0 15 -3 15 -8 16 -12 15 -16 15 -11 8 -34 22 -41 19 -60 23 -60 18 -75 19 -75 15 -70 11M2738 3551l-30-5M3299 2558l39-6 45-3 45 0 30 2 30 3 45 7 45 10 44 13 60 19 43 15 71 30 29 15 23 16 15 15 8 15 0 15 -7 15 -11 15 -15 15 -18 15 -43 30 -50 30 -30 15 -45 19 -45 15 -44 12 -45 9 -45 6 -60 5 -45 1 -45-1 -30-4 -45-9 -45-15 -45-20 -30-16 -15-10 -29-22 -16-17 -10-13 -8-15 -5-15 -2-15 0-15 3-15 5-15 8-15 9-14 15-18 14-14 18-15 22-15 21-12 45-21 45-15 51-12M2708 3207l60-11 75-12 60-8 75-7 60-4 45-1 105 3 295 23 244 17 105 10 75 12 60 14 26 7 34 12 40 18 24 15 18 15 11 15 6 15 1 15 -4 15 -9 16 -12 12 -21 18 -24 15 -45 21 -45 16 -60 18 -75 18 -75 13 -90 13 -89 10 -90 7 -87 4M3145 3551l-122-6 -120-12 -105-14 -90-17M3339 2633l29-4 30-3 30-1 30 1 30 3 30 4 30 7 30 9 44 18 22 12 20 15 13 15 7 15 2 15 -5 15 -8 15 -14 15 -18 15 -23 15 -40 19 -30 10 -30 8 -30 6 -30 3 -30 2 -30-1 -30-2 -30-4 -30-6 -30-9 -28-11 -17-9 -11-6 -19-15 -12-15 -8-15 -3-15 0-15 5-15 9-15 13-15 18-15 25-16 28-12 30-10 31-8M2708 3245l42-10 48-10 90-15 105-11 105-6 90 0 90 3 135 9 194 15 90 9 75 9 63 12 57 15 45 17 26 13 22 15 14 15 7 15 1 15 -5 15 -11 16 -16 15 -8 5 -14 10 -30 15 -37 15 -24 8 -30 9 -45 11 -75 16 -90 14 -104 11 -120 7 -105 3 -105-2 -120-5 -105-10 -90-12 -90-16 -75-19M2708 3291l23-11 37-12 68-18 82-15 75-9 75-7 90-3 90 0 105 5 135 9 105 10 77 10 81 15 36 10 30 9 27 11 27 15 16 15 9 15 1 15 -5 15 -13 16 -19 15 -27 15 -16 6 -20 9 -47 15 -68 16 -89 16 -90 10 -105 8 -105 3 -105-2 -105-5 -90-9 -90-13 -75-16 -32-8 -43-14 -45-19M3012 3250l56-6 60-4 60-2 75 0 75 3 75 4 75 7 75 8 44 7 60 12 57 16 34 15 21 15 11 15 1 15 -7 15 -15 16 -23 15 -34 15 -47 15 -43 10 -44 9 -60 9 -60 6 -60 5 -60 2 -75 1 -60-1 -60-3 -60-4 -60-7 -60-9 -45-9 -37-9 -47-15 -34-15 -24-15 -15-16 -6-15 1-15 9-15 20-15 30-15 43-15 45-11 45-9 64-10M3133 3265l85-3 105 1 90 5 101 12 75 15 47 15 28 15 14 15 2 15 -8 15 -20 15 -31 16 -43 13 -30 7 -49 10 -41 5 -45 5 -60 4 -105 2 -45-2 -60-3 -45-5 -51-6 -54-11 -30-7 -38-12 -32-15 -20-17 -8-14 1-15 13-15 24-14 43-16 47-11 30-6 60-8 50-5M3141 3295l62-4 75-2 75 3 60 6 69 12 45 15 21 15 2 15 -12 15 -30 16 -56 15 -54 8 -75 6 -60 1 -60-2 -75-8 -35-5 -55-15 -30-16 -13-15 1-15 20-15 41-15 41-8 43-7" fill="none" stroke="#1a3a3a" stroke-width="4.5" opacity="0.8"/>
</g></g>
<path d="M270.8 215.2V355.1H449.2" fill="none" stroke="#000" stroke-width="0.8"/>
<path d="M270.8 355.1v3M300.53 355.1v1.5M330.27 355.1v3M360 355.1v1.5M389.73 355.1v3M419.47 355.1v1.5M449.2 355.1v3M270.8 215.2h-3.2M270.8 238.52h-1.5M270.8 261.83h-3.2M270.8 285.15h-1.5M270.8 308.47h-3.2M270.8 331.78h-1.5M270.8 355.1h-3.2" stroke="#000" stroke-width="0.7"/>
<g font-family='"Liberation Sans", Arial, sans-serif' font-size="7.7" fill="#000">
<text x="270.8" y="366.6" text-anchor="middle">0</text>
<text x="330.27" y="366.6" text-anchor="middle">4</text>
<text x="389.73" y="366.6" text-anchor="middle">8</text>
<text x="449.2" y="366.6" text-anchor="middle">12</text>
<text x="264.5" y="217.5" text-anchor="end">4</text>
<text x="264.5" y="264.13" text-anchor="end">3</text>
<text x="264.5" y="310.77" text-anchor="end">2</text>
<text x="264.5" y="357.4" text-anchor="end">1</text>
<text x="353.4" y="378.1" font-size="9" text-anchor="middle">K (Å<tspan font-size="5.5" dy="-3">-1</tspan><tspan dy="3">)</tspan></text>
<text transform="translate(253.8 286) rotate(-90)" font-size="9" text-anchor="middle">R+α (Å)</text>
<g fill="#fff" font-size="7"><text x="277.5" y="230.3">Fe-TiO<tspan font-size="4.5" dy="1.6">2</tspan></text><text x="379" y="264.8" opacity="0.85">Fe-Ti</text><text x="387.5" y="305.4">Fe-O</text></g>
</g>
</g>
<g id="panel_f">
<defs>
<radialGradient id="fO" cx="0.4" cy="0.35" r="0.7"><stop offset="0" stop-color="#ff3a2a"/><stop offset="0.5" stop-color="#e00c0c"/><stop offset="1" stop-color="#700000"/></radialGradient>
<radialGradient id="fFe" cx="0.4" cy="0.35" r="0.7"><stop offset="0" stop-color="#9488d8"/><stop offset="0.55" stop-color="#7264b4"/><stop offset="1" stop-color="#3e3478"/></radialGradient>
<radialGradient id="fTi" cx="0.4" cy="0.35" r="0.7"><stop offset="0" stop-color="#f4f4f4"/><stop offset="0.55" stop-color="#bcbcbc"/><stop offset="1" stop-color="#6a6a6a"/></radialGradient>
<clipPath id="f1"><rect x="499" y="213.5" width="178" height="167.5"/></clipPath>
</defs>
<g clip-path="url(#f1)">
<path d="M504.8 214.5V316M521.65 214.5V316M538.5 214.5V316M555.35 214.5V316M572.2 214.5V316M589.05 214.5V316M605.9 214.5V316M622.75 214.5V316M639.6 214.5V316M656.45 214.5V316M673.3 214.5V316M500.5 224H676.5M500.5 245H676.5M500.5 266H676.5M500.5 287H676.5M500.5 308H676.5" stroke="#dcdcdc" stroke-width="0.6" fill="none"/>
<path d="M496.8 224h16M504.8 214.5v19M530.5 224h16M538.5 214.5v19M564.2 224h16M572.2 214.5v19M597.9 224h16M605.9 214.5v19M631.6 224h16M639.6 214.5v19M665.3 224h16M673.3 214.5v19M513.65 245h16M521.65 235.5v19M547.35 245h16M555.35 235.5v19M581.05 245h16M589.05 235.5v19M614.75 245h16M622.75 235.5v19M648.45 245h16M656.45 235.5v19M496.8 266h16M504.8 256.5v19M530.5 266h16M538.5 256.5v19M564.2 266h16M572.2 256.5v19M597.9 266h16M605.9 256.5v19M631.6 266h16M639.6 256.5v19M665.3 266h16M673.3 256.5v19M513.65 287h16M521.65 277.5v19M547.35 287h16M555.35 277.5v19M581.05 287h16M589.05 277.5v19M614.75 287h16M622.75 277.5v19M648.45 287h16M656.45 277.5v19M496.8 308h16M504.8 298.5v19M530.5 308h16M538.5 298.5v19M564.2 308h16M572.2 298.5v19M597.9 308h16M605.9 298.5v19M631.6 308h16M639.6 298.5v19M665.3 308h16M673.3 298.5v19" stroke="#f99c9c" stroke-width="0.7" fill="none"/>
<path d="M500.3 224h9M504.8 218.5v11M534 224h9M538.5 218.5v11M567.7 224h9M572.2 218.5v11M601.4 224h9M605.9 218.5v11M635.1 224h9M639.6 218.5v11M668.8 224h9M673.3 218.5v11M517.15 245h9M521.65 239.5v11M550.85 245h9M555.35 239.5v11M584.55 245h9M589.05 239.5v11M618.25 245h9M622.75 239.5v11M651.95 245h9M656.45 239.5v11M500.3 266h9M504.8 260.5v11M534 266h9M538.5 260.5v11M567.7 266h9M572.2 260.5v11M601.4 266h9M605.9 260.5v11M635.1 266h9M639.6 260.5v11M668.8 266h9M673.3 260.5v11M517.15 287h9M521.65 281.5v11M550.85 287h9M555.35 281.5v11M584.55 287h9M589.05 281.5v11M618.25 287h9M622.75 281.5v11M651.95 287h9M656.45 281.5v11M500.3 308h9M504.8 302.5v11M534 308h9M538.5 302.5v11M567.7 308h9M572.2 302.5v11M601.4 308h9M605.9 302.5v11M635.1 308h9M639.6 302.5v11M668.8 308h9M673.3 302.5v11" stroke="#fb4a4a" stroke-width="0.75" fill="none"/>
<path d="M479.27 332.25L487.7 338M479.27 353.8L470.85 362.2M479.27 346.25L487.7 338M479.27 367.3L470.85 362.2M496.12 332.25L487.7 338M496.12 353.8L504.55 362.2M496.12 346.25L487.7 338M496.12 367.3L504.55 362.2M487.7 341.7L487.7 338M504.55 358.35L504.55 362.2M512.97 332.25L521.4 338M512.97 353.8L504.55 362.2M512.97 346.25L521.4 338M512.97 367.3L504.55 362.2M529.83 332.25L521.4 338M529.83 353.8L538.25 362.2M529.83 346.25L521.4 338M529.83 367.3L538.25 362.2M521.4 341.7L521.4 338M538.25 358.35L538.25 362.2M546.67 332.25L555.1 338M546.67 353.8L538.25 362.2M546.67 346.25L555.1 338M546.67 367.3L538.25 362.2M563.52 332.25L555.1 338M563.52 353.8L571.95 362.2M563.52 346.25L555.1 338M563.52 367.3L571.95 362.2M555.1 341.7L555.1 338M571.95 358.35L571.95 362.2M580.38 332.25L588.8 338M580.38 353.8L571.95 362.2M580.38 346.25L588.8 338M580.38 367.3L571.95 362.2M597.22 332.25L588.8 338M597.22 353.8L605.65 362.2M597.22 346.25L588.8 338M597.22 367.3L605.65 362.2M588.8 341.7L588.8 338M605.65 358.35L605.65 362.2M614.08 332.25L622.5 338M614.08 353.8L605.65 362.2M614.08 346.25L622.5 338M614.08 367.3L605.65 362.2M630.92 332.25L622.5 338M630.92 353.8L639.35 362.2M630.92 346.25L622.5 338M630.92 367.3L639.35 362.2M622.5 341.7L622.5 338M639.35 358.35L639.35 362.2M647.77 332.25L656.2 338M647.77 353.8L639.35 362.2M647.77 346.25L656.2 338M647.77 367.3L639.35 362.2M664.62 332.25L656.2 338M664.62 353.8L673.05 362.2M664.62 346.25L656.2 338M664.62 367.3L673.05 362.2M656.2 341.7L656.2 338M673.05 358.35L673.05 362.2M681.47 332.25L689.9 338M681.47 353.8L673.05 362.2M681.47 346.25L689.9 338M681.47 367.3L673.05 362.2M698.33 332.25L689.9 338M698.33 353.8L706.75 362.2M698.33 346.25L689.9 338M698.33 367.3L706.75 362.2M689.9 341.7L689.9 338M706.75 358.35L706.75 362.2" stroke="#c8c8c8" stroke-width="0.8" fill="none"/>
<path d="M470.85 326.5L479.27 332.25M487.7 345.4L479.27 353.8M470.85 354.5L479.27 346.25M487.7 372.4L479.27 367.3M504.55 326.5L496.12 332.25M487.7 345.4L496.12 353.8M504.55 354.5L496.12 346.25M487.7 372.4L496.12 367.3M487.7 345.4L487.7 341.7M504.55 354.5L504.55 358.35M504.55 326.5L512.97 332.25M521.4 345.4L512.97 353.8M504.55 354.5L512.97 346.25M521.4 372.4L512.97 367.3M538.25 326.5L529.83 332.25M521.4 345.4L529.83 353.8M538.25 354.5L529.83 346.25M521.4 372.4L529.83 367.3M521.4 345.4L521.4 341.7M538.25 354.5L538.25 358.35M538.25 326.5L546.67 332.25M555.1 345.4L546.67 353.8M538.25 354.5L546.67 346.25M555.1 372.4L546.67 367.3M571.95 326.5L563.52 332.25M555.1 345.4L563.52 353.8M571.95 354.5L563.52 346.25M555.1 372.4L563.52 367.3M555.1 345.4L555.1 341.7M571.95 354.5L571.95 358.35M571.95 326.5L580.38 332.25M588.8 345.4L580.38 353.8M571.95 354.5L580.38 346.25M588.8 372.4L580.38 367.3M605.65 326.5L597.22 332.25M588.8 345.4L597.22 353.8M605.65 354.5L597.22 346.25M588.8 372.4L597.22 367.3M588.8 345.4L588.8 341.7M605.65 354.5L605.65 358.35M605.65 326.5L614.08 332.25M622.5 345.4L614.08 353.8M605.65 354.5L614.08 346.25M622.5 372.4L614.08 367.3M639.35 326.5L630.92 332.25M622.5 345.4L630.92 353.8M639.35 354.5L630.92 346.25M622.5 372.4L630.92 367.3M622.5 345.4L622.5 341.7M639.35 354.5L639.35 358.35M639.35 326.5L647.77 332.25M656.2 345.4L647.77 353.8M639.35 354.5L647.77 346.25M656.2 372.4L647.77 367.3M673.05 326.5L664.62 332.25M656.2 345.4L664.62 353.8M673.05 354.5L664.62 346.25M656.2 372.4L664.62 367.3M656.2 345.4L656.2 341.7M673.05 354.5L673.05 358.35M673.05 326.5L681.47 332.25M689.9 345.4L681.47 353.8M673.05 354.5L681.47 346.25M689.9 372.4L681.47 367.3M706.75 326.5L698.33 332.25M689.9 345.4L698.33 353.8M706.75 354.5L698.33 346.25M689.9 372.4L698.33 367.3M689.9 345.4L689.9 341.7M706.75 354.5L706.75 358.35" stroke="#fa3030" stroke-width="0.85" fill="none"/>
</g>
<g stroke-linecap="butt"><path d="M555.3 265.9L546.25 265.9" stroke="#5a4fa0" stroke-width="3.2"/><path d="M546.25 265.9L537.2 265.9" stroke="#b80808" stroke-width="3.2"/><path d="M555.3 265.9L546.25 265.9" stroke="#7e72c8" stroke-width="1.6"/><path d="M546.25 265.9L537.2 265.9" stroke="#f01818" stroke-width="1.6"/><path d="M555.3 265.9L563.95 265.9" stroke="#5a4fa0" stroke-width="3.2"/><path d="M563.95 265.9L572.6 265.9" stroke="#b80808" stroke-width="3.2"/><path d="M555.3 265.9L563.95 265.9" stroke="#7e72c8" stroke-width="1.6"/><path d="M563.95 265.9L572.6 265.9" stroke="#f01818" stroke-width="1.6"/><path d="M588.7 265.9L580.65 265.9" stroke="#8c8c8c" stroke-width="3.2"/><path d="M580.65 265.9L572.6 265.9" stroke="#b80808" stroke-width="3.2"/><path d="M588.7 265.9L580.65 265.9" stroke="#cfcfcf" stroke-width="1.6"/><path d="M580.65 265.9L572.6 265.9" stroke="#f01818" stroke-width="1.6"/><path d="M588.7 265.9L597.05 265.9" stroke="#8c8c8c" stroke-width="3.2"/><path d="M597.05 265.9L605.4 265.9" stroke="#b80808" stroke-width="3.2"/><path d="M588.7 265.9L597.05 265.9" stroke="#cfcfcf" stroke-width="1.6"/><path d="M597.05 265.9L605.4 265.9" stroke="#f01818" stroke-width="1.6"/><path d="M622.6 265.9L614 265.9" stroke="#5a4fa0" stroke-width="3.2"/><path d="M614 265.9L605.4 265.9" stroke="#b80808" stroke-width="3.2"/><path d="M622.6 265.9L614 265.9" stroke="#7e72c8" stroke-width="1.6"/><path d="M614 265.9L605.4 265.9" stroke="#f01818" stroke-width="1.6"/><path d="M622.6 265.9L631.4 265.9" stroke="#5a4fa0" stroke-width="3.2"/><path d="M631.4 265.9L640.2 265.9" stroke="#b80808" stroke-width="3.2"/><path d="M622.6 265.9L631.4 265.9" stroke="#7e72c8" stroke-width="1.6"/><path d="M631.4 265.9L640.2 265.9" stroke="#f01818" stroke-width="1.6"/><path d="M555.3 265.9L555.3 254.8" stroke="#5a4fa0" stroke-width="3.2"/><path d="M555.3 254.8L555.3 243.7" stroke="#b80808" stroke-width="3.2"/><path d="M555.3 265.9L555.3 254.8" stroke="#7e72c8" stroke-width="1.6"/><path d="M555.3 254.8L555.3 243.7" stroke="#f01818" stroke-width="1.6"/><path d="M555.3 265.9L555.3 276.45" stroke="#5a4fa0" stroke-width="3.2"/><path d="M555.3 276.45L555.3 287" stroke="#b80808" stroke-width="3.2"/><path d="M555.3 265.9L555.3 276.45" stroke="#7e72c8" stroke-width="1.6"/><path d="M555.3 276.45L555.3 287" stroke="#f01818" stroke-width="1.6"/><path d="M622.6 265.9L622.6 254.8" stroke="#5a4fa0" stroke-width="3.2"/><path d="M622.6 254.8L622.6 243.7" stroke="#b80808" stroke-width="3.2"/><path d="M622.6 265.9L622.6 254.8" stroke="#7e72c8" stroke-width="1.6"/><path d="M622.6 254.8L622.6 243.7" stroke="#f01818" stroke-width="1.6"/><path d="M622.6 265.9L622.6 276.45" stroke="#5a4fa0" stroke-width="3.2"/><path d="M622.6 276.45L622.6 287" stroke="#b80808" stroke-width="3.2"/><path d="M622.6 265.9L622.6 276.45" stroke="#7e72c8" stroke-width="1.6"/><path d="M622.6 276.45L622.6 287" stroke="#f01818" stroke-width="1.6"/></g><circle cx="537.2" cy="265.9" r="3.9" fill="url(#fO)"/><circle cx="572.6" cy="265.9" r="3.9" fill="url(#fO)"/><circle cx="605.4" cy="265.9" r="3.9" fill="url(#fO)"/><circle cx="640.2" cy="265.9" r="3.9" fill="url(#fO)"/><circle cx="555.3" cy="243.7" r="3.9" fill="url(#fO)"/><circle cx="555.3" cy="287" r="3.9" fill="url(#fO)"/><circle cx="555.3" cy="265.9" r="4" fill="url(#fFe)"/><circle cx="622.6" cy="243.7" r="3.9" fill="url(#fO)"/><circle cx="622.6" cy="287" r="3.9" fill="url(#fO)"/><circle cx="622.6" cy="265.9" r="4" fill="url(#fFe)"/><circle cx="588.7" cy="265.9" r="3.9" fill="url(#fTi)"/>
<g stroke-linecap="butt"><path d="M552.6 337.3L545 330.6" stroke="#5a4fa0" stroke-width="3.2"/><path d="M545 330.6L537.4 323.9" stroke="#b80808" stroke-width="3.2"/><path d="M552.6 337.3L545 330.6" stroke="#7e72c8" stroke-width="1.6"/><path d="M545 330.6L537.4 323.9" stroke="#f01818" stroke-width="1.6"/><path d="M552.6 337.3L545 346.45" stroke="#5a4fa0" stroke-width="3.2"/><path d="M545 346.45L537.4 355.6" stroke="#b80808" stroke-width="3.2"/><path d="M552.6 337.3L545 346.45" stroke="#7e72c8" stroke-width="1.6"/><path d="M545 346.45L537.4 355.6" stroke="#f01818" stroke-width="1.6"/><path d="M552.6 337.3L562.45 346.05" stroke="#5a4fa0" stroke-width="3.2"/><path d="M562.45 346.05L572.3 354.8" stroke="#b80808" stroke-width="3.2"/><path d="M552.6 337.3L562.45 346.05" stroke="#7e72c8" stroke-width="1.6"/><path d="M562.45 346.05L572.3 354.8" stroke="#f01818" stroke-width="1.6"/><path d="M623.6 337.3L631.7 330.6" stroke="#5a4fa0" stroke-width="3.2"/><path d="M631.7 330.6L639.8 323.9" stroke="#b80808" stroke-width="3.2"/><path d="M623.6 337.3L631.7 330.6" stroke="#7e72c8" stroke-width="1.6"/><path d="M631.7 330.6L639.8 323.9" stroke="#f01818" stroke-width="1.6"/><path d="M623.6 337.3L631.7 346.45" stroke="#5a4fa0" stroke-width="3.2"/><path d="M631.7 346.45L639.8 355.6" stroke="#b80808" stroke-width="3.2"/><path d="M623.6 337.3L631.7 346.45" stroke="#7e72c8" stroke-width="1.6"/><path d="M631.7 346.45L639.8 355.6" stroke="#f01818" stroke-width="1.6"/><path d="M623.6 337.3L614.45 346.05" stroke="#5a4fa0" stroke-width="3.2"/><path d="M614.45 346.05L605.3 354.8" stroke="#b80808" stroke-width="3.2"/><path d="M623.6 337.3L614.45 346.05" stroke="#7e72c8" stroke-width="1.6"/><path d="M614.45 346.05L605.3 354.8" stroke="#f01818" stroke-width="1.6"/><path d="M588.7 342.2L580.5 348.5" stroke="#8c8c8c" stroke-width="3.2"/><path d="M580.5 348.5L572.3 354.8" stroke="#b80808" stroke-width="3.2"/><path d="M588.7 342.2L580.5 348.5" stroke="#cfcfcf" stroke-width="1.6"/><path d="M580.5 348.5L572.3 354.8" stroke="#f01818" stroke-width="1.6"/><path d="M588.7 342.2L597 348.5" stroke="#8c8c8c" stroke-width="3.2"/><path d="M597 348.5L605.3 354.8" stroke="#b80808" stroke-width="3.2"/><path d="M588.7 342.2L597 348.5" stroke="#cfcfcf" stroke-width="1.6"/><path d="M597 348.5L605.3 354.8" stroke="#f01818" stroke-width="1.6"/></g><circle cx="537.4" cy="323.9" r="4.2" fill="url(#fO)"/><circle cx="537.4" cy="355.6" r="4.2" fill="url(#fO)"/><circle cx="572.3" cy="354.8" r="4.2" fill="url(#fO)"/><circle cx="639.8" cy="323.9" r="4.2" fill="url(#fO)"/><circle cx="639.8" cy="355.6" r="4.2" fill="url(#fO)"/><circle cx="605.3" cy="354.8" r="4.2" fill="url(#fO)"/><circle cx="552.6" cy="337.3" r="4.1" fill="url(#fFe)"/><circle cx="623.6" cy="337.3" r="4.1" fill="url(#fFe)"/><circle cx="555.8" cy="343.6" r="4.4" fill="url(#fO)"/><circle cx="621" cy="343.6" r="4.4" fill="url(#fO)"/><circle cx="588.7" cy="342.2" r="4.3" fill="url(#fTi)"/>
<path d="M558 336.8L619 337.4" stroke="#111" stroke-width="0.6"/><path d="M556.2 336.8l4.2 -1.5v3zM622.8 337.4l-4.2 -1.5v3z" fill="#111"/>
<g font-family='"Liberation Sans", Arial, sans-serif' font-size="12" fill="#111">
<text x="505.6" y="231.3" font-size="15.2">top</text>
<text x="539.8" y="261.2" font-size="12.6">Fe</text><text x="568.2" y="260">O</text><text x="585" y="260">Ti</text><text x="601.5" y="260">O</text><text x="626.4" y="261.2" font-size="12.6">Fe</text>
<text x="504.2" y="337.2" font-size="14.7">side</text><text x="573.4" y="334.8" font-size="13.1">6.33 Å</text>
</g>
</g>
<g font-family='"Liberation Sans", Arial, sans-serif' font-size="15" fill="#000">
<text x="1.2" y="10.9">a</text><text x="238.3" y="12">b</text><text x="473.8" y="11.8">c</text>
<text x="1.2" y="208.4">d</text><text x="238.8" y="208.3">e</text><text x="475.2" y="208.2">f</text></g>
</svg>
</body></html>
